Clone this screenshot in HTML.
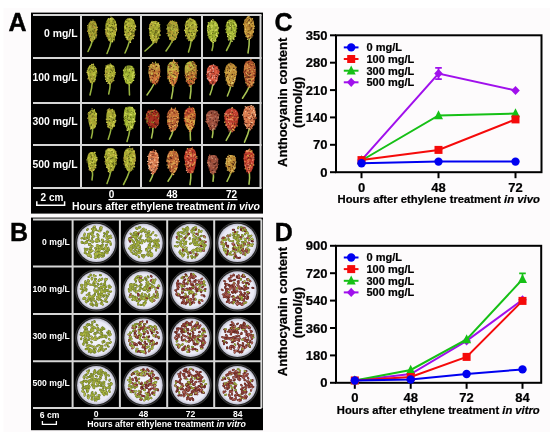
<!DOCTYPE html><html><head><meta charset="utf-8"><style>
html,body{margin:0;padding:0;background:#fff;}
svg{display:block;}
text{font-family:"Liberation Sans",Arial,sans-serif;font-weight:bold;stroke:#000;stroke-width:0.22px;}
.pl{font-size:25px;fill:#000;stroke:#000;stroke-width:0.4px;}
.tk{font-size:13px;fill:#000;}
.lg{font-size:11px;fill:#000;}
.ax{font-size:10px;fill:#000;}
.wt{fill:#fff;stroke:none;}
</style></head><body>
<svg width="550" height="437" viewBox="0 0 550 437">
<defs>
<filter id="bl" x="-20%" y="-20%" width="140%" height="140%"><feGaussianBlur stdDeviation="0.35"/></filter>
<filter id="bl2" x="-5%" y="-5%" width="110%" height="110%"><feGaussianBlur stdDeviation="0.22"/></filter>
<radialGradient id="rim"><stop offset="0.86" stop-color="#707070"/><stop offset="0.93" stop-color="#3a3a3a"/><stop offset="1" stop-color="#1a1a1a"/></radialGradient>
<radialGradient id="plate"><stop offset="0" stop-color="#f6f6fc"/><stop offset="0.85" stop-color="#eaeaf6"/><stop offset="1" stop-color="#c0c0d0"/></radialGradient>
</defs>
<rect width="550" height="437" fill="#fff"/>
<rect x="3.5" y="8" width="546.5" height="424" fill="#fdfbfc"/>

<text x="8.6" y="30.8" class="pl">A</text>
<text x="10" y="240.8" class="pl">B</text>
<text x="274.5" y="30.8" class="pl">C</text>
<text x="274.8" y="240.5" class="pl">D</text>
<rect x="31" y="12.6" width="232" height="201" fill="#000"/>
<g filter="url(#bl)"><path d="M92.8 39.5Q91.2 45.5 88.0 51.5" stroke="#98b440" stroke-width="1.55" fill="none" stroke-linecap="round"/><path d="M97.0 31.0 96.7 33.2 96.4 34.9 96.0 36.5 95.5 37.8 95.0 38.9 94.5 39.8 93.9 40.5 93.3 40.9 92.5 41.0 91.7 40.9 91.1 40.5 90.5 39.8 90.0 38.9 89.5 37.8 89.0 36.5 88.6 34.9 88.3 33.2 88.0 31.0 87.8 28.8 87.9 27.1 88.1 25.5 88.4 24.2 88.9 23.1 89.6 22.2 90.4 21.5 91.3 21.1 92.5 21.0 93.7 21.1 94.6 21.5 95.4 22.2 96.1 23.1 96.6 24.2 96.9 25.5 97.1 27.1 97.2 28.8Z" fill="#a4a234"/><path d="M90.7 40.5h0M96.3 36.9h0M97.2 27.6h0M87.7 25.8h0M95.7 36.9h0M94.7 38.8h0M96.3 35.2h0M91.6 41.4h0M94.4 37.4h0M89.9 27.0h0M90.4 37.2h0M92.1 32.3h0M89.5 34.1h0M88.9 32.9h0M94.1 37.0h0M88.5 28.6h0" stroke="#c8c048" stroke-width="1.4" stroke-linecap="round"/><path d="M93.4 41.0h0M95.7 38.3h0M88.2 28.2h0M88.3 25.9h0M95.9 34.1h0M94.2 30.0h0M90.4 36.3h0M93.5 32.0h0M92.6 31.0h0M90.1 31.7h0M91.6 35.0h0M93.3 24.5h0M95.1 29.4h0M92.5 24.3h0M92.2 27.1h0M95.3 36.1h0M89.0 34.7h0" stroke="#606018" stroke-width="1.4" stroke-linecap="round"/><path d="M97.1 29.7h0M93.0 20.1h0M89.2 31.7h0M90.2 36.4h0M94.4 34.4h0M95.1 24.9h0M88.3 29.9h0M94.0 23.3h0M94.8 35.0h0M96.1 30.0h0M92.7 38.4h0" stroke="#b8c040" stroke-width="1.4" stroke-linecap="round"/><path d="M87.6 31.2h0M90.3 39.7h0M96.7 34.9h0M97.2 27.2h0M92.3 24.9h0M92.2 34.5h0M94.1 27.1h0M96.1 30.3h0M90.2 24.1h0M93.4 25.2h0M90.3 35.2h0M95.3 23.1h0M93.2 26.9h0M90.8 22.1h0M94.0 21.9h0M95.7 32.3h0M94.8 27.9h0" stroke="#c89838" stroke-width="1.4" stroke-linecap="round"/><path d="M94.8 21.5h0M88.0 27.4h0M90.8 21.1h0M87.9 31.3h0M94.9 34.2h0M92.2 34.6h0M91.2 24.5h0M91.2 32.2h0M88.2 28.8h0M96.4 32.4h0M89.0 32.1h0M96.6 32.4h0M93.0 24.0h0M93.4 38.4h0M93.1 27.5h0M94.5 31.8h0M90.2 23.5h0" stroke="#8c8424" stroke-width="1.4" stroke-linecap="round"/><path d="M95.8 25.9h0M92.6 25.7h0M94.0 22.8h0M94.3 25.3h0M90.7 37.5h0M94.4 35.1h0M96.7 31.9h0" stroke="#54541a" stroke-width="1.1" stroke-linecap="round"/></g>
<g filter="url(#bl)"><path d="M111.3 40.5Q110.0 47.0 107.0 53.5" stroke="#98b440" stroke-width="1.55" fill="none" stroke-linecap="round"/><path d="M116.4 30.0 116.1 32.6 115.7 34.7 115.2 36.6 114.6 38.2 114.0 39.5 113.4 40.6 112.7 41.4 111.9 41.8 111.0 42.0 110.1 41.8 109.3 41.4 108.6 40.6 108.0 39.5 107.4 38.2 106.8 36.6 106.3 34.7 105.9 32.6 105.6 30.0 105.4 27.4 105.4 25.3 105.7 23.4 106.1 21.8 106.7 20.5 107.5 19.4 108.4 18.6 109.6 18.2 111.0 18.0 112.4 18.2 113.6 18.6 114.5 19.4 115.3 20.5 115.9 21.8 116.3 23.4 116.6 25.3 116.6 27.4Z" fill="#a4a830"/><path d="M108.4 18.7h0M115.3 22.1h0M111.9 17.6h0M114.2 39.3h0M116.4 27.9h0M110.5 26.7h0M111.7 25.3h0M110.9 31.5h0M115.1 32.6h0M113.0 19.0h0M115.8 28.8h0M109.5 25.2h0M110.2 31.4h0M109.9 38.8h0M111.1 21.2h0M115.8 25.5h0M109.8 38.3h0M111.0 19.3h0M113.2 28.1h0M112.8 25.1h0M106.6 27.0h0" stroke="#c8cc44" stroke-width="1.4" stroke-linecap="round"/><path d="M114.0 40.8h0M106.5 22.6h0M114.3 40.5h0M110.9 16.8h0M106.9 21.9h0M112.9 27.2h0M112.2 24.6h0M111.5 26.8h0M113.5 27.3h0M113.7 28.9h0M114.8 28.9h0M113.9 28.8h0M110.1 37.6h0M114.7 35.7h0M107.5 25.7h0M109.0 21.2h0M111.4 40.1h0M110.1 27.5h0M107.5 37.3h0M105.8 28.3h0M114.6 23.6h0M112.5 24.6h0M109.4 32.9h0" stroke="#606418" stroke-width="1.4" stroke-linecap="round"/><path d="M105.6 32.1h0M105.4 29.4h0M108.1 19.6h0M112.3 18.6h0M116.5 29.5h0M111.8 36.2h0M108.8 30.0h0M110.7 25.7h0M114.9 34.3h0M111.0 30.7h0M110.6 31.9h0M111.4 34.9h0M108.4 28.9h0M106.5 31.7h0M114.5 28.4h0M107.5 24.4h0M112.8 35.3h0M113.1 34.6h0M113.4 26.4h0M115.2 35.2h0M111.1 20.7h0M113.3 35.7h0" stroke="#b4b83a" stroke-width="1.4" stroke-linecap="round"/><path d="M112.5 41.8h0M116.0 24.5h0M116.3 29.3h0M107.3 28.1h0M115.2 34.4h0M116.2 30.8h0M108.6 29.0h0M107.8 33.4h0M108.8 34.3h0M110.0 32.9h0M110.6 18.5h0M112.9 33.2h0M110.1 38.1h0M112.4 40.9h0M106.1 30.1h0M111.3 30.1h0M109.4 39.4h0" stroke="#d8d458" stroke-width="1.4" stroke-linecap="round"/><path d="M106.5 35.9h0M106.0 34.3h0M109.1 40.4h0M105.9 33.1h0M115.4 31.0h0M116.2 27.3h0M108.5 35.4h0M108.3 21.8h0M109.8 22.1h0M106.6 32.2h0M114.5 30.9h0M113.9 32.9h0M111.0 36.0h0M107.4 36.4h0M114.2 27.0h0M106.1 31.0h0" stroke="#b09838" stroke-width="1.4" stroke-linecap="round"/><path d="M113.3 20.3h0M112.6 28.5h0M114.1 29.2h0M109.9 31.2h0M114.0 20.9h0M115.1 28.4h0M113.4 38.0h0M113.6 38.3h0M114.5 24.2h0M113.0 22.1h0M111.9 31.2h0M107.0 26.7h0M115.7 30.2h0M110.3 27.5h0M111.8 27.3h0M110.7 32.4h0M109.1 38.2h0M107.4 30.9h0M112.4 31.6h0M109.5 23.3h0M114.8 23.0h0M110.5 35.8h0M113.7 29.1h0M111.2 38.1h0" stroke="#54541a" stroke-width="1.1" stroke-linecap="round"/></g>
<g filter="url(#bl)"><path d="M129.9 39.6Q128.2 46.3 125.0 53.0" stroke="#98b440" stroke-width="1.55" fill="none" stroke-linecap="round"/><path d="M135.0 29.6 134.7 32.1 134.3 34.1 133.8 35.9 133.2 37.4 132.6 38.7 132.0 39.7 131.3 40.5 130.5 40.9 129.6 41.1 128.7 40.9 127.9 40.5 127.2 39.7 126.6 38.7 126.0 37.4 125.4 35.9 124.9 34.1 124.5 32.1 124.2 29.6 124.0 27.1 124.0 25.1 124.3 23.3 124.7 21.8 125.3 20.5 126.1 19.5 127.0 18.7 128.2 18.3 129.6 18.1 131.0 18.3 132.2 18.7 133.1 19.5 133.9 20.5 134.5 21.8 134.9 23.3 135.2 25.1 135.2 27.1Z" fill="#a4a830"/><path d="M124.6 34.8h0M133.3 20.6h0M130.4 42.3h0M125.7 28.2h0M128.0 30.9h0M129.1 36.1h0M129.7 27.4h0M125.2 31.8h0M128.6 35.0h0M129.6 32.4h0M134.6 28.3h0M129.5 32.8h0M125.0 27.2h0M133.6 28.2h0M128.8 23.2h0M128.2 25.5h0M126.1 21.4h0M130.7 33.5h0M128.3 39.3h0M133.3 28.4h0" stroke="#c8cc44" stroke-width="1.4" stroke-linecap="round"/><path d="M125.1 34.6h0M133.2 38.2h0M133.7 35.2h0M128.7 27.1h0M126.8 20.3h0M126.0 34.0h0M132.8 32.8h0M128.0 39.0h0M131.4 35.2h0M129.0 18.5h0M133.1 34.5h0M126.4 37.3h0M130.9 28.7h0M133.9 24.4h0M128.3 38.4h0M131.6 32.0h0M125.8 30.5h0M129.4 37.0h0M133.3 29.2h0M128.3 32.7h0M130.7 35.3h0M129.7 30.4h0M126.7 26.4h0M130.4 31.4h0M132.3 34.5h0" stroke="#606418" stroke-width="1.4" stroke-linecap="round"/><path d="M127.0 39.1h0M126.0 37.2h0M127.1 39.4h0M130.1 41.7h0M135.6 29.7h0M134.0 27.3h0M127.0 30.8h0M125.6 32.5h0M128.8 19.5h0M132.8 27.6h0M127.1 25.6h0M130.2 23.7h0M130.1 32.2h0M130.5 28.5h0M131.1 23.1h0M128.0 39.8h0M125.7 34.8h0M127.6 29.5h0" stroke="#b4b83a" stroke-width="1.4" stroke-linecap="round"/><path d="M130.5 42.2h0M131.7 19.4h0M133.8 36.0h0M133.2 38.5h0M135.2 25.2h0M135.3 26.8h0M135.6 26.4h0M130.5 34.5h0M133.5 30.9h0M130.8 30.5h0M125.2 26.0h0M127.0 37.5h0M127.8 38.2h0M132.8 35.5h0M125.3 34.9h0M130.4 33.2h0M128.6 26.7h0M131.3 29.4h0M131.6 26.0h0M126.5 37.1h0M133.1 31.1h0M131.1 31.0h0M129.4 19.1h0M127.4 24.1h0M125.6 34.3h0" stroke="#d8d458" stroke-width="1.4" stroke-linecap="round"/><path d="M134.4 35.3h0M134.8 27.4h0M127.7 19.1h0M134.9 25.6h0M132.4 29.9h0M132.6 35.2h0M130.7 28.2h0M128.6 33.8h0M129.4 39.2h0M128.2 34.5h0M125.2 32.0h0M129.7 34.0h0M129.7 32.1h0M131.2 28.4h0M128.5 25.8h0" stroke="#b09838" stroke-width="1.4" stroke-linecap="round"/><path d="M131.7 31.3h0M125.3 30.0h0M129.6 27.6h0M132.8 31.0h0M133.8 32.2h0M128.8 21.1h0M131.7 27.5h0M126.2 23.3h0M126.6 26.8h0M125.6 23.7h0M130.6 29.6h0M131.3 32.0h0M129.0 40.6h0M124.8 24.9h0" stroke="#54541a" stroke-width="1.1" stroke-linecap="round"/></g>
<g filter="url(#bl)"><path d="M154.9 41.5Q150.8 46.2 145.0 51.0" stroke="#98b440" stroke-width="1.55" fill="none" stroke-linecap="round"/><path d="M160.0 32.0 159.7 34.4 159.3 36.3 158.8 38.0 158.2 39.5 157.6 40.7 157.0 41.7 156.3 42.4 155.5 42.9 154.6 43.0 153.7 42.9 152.9 42.4 152.2 41.7 151.6 40.7 151.0 39.5 150.4 38.0 149.9 36.3 149.5 34.4 149.2 32.0 149.0 29.6 149.0 27.7 149.3 26.0 149.7 24.5 150.3 23.3 151.1 22.3 152.0 21.6 153.2 21.1 154.6 21.0 156.0 21.1 157.2 21.6 158.1 22.3 158.9 23.3 159.5 24.5 159.9 26.0 160.2 27.7 160.2 29.6Z" fill="#a4a830"/><path d="M160.0 35.0h0M158.9 38.2h0M159.7 24.7h0M158.7 22.8h0M150.7 29.2h0M156.4 40.2h0M150.5 32.6h0M153.6 25.1h0M152.5 35.2h0M154.7 32.2h0M157.0 40.6h0M155.6 23.2h0M156.3 29.8h0M153.5 35.3h0M154.2 35.3h0M153.3 38.3h0M151.9 40.3h0M157.3 25.3h0M153.7 41.0h0" stroke="#c8cc44" stroke-width="1.4" stroke-linecap="round"/><path d="M152.1 21.2h0M157.2 40.9h0M156.3 42.7h0M153.9 34.7h0M155.6 32.0h0M149.6 31.2h0M154.9 33.1h0M158.9 28.5h0M151.3 30.7h0M158.4 32.6h0M158.1 36.2h0M154.8 35.4h0M157.4 31.0h0M157.6 35.9h0M155.0 42.0h0M157.5 37.4h0M156.2 30.8h0M154.7 32.3h0M156.9 22.5h0" stroke="#606418" stroke-width="1.4" stroke-linecap="round"/><path d="M152.9 42.4h0M150.6 38.5h0M160.1 35.1h0M152.2 22.0h0M154.3 39.6h0M153.2 37.8h0M158.6 31.5h0M153.6 39.3h0M154.9 32.1h0M151.1 24.4h0M158.9 35.3h0M155.5 27.9h0M159.4 27.3h0M155.2 36.1h0M159.1 34.9h0M155.8 23.7h0M153.9 25.7h0M155.7 29.6h0M154.3 42.3h0M153.0 30.7h0" stroke="#b4b83a" stroke-width="1.4" stroke-linecap="round"/><path d="M150.4 24.5h0M151.5 22.3h0M149.2 28.6h0M155.7 21.4h0M153.1 35.4h0M158.2 23.8h0M154.6 39.8h0M154.3 25.5h0M153.7 40.2h0M156.6 36.8h0M151.7 25.3h0M152.3 37.0h0M155.1 23.8h0M158.3 32.2h0M152.8 22.9h0" stroke="#d8d458" stroke-width="1.4" stroke-linecap="round"/><path d="M150.2 25.4h0M156.5 42.2h0M150.0 35.4h0M160.2 31.0h0M155.6 21.6h0M150.0 24.9h0M153.9 42.6h0M158.2 30.4h0M150.9 23.9h0M153.5 39.3h0M155.2 40.0h0M151.1 27.5h0M156.0 35.7h0M153.9 26.7h0M152.5 24.0h0M155.7 38.2h0M159.5 27.0h0M151.7 37.1h0M156.0 41.9h0M154.8 30.2h0M150.0 26.3h0" stroke="#b09838" stroke-width="1.4" stroke-linecap="round"/><path d="M157.0 40.8h0M157.3 37.1h0M159.3 27.6h0M158.2 35.3h0M153.4 29.1h0M154.4 37.2h0M154.9 42.1h0M150.0 33.9h0M155.5 32.1h0M156.5 32.8h0M151.4 25.4h0M155.7 30.3h0M154.9 33.9h0M158.2 36.8h0M155.1 25.8h0M158.2 34.4h0M152.9 32.0h0M155.0 24.6h0" stroke="#54541a" stroke-width="1.1" stroke-linecap="round"/></g>
<g filter="url(#bl)"><path d="M173.0 39.5Q170.3 45.2 166.0 51.0" stroke="#98b440" stroke-width="1.55" fill="none" stroke-linecap="round"/><path d="M178.1 31.0 177.8 33.2 177.4 34.9 176.9 36.5 176.3 37.8 175.7 38.9 175.1 39.8 174.4 40.5 173.6 40.9 172.7 41.0 171.8 40.9 171.0 40.5 170.3 39.8 169.7 38.9 169.1 37.8 168.5 36.5 168.0 34.9 167.6 33.2 167.3 31.0 167.1 28.8 167.1 27.1 167.4 25.5 167.8 24.2 168.4 23.1 169.2 22.2 170.1 21.5 171.3 21.1 172.7 21.0 174.1 21.1 175.3 21.5 176.2 22.2 177.0 23.1 177.6 24.2 178.0 25.5 178.3 27.1 178.3 28.8Z" fill="#a4a234"/><path d="M169.7 39.0h0M166.8 28.9h0M178.3 32.5h0M175.0 25.5h0M175.8 30.4h0M172.7 37.0h0M173.1 34.4h0M172.3 30.1h0M171.8 28.1h0M168.5 35.6h0M172.2 21.3h0M177.0 29.8h0M175.9 37.9h0M175.4 32.6h0" stroke="#c8c048" stroke-width="1.4" stroke-linecap="round"/><path d="M178.8 29.8h0M167.7 33.3h0M168.1 25.0h0M172.4 42.2h0M178.2 28.6h0M174.5 21.2h0M170.6 30.0h0M168.9 36.5h0M169.6 24.6h0M172.7 34.1h0M172.5 35.7h0M169.0 30.5h0M168.9 26.4h0" stroke="#606018" stroke-width="1.4" stroke-linecap="round"/><path d="M168.2 35.8h0M170.4 21.8h0M175.4 39.2h0M171.6 23.5h0M174.2 29.3h0M168.5 30.4h0M170.1 38.1h0M171.6 29.0h0M177.0 34.1h0M173.1 27.4h0M173.0 33.5h0M173.0 30.4h0M167.8 27.9h0M175.3 32.7h0M177.6 30.1h0M171.4 35.8h0" stroke="#b8c040" stroke-width="1.4" stroke-linecap="round"/><path d="M172.3 41.3h0M170.0 39.0h0M169.6 22.7h0M176.5 37.3h0M167.1 33.5h0M170.4 21.1h0M176.6 22.5h0M175.3 34.6h0M172.4 31.9h0M170.5 32.2h0M169.3 30.2h0M173.6 38.8h0M176.1 31.5h0M177.9 30.7h0M174.4 23.8h0M170.4 37.2h0M169.7 24.1h0M171.3 23.3h0M171.7 37.4h0M174.2 35.4h0M174.1 27.7h0M171.6 34.1h0M173.0 33.6h0M168.9 32.2h0M170.8 31.8h0M171.8 37.3h0M177.1 33.5h0" stroke="#c89838" stroke-width="1.4" stroke-linecap="round"/><path d="M172.2 41.8h0M172.3 20.8h0M167.2 25.3h0M171.0 30.6h0M169.5 25.2h0M170.0 32.0h0M172.7 34.9h0M170.5 36.0h0M169.7 33.5h0M174.4 25.6h0M169.5 28.9h0M169.2 26.0h0M176.4 26.9h0" stroke="#8c8424" stroke-width="1.4" stroke-linecap="round"/><path d="M170.3 33.0h0M170.1 26.7h0M169.8 23.3h0M167.6 30.2h0M172.5 35.6h0M171.0 24.9h0M173.7 25.5h0M173.3 27.2h0M168.8 25.6h0M176.1 26.8h0M174.0 27.3h0M168.9 32.5h0M173.9 36.3h0M176.6 32.4h0M176.9 32.7h0M173.8 33.1h0M172.9 29.1h0M175.0 37.4h0M176.6 32.9h0" stroke="#54541a" stroke-width="1.1" stroke-linecap="round"/></g>
<g filter="url(#bl)"><path d="M191.3 39.5Q190.7 45.8 188.5 52.0" stroke="#98b440" stroke-width="1.55" fill="none" stroke-linecap="round"/><path d="M196.8 30.0 196.5 32.4 196.1 34.3 195.5 36.0 194.9 37.5 194.3 38.7 193.6 39.7 192.8 40.4 192.0 40.9 191.0 41.0 190.0 40.9 189.2 40.4 188.4 39.7 187.7 38.7 187.1 37.5 186.5 36.0 185.9 34.3 185.5 32.4 185.2 30.0 185.0 27.6 185.0 25.7 185.2 24.0 185.7 22.5 186.3 21.3 187.2 20.3 188.2 19.6 189.4 19.1 191.0 19.0 192.6 19.1 193.8 19.6 194.8 20.3 195.7 21.3 196.3 22.5 196.8 24.0 197.0 25.7 197.0 27.6Z" fill="#a4a830"/><path d="M191.5 19.2h0M185.7 35.8h0M189.4 19.5h0M188.8 40.6h0M185.3 24.9h0M192.1 40.2h0M197.5 30.7h0M185.6 32.7h0M189.0 37.2h0M190.8 34.2h0M191.7 35.2h0M192.1 23.0h0M187.6 28.6h0M190.3 31.2h0M185.9 30.8h0M194.2 23.5h0M195.6 24.5h0M187.2 21.6h0M193.4 33.6h0M190.5 25.4h0M193.5 38.1h0M193.2 35.5h0M194.3 27.0h0M189.9 34.6h0M194.8 36.9h0M185.9 26.4h0M190.3 36.2h0M185.8 28.8h0M196.4 25.7h0" stroke="#c8cc44" stroke-width="1.4" stroke-linecap="round"/><path d="M187.8 18.9h0M189.6 18.4h0M197.0 24.5h0M196.1 35.7h0M187.4 38.3h0M194.2 38.8h0M185.8 24.7h0M188.4 29.8h0M187.9 34.4h0M189.6 28.0h0M193.0 24.8h0M188.6 29.8h0M192.3 34.5h0M189.5 27.1h0M188.9 28.7h0M190.7 36.8h0M187.3 23.1h0M188.4 32.3h0M191.7 21.1h0M190.3 20.8h0M193.8 36.5h0" stroke="#606418" stroke-width="1.4" stroke-linecap="round"/><path d="M192.0 41.1h0M197.2 27.0h0M193.4 22.8h0M191.0 30.4h0M188.6 20.6h0M191.4 38.1h0M190.0 37.9h0M189.4 30.7h0M188.7 27.4h0M193.6 20.5h0M190.5 26.9h0M191.2 32.1h0M195.5 26.7h0M193.4 33.7h0M188.2 24.8h0M195.2 31.3h0M190.9 34.8h0M192.6 28.5h0M196.0 31.0h0M189.2 26.6h0M187.6 29.3h0M192.8 39.0h0M194.2 36.2h0" stroke="#b4b83a" stroke-width="1.4" stroke-linecap="round"/><path d="M184.6 30.2h0M185.5 31.6h0M190.1 18.5h0M186.5 21.9h0M191.4 24.9h0M186.8 28.3h0M194.3 24.9h0M191.1 40.2h0M196.3 29.4h0M185.8 26.5h0M188.5 34.2h0M195.9 24.8h0M190.8 25.5h0M189.9 33.8h0M193.8 34.6h0M194.2 21.7h0M193.9 33.7h0" stroke="#d8d458" stroke-width="1.4" stroke-linecap="round"/><path d="M187.2 38.7h0M189.7 19.7h0M195.9 26.8h0M189.6 34.9h0M195.8 28.5h0M187.9 36.2h0M190.5 33.9h0M194.0 38.4h0M193.6 27.9h0M188.1 26.4h0M186.4 34.7h0M192.3 29.1h0M187.2 29.5h0M193.3 27.4h0M192.9 38.9h0M186.5 24.3h0M195.5 32.0h0M190.7 29.6h0M192.1 20.2h0" stroke="#b09838" stroke-width="1.4" stroke-linecap="round"/><path d="M191.8 25.4h0M194.2 32.4h0M191.8 34.2h0M189.7 32.5h0M186.6 26.6h0M189.2 33.8h0M190.8 37.6h0M187.6 26.2h0M196.1 26.0h0M189.1 32.2h0M193.2 29.5h0M192.1 38.0h0M191.4 32.6h0" stroke="#54541a" stroke-width="1.1" stroke-linecap="round"/></g>
<g filter="url(#bl)"><path d="M213.1 40.7Q213.4 45.6 212.0 50.5" stroke="#98b440" stroke-width="1.55" fill="none" stroke-linecap="round"/><path d="M218.2 31.5 217.9 33.8 217.5 35.7 217.0 37.4 216.4 38.8 215.8 40.0 215.2 40.9 214.5 41.6 213.7 42.1 212.8 42.2 211.9 42.1 211.1 41.6 210.4 40.9 209.8 40.0 209.2 38.8 208.6 37.4 208.1 35.7 207.7 33.8 207.4 31.5 207.2 29.2 207.2 27.3 207.5 25.6 207.9 24.2 208.5 23.0 209.3 22.1 210.2 21.4 211.4 20.9 212.8 20.8 214.2 20.9 215.4 21.4 216.3 22.1 217.1 23.0 217.7 24.2 218.1 25.6 218.4 27.3 218.4 29.2Z" fill="#a2b434"/><path d="M215.2 41.2h0M213.1 42.3h0M208.0 26.2h0M208.2 25.6h0M217.5 36.2h0M208.3 22.8h0M212.3 39.1h0M215.3 31.9h0M210.8 30.7h0M208.2 32.8h0M214.4 29.6h0M217.1 25.1h0M211.1 25.3h0M210.9 24.8h0M210.9 37.8h0M214.1 36.6h0M214.7 24.9h0M211.5 33.5h0M209.7 28.5h0M208.9 25.4h0" stroke="#c8d84c" stroke-width="1.4" stroke-linecap="round"/><path d="M207.6 35.3h0M218.0 32.9h0M208.5 37.8h0M215.8 40.7h0M209.7 22.6h0M215.9 32.0h0M210.9 40.0h0M209.0 28.5h0M216.0 27.0h0M214.1 33.5h0M215.2 33.2h0M217.5 34.2h0" stroke="#687818" stroke-width="1.4" stroke-linecap="round"/><path d="M218.5 32.9h0M213.8 21.0h0M211.4 20.6h0M210.1 36.5h0M211.6 36.8h0M211.8 41.6h0M215.3 39.2h0M215.7 24.6h0M211.1 35.0h0M211.7 38.7h0M211.1 26.8h0M212.7 30.9h0M211.1 39.4h0" stroke="#b8c83c" stroke-width="1.4" stroke-linecap="round"/><path d="M212.9 19.7h0M211.6 21.3h0M218.5 27.9h0M215.7 40.1h0M213.5 42.3h0M207.8 30.8h0M215.9 35.5h0M207.7 28.6h0M217.0 35.4h0M210.6 25.3h0M216.5 36.9h0M215.9 25.7h0M212.3 26.0h0M211.0 39.8h0M215.1 30.3h0M216.4 33.8h0M215.1 23.6h0M216.4 29.9h0M215.3 22.2h0M213.9 41.0h0M212.1 29.9h0M211.6 27.5h0M216.4 29.2h0M211.9 33.1h0M208.0 26.5h0M211.1 40.5h0M211.6 39.1h0" stroke="#dce068" stroke-width="1.4" stroke-linecap="round"/><path d="M218.3 32.7h0M215.1 22.1h0M217.9 33.8h0M210.8 27.9h0M213.4 33.7h0M214.1 29.7h0M209.1 33.4h0M212.9 36.4h0M213.5 32.0h0M210.3 38.7h0M210.5 38.3h0M210.6 28.0h0M217.4 31.7h0M215.1 35.9h0M210.8 35.4h0M212.2 35.2h0M207.5 29.0h0M210.5 35.5h0M213.4 21.7h0M210.0 26.0h0M214.3 39.0h0M214.9 37.4h0M210.0 24.5h0M216.5 37.3h0M214.9 33.3h0" stroke="#8ca028" stroke-width="1.4" stroke-linecap="round"/><path d="M212.2 37.1h0M210.3 29.0h0M209.5 26.5h0M213.5 41.5h0M216.0 28.8h0M212.4 39.7h0M208.7 30.2h0M209.8 35.5h0M215.7 36.4h0M213.1 31.5h0M213.3 23.7h0M212.7 33.4h0" stroke="#54541a" stroke-width="1.1" stroke-linecap="round"/></g>
<g filter="url(#bl)"><path d="M231.6 39.0Q229.9 44.8 226.5 50.5" stroke="#98b440" stroke-width="1.55" fill="none" stroke-linecap="round"/><path d="M236.4 30.0 236.1 32.3 235.7 34.1 235.3 35.7 234.8 37.1 234.2 38.3 233.6 39.3 232.9 39.9 232.2 40.4 231.3 40.5 230.4 40.4 229.7 39.9 229.0 39.3 228.4 38.3 227.8 37.1 227.3 35.7 226.9 34.1 226.5 32.3 226.2 30.0 226.0 27.7 226.0 25.9 226.2 24.3 226.6 22.9 227.2 21.7 227.9 20.7 228.9 20.1 229.9 19.6 231.3 19.5 232.7 19.6 233.7 20.1 234.7 20.7 235.4 21.7 236.0 22.9 236.4 24.3 236.6 25.9 236.6 27.7Z" fill="#a2b434"/><path d="M236.1 31.8h0M230.8 21.4h0M231.5 35.2h0M232.6 35.2h0M234.7 30.6h0M233.3 33.6h0M230.0 33.2h0M230.1 35.5h0M234.9 34.2h0M232.7 25.6h0M229.1 25.1h0M232.1 32.1h0" stroke="#c8d84c" stroke-width="1.4" stroke-linecap="round"/><path d="M236.1 31.4h0M233.9 20.7h0M228.4 21.2h0M235.6 36.3h0M225.8 26.1h0M226.0 29.7h0M227.8 36.6h0M236.4 24.2h0M233.8 32.3h0M232.1 20.5h0M229.2 36.5h0M229.9 26.7h0M230.4 28.6h0M228.2 35.5h0M233.2 23.2h0M232.1 35.4h0M233.7 32.0h0M229.8 25.8h0M234.3 21.9h0M231.2 24.2h0M229.4 25.1h0M227.9 25.2h0M233.5 24.3h0M231.7 30.4h0" stroke="#687818" stroke-width="1.4" stroke-linecap="round"/><path d="M228.2 39.1h0M226.3 32.2h0M233.3 28.3h0M229.4 22.5h0M227.3 26.3h0M230.9 28.2h0M233.4 35.9h0M232.2 27.0h0M232.1 20.8h0M234.4 35.2h0M229.0 35.6h0M227.8 34.1h0M228.1 29.4h0M233.0 27.7h0" stroke="#b8c83c" stroke-width="1.4" stroke-linecap="round"/><path d="M232.1 41.4h0M227.6 36.4h0M228.8 40.0h0M233.9 39.5h0M227.4 22.4h0M236.6 26.1h0M235.5 36.1h0M230.4 38.9h0M230.7 36.3h0M230.5 25.2h0M228.3 34.5h0M232.1 35.3h0M231.0 33.0h0M234.1 22.6h0M229.8 23.5h0M230.1 27.5h0M233.7 38.3h0M234.5 32.0h0M229.8 28.7h0M236.0 25.2h0M235.6 24.4h0M230.5 26.2h0M234.3 22.9h0" stroke="#dce068" stroke-width="1.4" stroke-linecap="round"/><path d="M236.8 28.6h0M226.6 24.6h0M225.7 29.3h0M229.4 39.2h0M230.7 35.1h0M235.1 26.2h0M231.1 32.1h0M228.7 32.1h0M230.2 23.7h0M231.5 35.0h0M232.9 35.8h0M234.7 28.1h0M228.4 37.4h0M231.3 29.5h0" stroke="#8ca028" stroke-width="1.4" stroke-linecap="round"/><path d="M231.9 29.0h0M231.0 22.5h0M231.2 30.3h0M232.3 39.4h0M234.2 26.6h0M230.9 20.7h0M228.6 24.8h0M231.4 27.9h0M226.4 27.1h0M230.6 26.5h0M229.8 34.5h0M231.4 25.8h0M234.7 34.3h0M228.7 23.6h0M234.8 32.0h0" stroke="#54541a" stroke-width="1.1" stroke-linecap="round"/></g>
<g filter="url(#bl)"><path d="M249.3 37.2Q249.5 45.1 248.0 53.0" stroke="#a8c452" stroke-width="1.55" fill="none" stroke-linecap="round"/><path d="M253.9 28.0 253.7 30.3 253.3 32.2 252.8 33.9 252.3 35.3 251.8 36.5 251.2 37.4 250.5 38.1 249.8 38.6 249.0 38.7 248.2 38.6 247.5 38.1 246.8 37.4 246.2 36.5 245.7 35.3 245.2 33.9 244.7 32.2 244.3 30.3 244.1 28.0 243.9 25.7 243.9 23.8 244.1 22.1 244.5 20.7 245.0 19.5 245.8 18.6 246.6 17.9 247.7 17.4 249.0 17.3 250.3 17.4 251.4 17.9 252.2 18.6 253.0 19.5 253.5 20.7 253.9 22.1 254.1 23.8 254.1 25.7Z" fill="#c09038"/><path d="M254.3 26.2h0M247.6 39.2h0M252.5 18.6h0M249.0 16.3h0M243.9 24.3h0M243.7 24.4h0M253.4 31.8h0M247.3 17.5h0M248.1 21.5h0M250.5 19.6h0M245.7 28.6h0M251.8 22.2h0M252.1 23.1h0M246.5 25.1h0M250.7 33.1h0M250.8 30.0h0M245.2 32.2h0M248.6 33.2h0M248.6 36.2h0M247.3 36.7h0M245.6 33.9h0" stroke="#e0c058" stroke-width="1.4" stroke-linecap="round"/><path d="M244.6 32.9h0M244.1 23.2h0M250.7 38.6h0M251.6 18.8h0M252.0 33.9h0M251.8 28.5h0M249.3 26.1h0M246.6 32.5h0M247.8 21.5h0M245.6 24.5h0M250.2 26.2h0M252.2 33.4h0M244.4 27.8h0M250.9 27.9h0M252.5 24.6h0M250.5 23.0h0M249.2 19.8h0M251.8 21.7h0M249.1 30.5h0M248.1 31.2h0M245.7 20.3h0M247.8 18.8h0M250.5 30.3h0" stroke="#806018" stroke-width="1.4" stroke-linecap="round"/><path d="M246.1 36.5h0M251.8 33.8h0M250.8 35.8h0M249.8 24.8h0M245.5 27.4h0M247.4 32.9h0M246.9 33.8h0M251.6 25.8h0M253.0 32.5h0M248.0 29.4h0M246.6 31.7h0M245.3 24.3h0M246.6 25.1h0M244.9 31.2h0" stroke="#d0a040" stroke-width="1.4" stroke-linecap="round"/><path d="M250.4 38.1h0M251.7 36.9h0M248.5 16.8h0M245.0 20.1h0M245.2 31.4h0M249.2 22.6h0M245.5 29.6h0M246.6 19.4h0M253.4 28.4h0M248.3 23.3h0M249.7 23.9h0" stroke="#e8d070" stroke-width="1.4" stroke-linecap="round"/><path d="M254.2 28.3h0M248.0 16.8h0M252.7 35.8h0M246.7 18.6h0M244.3 24.0h0M245.4 21.3h0M248.8 25.9h0M245.0 31.1h0M246.6 19.7h0M246.0 22.3h0M249.0 37.7h0M246.5 28.0h0M249.9 27.9h0M247.9 26.3h0M249.4 25.1h0M247.4 34.3h0M250.1 27.8h0" stroke="#a87028" stroke-width="1.4" stroke-linecap="round"/><path d="M249.6 24.7h0M249.1 34.2h0M251.4 36.1h0M251.7 22.6h0M249.9 37.1h0M250.7 29.1h0M249.6 19.8h0M252.6 20.8h0M248.8 20.6h0M249.1 37.7h0M248.2 33.5h0M251.9 27.5h0M247.1 22.7h0M251.6 28.9h0" stroke="#4a1c14" stroke-width="1.1" stroke-linecap="round"/></g>
<g filter="url(#bl)"><path d="M92.3 81.5Q92.0 88.2 90.0 95.0" stroke="#98b440" stroke-width="1.55" fill="none" stroke-linecap="round"/><path d="M96.5 74.0 96.2 76.0 95.9 77.5 95.5 78.9 95.0 80.1 94.5 81.1 94.0 81.9 93.4 82.5 92.8 82.9 92.0 83.0 91.2 82.9 90.6 82.5 90.0 81.9 89.5 81.1 89.0 80.1 88.5 78.9 88.1 77.5 87.8 76.0 87.5 74.0 87.3 72.0 87.4 70.5 87.6 69.1 87.9 67.9 88.4 66.9 89.1 66.1 89.9 65.5 90.8 65.1 92.0 65.0 93.2 65.1 94.1 65.5 94.9 66.1 95.6 66.9 96.1 67.9 96.4 69.1 96.6 70.5 96.7 72.0Z" fill="#a4a830"/><path d="M91.7 64.4h0M94.3 81.4h0M95.9 68.8h0M96.5 71.4h0M94.0 72.9h0M94.0 80.1h0M91.0 66.0h0M95.2 72.8h0M89.7 69.2h0M88.0 72.5h0M94.2 74.4h0M93.8 67.7h0M90.5 81.9h0M93.9 70.2h0M89.6 67.3h0" stroke="#c8cc44" stroke-width="1.4" stroke-linecap="round"/><path d="M94.3 81.7h0M89.4 80.6h0M88.2 79.4h0M96.6 75.8h0M90.6 79.3h0M90.3 66.8h0M93.4 80.5h0M90.9 77.3h0M91.7 69.5h0M92.3 65.8h0M95.0 69.8h0M90.6 67.0h0M89.6 69.3h0M90.8 77.0h0M92.9 70.1h0M93.8 79.8h0" stroke="#606418" stroke-width="1.4" stroke-linecap="round"/><path d="M87.4 72.3h0M87.4 70.6h0M94.8 80.8h0M96.8 72.9h0M92.5 83.6h0M93.5 64.3h0M93.5 81.4h0M92.4 73.9h0M92.5 74.8h0M94.2 72.7h0M88.4 68.7h0M95.3 76.2h0M95.6 70.5h0" stroke="#b4b83a" stroke-width="1.4" stroke-linecap="round"/><path d="M92.9 64.4h0M87.1 72.3h0M95.1 79.4h0M89.7 66.1h0M89.8 79.9h0M92.0 68.1h0M93.3 75.1h0M91.5 78.9h0M88.5 78.2h0M88.6 75.2h0M88.6 73.6h0" stroke="#d8d458" stroke-width="1.4" stroke-linecap="round"/><path d="M88.1 78.4h0M96.3 70.6h0M87.6 73.9h0M90.9 82.5h0M93.7 80.1h0M91.7 72.4h0M92.3 75.8h0M90.5 67.5h0M91.7 79.6h0M89.7 77.9h0M90.2 79.5h0M92.3 77.2h0" stroke="#b09838" stroke-width="1.4" stroke-linecap="round"/><path d="M93.5 71.3h0M94.0 76.7h0M90.3 72.0h0M89.1 70.3h0M96.1 73.1h0M94.4 67.6h0M90.7 68.7h0M92.3 80.9h0M94.7 70.7h0" stroke="#54541a" stroke-width="1.1" stroke-linecap="round"/></g>
<g filter="url(#bl)"><path d="M110.3 82.0Q110.3 88.0 108.7 94.0" stroke="#98b440" stroke-width="1.55" fill="none" stroke-linecap="round"/><path d="M115.0 74.0 114.7 76.1 114.3 77.7 113.8 79.2 113.3 80.5 112.8 81.5 112.2 82.4 111.5 83.0 110.8 83.4 110.0 83.5 109.2 83.4 108.5 83.0 107.8 82.4 107.2 81.5 106.7 80.5 106.2 79.2 105.7 77.7 105.3 76.1 105.1 74.0 104.9 71.9 104.9 70.3 105.1 68.8 105.5 67.5 106.0 66.5 106.8 65.6 107.6 65.0 108.7 64.6 110.0 64.5 111.3 64.6 112.4 65.0 113.2 65.6 114.0 66.5 114.5 67.5 114.9 68.8 115.1 70.3 115.1 71.9Z" fill="#a4a830"/><path d="M106.1 65.9h0M113.2 80.6h0M115.3 72.6h0M106.7 80.8h0M108.6 76.0h0M111.6 76.9h0M109.1 67.8h0M111.8 78.5h0M107.7 67.3h0M106.7 77.0h0" stroke="#c8cc44" stroke-width="1.4" stroke-linecap="round"/><path d="M108.0 64.8h0M107.8 81.6h0M108.9 64.6h0M105.8 78.0h0M106.3 80.9h0M106.0 76.4h0M111.5 82.5h0M111.6 70.3h0M110.4 72.4h0M110.6 78.0h0M109.4 78.1h0M112.5 81.0h0M106.7 73.4h0M113.5 69.7h0M113.4 67.5h0M112.4 71.2h0M112.2 80.7h0M113.8 68.4h0M106.2 70.0h0M111.5 77.7h0M112.8 77.9h0" stroke="#606418" stroke-width="1.4" stroke-linecap="round"/><path d="M107.0 81.4h0M110.3 63.9h0M115.2 74.1h0M113.6 66.5h0M105.4 71.7h0M111.3 71.5h0M112.5 73.7h0M113.2 69.0h0M109.5 70.6h0M114.1 76.2h0M110.3 65.4h0M108.8 66.5h0M111.2 77.2h0M109.3 71.2h0M113.4 71.5h0M105.8 68.7h0M110.6 77.4h0M107.3 74.6h0M111.6 81.4h0" stroke="#b4b83a" stroke-width="1.4" stroke-linecap="round"/><path d="M108.0 83.4h0M105.4 76.8h0M109.6 83.8h0M106.2 67.9h0M106.6 81.2h0M107.3 66.1h0M113.8 80.6h0M105.7 79.3h0M107.8 67.0h0M105.9 71.3h0M109.5 73.5h0M108.7 82.1h0M107.9 78.5h0M105.7 76.5h0M105.8 70.9h0M111.1 65.2h0M109.3 75.1h0M108.6 73.2h0M109.4 74.1h0M112.6 75.6h0M111.7 66.7h0" stroke="#d8d458" stroke-width="1.4" stroke-linecap="round"/><path d="M104.8 74.7h0M113.3 78.2h0M105.9 71.5h0M112.5 68.7h0M111.2 82.4h0M106.9 72.8h0M111.0 82.8h0M112.6 80.6h0M105.6 74.8h0M107.6 71.6h0" stroke="#b09838" stroke-width="1.4" stroke-linecap="round"/><path d="M112.4 77.0h0M111.4 77.1h0M110.8 69.2h0M109.4 74.0h0M110.7 81.7h0M110.6 82.3h0M111.3 78.1h0M113.0 80.1h0" stroke="#54541a" stroke-width="1.1" stroke-linecap="round"/></g>
<g filter="url(#bl)"><path d="M129.3 83.0Q129.1 89.0 129.5 95.0" stroke="#98b440" stroke-width="1.55" fill="none" stroke-linecap="round"/><path d="M134.4 75.0 134.1 77.1 133.7 78.7 133.2 80.2 132.6 81.5 132.0 82.5 131.4 83.4 130.7 84.0 129.9 84.4 129.0 84.5 128.1 84.4 127.3 84.0 126.6 83.4 126.0 82.5 125.4 81.5 124.8 80.2 124.3 78.7 123.9 77.1 123.6 75.0 123.4 72.9 123.4 71.3 123.7 69.8 124.1 68.5 124.7 67.5 125.5 66.6 126.4 66.0 127.6 65.6 129.0 65.5 130.4 65.6 131.6 66.0 132.5 66.6 133.3 67.5 133.9 68.5 134.3 69.8 134.6 71.3 134.6 72.9Z" fill="#a2b434"/><path d="M126.1 82.1h0M123.8 74.9h0M133.6 80.4h0M129.2 84.8h0M131.7 66.4h0M126.8 82.9h0M126.0 74.2h0M132.7 75.2h0M131.2 80.4h0M126.2 68.0h0M126.0 81.9h0M132.8 68.9h0M130.9 80.9h0M130.3 82.9h0M127.6 80.5h0" stroke="#c8d84c" stroke-width="1.4" stroke-linecap="round"/><path d="M123.8 70.5h0M132.4 66.8h0M128.7 84.4h0M125.7 82.2h0M123.4 75.7h0M133.8 68.7h0M126.4 83.2h0M126.3 66.4h0M129.0 67.6h0M126.7 68.0h0M129.0 66.5h0M130.0 80.9h0M128.0 78.1h0M130.1 68.1h0M128.6 75.6h0M123.7 74.5h0M129.9 69.8h0M131.1 81.7h0" stroke="#687818" stroke-width="1.4" stroke-linecap="round"/><path d="M129.1 84.1h0M134.3 77.6h0M129.8 73.5h0M128.8 82.7h0M130.2 66.6h0M130.7 74.0h0M124.7 70.3h0M131.9 76.1h0M130.0 71.5h0M133.1 68.9h0M130.0 70.7h0M131.7 81.0h0M127.8 79.2h0M132.0 81.8h0M128.9 67.6h0M126.2 81.7h0M128.1 80.4h0M131.2 74.1h0M127.6 70.0h0M125.5 81.0h0" stroke="#b8c83c" stroke-width="1.4" stroke-linecap="round"/><path d="M123.5 70.2h0M123.8 75.2h0M134.4 75.7h0M130.0 68.8h0M133.0 73.7h0M129.5 69.7h0M133.9 72.4h0M125.6 78.5h0M130.7 83.0h0M129.8 82.1h0M131.6 70.0h0M132.8 77.7h0M124.2 77.3h0M132.8 76.1h0" stroke="#dce068" stroke-width="1.4" stroke-linecap="round"/><path d="M124.4 69.9h0M134.9 74.2h0M124.7 79.2h0M134.0 76.9h0M126.4 81.7h0M129.7 83.6h0M123.9 75.0h0M131.0 77.8h0M128.3 72.8h0M125.6 72.8h0M131.3 80.6h0M127.1 71.8h0M126.7 67.0h0M132.0 71.0h0" stroke="#8ca028" stroke-width="1.4" stroke-linecap="round"/><path d="M130.3 83.5h0M129.4 72.3h0M133.0 70.5h0M125.9 71.7h0M128.9 67.9h0M132.1 70.1h0M129.9 73.7h0M130.1 67.0h0M127.7 76.5h0M126.6 67.8h0M126.4 66.8h0M126.5 80.7h0M126.8 66.8h0M132.7 70.0h0M125.9 68.3h0M126.5 70.0h0" stroke="#54541a" stroke-width="1.1" stroke-linecap="round"/></g>
<g filter="url(#bl)"><path d="M154.7 82.5Q151.7 88.8 147.0 95.0" stroke="#a8c452" stroke-width="1.55" fill="none" stroke-linecap="round"/><path d="M160.1 73.6 159.7 75.9 159.3 77.7 158.8 79.3 158.2 80.7 157.6 81.8 156.9 82.8 156.2 83.5 155.4 83.9 154.4 84.0 153.4 83.9 152.6 83.5 151.9 82.8 151.2 81.8 150.6 80.7 150.0 79.3 149.5 77.7 149.1 75.9 148.7 73.6 148.5 71.3 148.6 69.5 148.8 67.9 149.2 66.5 149.9 65.4 150.7 64.4 151.7 63.7 152.9 63.3 154.4 63.2 155.9 63.3 157.1 63.7 158.1 64.4 158.9 65.4 159.6 66.5 160.0 67.9 160.2 69.5 160.3 71.3Z" fill="url(#g_mix1)"/><path d="M158.3 65.0h0M148.8 66.6h0M150.3 64.9h0M151.8 64.5h0M155.0 78.2h0M152.0 79.5h0M151.7 80.1h0M150.6 69.4h0M159.1 75.9h0M155.1 82.9h0M158.7 78.0h0M153.5 65.2h0M152.7 74.5h0M153.8 66.3h0M159.4 74.1h0M152.1 64.7h0M154.8 71.7h0M156.3 79.8h0M154.6 73.4h0M159.1 74.0h0M155.3 80.0h0M154.7 83.0h0" stroke="#e09048" stroke-width="1.4" stroke-linecap="round"/><path d="M158.0 63.7h0M150.2 79.8h0M155.6 84.6h0M157.9 80.4h0M158.8 73.8h0M158.4 72.0h0M155.3 82.4h0M153.5 73.2h0M151.4 75.3h0M156.0 76.3h0M154.2 64.7h0M155.6 66.9h0M151.1 65.5h0M154.8 74.5h0M150.1 74.4h0M152.9 67.1h0M156.8 75.5h0M152.7 69.6h0M150.4 79.3h0" stroke="#a04020" stroke-width="1.4" stroke-linecap="round"/><path d="M158.0 64.0h0M151.0 81.8h0M159.9 76.4h0M155.5 62.2h0M151.4 64.8h0M151.5 74.2h0M151.0 80.6h0M156.4 64.3h0M149.9 70.5h0M153.5 65.7h0M150.3 66.2h0M152.8 73.9h0M157.0 67.7h0M151.9 73.4h0M153.0 73.0h0M156.9 73.8h0M150.6 66.2h0M156.7 76.4h0" stroke="#c8c048" stroke-width="1.4" stroke-linecap="round"/><path d="M157.9 65.4h0M159.1 65.9h0M152.7 62.7h0M158.4 64.9h0M157.8 80.6h0M159.3 65.9h0M150.8 75.9h0M158.2 74.9h0M153.7 66.0h0M150.6 79.9h0M152.4 74.1h0M156.6 68.9h0M150.3 76.9h0M156.8 81.7h0M152.4 80.0h0M158.6 66.8h0M150.0 69.9h0M159.1 73.1h0M157.1 78.4h0M157.9 75.4h0M149.0 73.0h0M155.8 80.2h0" stroke="#d8b058" stroke-width="1.4" stroke-linecap="round"/><path d="M158.5 80.7h0M159.8 76.6h0M157.5 82.7h0M149.9 67.1h0M151.1 69.2h0M153.5 83.4h0M159.6 71.8h0M150.2 70.8h0M152.9 64.1h0M153.3 74.1h0M153.1 75.8h0M154.6 71.5h0M156.1 75.8h0M149.5 70.5h0M150.2 70.6h0M155.5 74.7h0M153.1 71.7h0" stroke="#883818" stroke-width="1.4" stroke-linecap="round"/><path d="M152.8 69.4h0M152.2 75.3h0M154.3 63.8h0M152.4 78.8h0M157.8 78.9h0M151.5 81.1h0M150.5 75.7h0M156.3 80.7h0M158.5 73.8h0M156.6 66.4h0M154.5 70.4h0M151.4 69.1h0M155.4 81.8h0M153.4 76.1h0" stroke="#4a1c14" stroke-width="1.1" stroke-linecap="round"/></g>
<g filter="url(#bl)"><path d="M173.3 83.6Q173.2 91.0 171.4 98.5" stroke="#a8c452" stroke-width="1.55" fill="none" stroke-linecap="round"/><path d="M178.6 73.3 178.2 75.9 177.8 77.9 177.3 79.8 176.8 81.3 176.1 82.7 175.5 83.7 174.7 84.5 174.0 84.9 173.0 85.1 172.0 84.9 171.3 84.5 170.5 83.7 169.9 82.7 169.2 81.3 168.7 79.8 168.2 77.9 167.8 75.9 167.4 73.3 167.2 70.7 167.3 68.7 167.5 66.8 167.9 65.3 168.5 63.9 169.4 62.9 170.3 62.1 171.5 61.7 173.0 61.5 174.5 61.7 175.7 62.1 176.6 62.9 177.5 63.9 178.1 65.3 178.5 66.8 178.7 68.7 178.8 70.7Z" fill="url(#g_mix2)"/><path d="M173.7 62.0h0M178.7 66.9h0M172.3 85.2h0M168.5 78.4h0M172.6 76.0h0M171.6 72.6h0M176.3 69.6h0M170.6 82.0h0M169.6 79.9h0M173.8 77.2h0M170.6 79.5h0M172.3 80.2h0M170.5 67.2h0M172.6 69.9h0M173.2 79.9h0M174.7 69.3h0M171.2 67.4h0M175.1 75.9h0M177.7 71.7h0M174.6 77.6h0M175.8 77.5h0M178.2 71.1h0M175.2 64.7h0" stroke="#d0d050" stroke-width="1.4" stroke-linecap="round"/><path d="M167.6 76.7h0M176.1 63.7h0M177.1 62.8h0M168.5 65.3h0M170.7 62.7h0M174.6 72.5h0M171.0 81.1h0M170.4 66.2h0M170.3 80.7h0M176.9 65.5h0M173.4 78.3h0M173.4 62.8h0M167.9 74.3h0M171.8 74.6h0M169.3 67.6h0M172.0 84.3h0M172.1 79.3h0M177.3 72.8h0M176.7 73.3h0M171.8 65.0h0M173.3 83.7h0M172.5 80.6h0M174.0 71.5h0M171.9 84.2h0M177.6 66.6h0M177.8 70.7h0M174.6 72.8h0M169.6 71.4h0" stroke="#a04828" stroke-width="1.4" stroke-linecap="round"/><path d="M173.5 60.9h0M172.9 85.2h0M173.6 60.1h0M170.3 83.3h0M178.5 73.4h0M174.7 62.3h0M174.0 86.0h0M167.8 78.1h0M173.1 67.6h0M170.5 66.7h0M171.3 67.9h0M173.7 71.0h0M175.6 75.7h0M174.2 70.0h0M170.1 80.5h0M177.0 76.2h0M171.8 70.7h0M171.8 65.7h0M169.5 80.3h0M172.7 62.7h0M174.2 80.6h0M175.0 73.3h0M169.7 77.3h0M170.5 66.0h0M169.3 76.7h0" stroke="#e0a048" stroke-width="1.4" stroke-linecap="round"/><path d="M170.4 62.7h0M169.4 81.1h0M174.3 74.6h0M174.1 76.3h0M177.0 65.9h0M173.1 75.3h0M175.9 76.1h0M173.8 82.0h0M169.4 74.4h0M173.5 69.2h0M174.5 79.2h0M170.8 69.7h0M169.1 74.6h0M171.7 74.8h0M172.5 84.3h0M169.7 69.5h0M177.3 70.8h0M170.9 83.0h0M178.1 70.4h0" stroke="#c8b848" stroke-width="1.4" stroke-linecap="round"/><path d="M178.9 70.7h0M173.2 86.4h0M167.8 78.8h0M171.2 73.6h0M176.7 80.4h0M176.5 76.1h0M168.5 75.1h0M173.4 81.2h0M173.7 67.7h0M174.7 64.6h0" stroke="#7c7420" stroke-width="1.4" stroke-linecap="round"/><path d="M170.1 66.3h0M170.2 66.4h0M172.9 80.5h0M171.5 66.2h0M176.3 65.2h0M174.4 74.8h0M175.2 75.6h0M173.2 74.4h0M175.2 63.2h0M169.9 65.2h0M170.3 65.6h0M173.5 82.1h0M176.3 70.6h0M176.1 65.4h0M170.5 77.0h0M170.1 64.3h0M170.9 71.2h0M170.6 79.5h0M170.2 67.8h0M168.7 74.8h0" stroke="#4a1c14" stroke-width="1.1" stroke-linecap="round"/></g>
<g filter="url(#bl)"><path d="M191.0 83.6Q191.3 91.0 190.0 98.5" stroke="#a8c452" stroke-width="1.55" fill="none" stroke-linecap="round"/><path d="M196.5 73.3 196.2 75.9 195.8 77.9 195.2 79.8 194.6 81.3 194.0 82.7 193.3 83.7 192.5 84.5 191.7 84.9 190.7 85.1 189.7 84.9 188.9 84.5 188.1 83.7 187.4 82.7 186.8 81.3 186.2 79.8 185.6 77.9 185.2 75.9 184.8 73.3 184.7 70.7 184.7 68.7 184.9 66.8 185.4 65.3 186.0 63.9 186.9 62.9 187.9 62.1 189.1 61.7 190.7 61.5 192.3 61.7 193.5 62.1 194.5 62.9 195.4 63.9 196.0 65.3 196.5 66.8 196.7 68.7 196.7 70.7Z" fill="url(#g_mix3)"/><path d="M194.2 82.4h0M190.2 86.4h0M195.8 77.2h0M188.1 76.2h0M191.4 68.0h0M187.4 72.4h0M192.4 70.8h0M194.7 76.4h0M188.3 74.5h0M191.0 69.6h0M187.8 68.0h0M191.2 65.8h0M186.7 75.5h0M188.6 64.8h0M188.7 78.9h0M187.4 71.7h0M193.8 67.3h0M190.2 66.5h0M193.2 77.2h0M196.1 73.1h0M192.7 73.9h0M192.0 64.7h0M192.6 70.6h0M194.5 68.8h0M193.2 68.2h0" stroke="#d0c850" stroke-width="1.4" stroke-linecap="round"/><path d="M186.8 81.5h0M187.5 82.8h0M193.4 61.7h0M194.8 63.3h0M190.0 84.4h0M195.2 79.2h0M196.2 75.0h0M196.3 78.4h0M194.1 78.2h0M195.3 75.2h0M188.9 64.9h0M189.9 79.6h0M193.5 82.3h0M190.6 82.7h0M195.0 79.1h0M191.9 75.2h0M189.7 66.6h0M194.1 68.8h0M188.8 76.5h0M185.3 75.5h0M187.9 75.7h0M191.9 62.8h0M191.6 66.7h0" stroke="#983c20" stroke-width="1.4" stroke-linecap="round"/><path d="M196.3 65.8h0M186.3 81.0h0M197.1 70.6h0M193.9 83.2h0M189.3 85.8h0M189.4 62.3h0M187.6 78.3h0M191.9 63.8h0M189.0 66.0h0M185.8 76.9h0M192.0 72.7h0M194.4 79.7h0M195.2 72.0h0M192.7 82.0h0M188.2 81.7h0M186.1 66.6h0M191.1 79.7h0M191.7 77.2h0M188.1 82.0h0M191.5 72.3h0M193.6 65.0h0M193.8 76.7h0" stroke="#e09048" stroke-width="1.4" stroke-linecap="round"/><path d="M187.0 64.2h0M192.5 61.8h0M191.3 83.4h0M191.8 65.9h0M192.6 66.3h0M191.7 83.5h0M190.9 79.1h0M189.3 70.8h0M192.7 65.2h0M191.8 77.5h0M188.2 69.6h0M190.7 62.3h0M190.6 82.6h0M192.3 63.2h0M194.5 70.7h0M186.9 79.2h0M194.9 75.2h0" stroke="#b0b840" stroke-width="1.4" stroke-linecap="round"/><path d="M186.7 64.5h0M185.1 75.6h0M194.3 62.6h0M195.9 66.0h0M193.2 80.2h0M192.2 77.1h0M186.8 78.0h0M196.0 75.9h0M193.2 79.0h0M194.9 68.3h0M191.0 71.5h0M193.3 63.7h0M193.7 71.3h0M187.1 78.2h0M189.2 81.8h0M189.0 71.6h0M191.0 78.5h0M194.0 66.3h0M191.8 78.9h0M194.7 71.9h0M195.9 74.0h0M196.4 70.2h0M190.9 75.0h0" stroke="#806020" stroke-width="1.4" stroke-linecap="round"/><path d="M192.6 64.0h0M188.1 72.9h0M191.5 79.4h0M191.3 83.2h0M185.9 76.6h0M195.1 75.3h0M193.3 80.8h0M190.4 83.1h0M191.3 72.8h0M190.8 67.6h0M192.8 62.6h0M192.3 70.4h0M192.0 74.6h0M195.5 76.7h0M185.5 75.3h0M187.1 74.0h0M187.5 81.8h0M191.6 83.9h0M187.6 76.2h0M189.7 79.5h0M193.8 65.5h0" stroke="#4a1c14" stroke-width="1.1" stroke-linecap="round"/></g>
<g filter="url(#bl)"><path d="M213.1 83.0Q212.4 88.9 210.0 94.8" stroke="#a8c452" stroke-width="1.55" fill="none" stroke-linecap="round"/><path d="M218.6 74.8 218.2 76.9 217.8 78.6 217.3 80.1 216.7 81.4 216.0 82.5 215.3 83.4 214.6 84.0 213.8 84.4 212.8 84.5 211.8 84.4 211.0 84.0 210.3 83.4 209.6 82.5 208.9 81.4 208.3 80.1 207.8 78.6 207.4 76.9 207.0 74.8 206.8 72.7 206.9 71.0 207.1 69.5 207.5 68.2 208.2 67.1 209.0 66.2 210.1 65.6 211.3 65.2 212.8 65.1 214.3 65.2 215.5 65.6 216.6 66.2 217.4 67.1 218.1 68.2 218.5 69.5 218.7 71.0 218.8 72.7Z" fill="#d85840"/><path d="M213.9 84.5h0M213.3 85.0h0M207.4 78.2h0M212.4 78.2h0M209.4 75.0h0M207.5 72.0h0M214.1 75.3h0M207.6 72.2h0M209.6 80.0h0M216.5 76.1h0M216.9 78.9h0" stroke="#f0a090" stroke-width="1.4" stroke-linecap="round"/><path d="M217.3 80.2h0M215.6 66.3h0M209.8 65.8h0M219.0 74.6h0M208.2 68.4h0M207.0 76.6h0M210.0 83.9h0M213.6 83.1h0M209.3 73.0h0M211.7 76.6h0M217.2 77.9h0M214.4 73.1h0M213.1 71.2h0M211.5 72.5h0M210.7 77.8h0M212.1 71.0h0M215.3 82.4h0M212.5 82.1h0M217.4 71.3h0M214.0 74.3h0" stroke="#a03020" stroke-width="1.4" stroke-linecap="round"/><path d="M208.1 79.2h0M219.1 74.6h0M213.6 64.9h0M210.6 80.4h0M210.1 69.8h0M213.5 70.1h0M209.9 73.6h0M212.9 67.5h0M214.7 77.4h0M209.9 66.6h0M216.2 80.8h0M212.4 74.7h0M209.7 80.0h0M208.9 71.7h0M213.1 71.8h0M208.6 77.7h0M215.9 77.9h0M212.4 77.1h0M213.0 68.5h0" stroke="#f8c8b8" stroke-width="1.4" stroke-linecap="round"/><path d="M218.4 73.4h0M211.2 65.4h0M218.9 69.9h0M206.8 74.5h0M207.0 74.8h0M218.7 72.8h0M216.0 71.9h0M214.7 79.3h0M208.7 69.2h0M211.9 78.9h0M208.6 68.6h0M216.7 67.5h0M211.4 76.0h0M216.6 70.8h0M216.2 69.7h0M218.3 71.5h0M208.7 80.1h0M216.0 72.7h0" stroke="#e06848" stroke-width="1.4" stroke-linecap="round"/><path d="M219.2 71.8h0M212.7 65.2h0M217.6 67.0h0M208.0 76.7h0M212.7 82.1h0M212.7 72.5h0M208.0 77.4h0M209.5 69.1h0M217.9 71.8h0M209.1 78.8h0M218.3 72.5h0M214.2 66.5h0M211.5 69.9h0M212.7 74.2h0M212.3 80.4h0M214.0 70.1h0M214.7 71.1h0M215.3 77.3h0" stroke="#c04030" stroke-width="1.4" stroke-linecap="round"/><path d="M217.9 75.1h0M208.9 75.8h0M211.1 72.3h0M210.0 67.9h0M214.0 67.8h0M213.3 72.5h0M212.0 81.2h0M212.4 82.8h0M216.5 76.4h0M211.6 76.7h0M215.8 76.1h0M211.9 75.0h0M217.0 69.6h0M208.8 74.1h0M207.4 74.8h0M212.3 83.7h0M215.8 78.6h0M213.4 67.0h0M216.9 74.3h0M213.6 81.9h0" stroke="#4a1c14" stroke-width="1.1" stroke-linecap="round"/></g>
<g filter="url(#bl)"><path d="M231.1 84.7Q230.1 90.3 227.4 96.0" stroke="#a8c452" stroke-width="1.55" fill="none" stroke-linecap="round"/><path d="M236.4 74.8 236.0 77.3 235.6 79.3 235.1 81.0 234.6 82.6 233.9 83.8 233.3 84.9 232.5 85.6 231.8 86.0 230.8 86.2 229.8 86.0 229.1 85.6 228.3 84.9 227.7 83.8 227.0 82.6 226.5 81.0 226.0 79.3 225.6 77.3 225.2 74.8 225.0 72.3 225.1 70.3 225.3 68.6 225.7 67.0 226.3 65.8 227.2 64.7 228.1 64.0 229.3 63.6 230.8 63.4 232.3 63.6 233.5 64.0 234.4 64.7 235.3 65.8 235.9 67.0 236.3 68.6 236.5 70.3 236.6 72.3Z" fill="#c09038"/><path d="M232.8 86.2h0M225.0 72.4h0M226.3 80.5h0M236.3 72.2h0M228.9 85.1h0M225.1 70.9h0M229.4 82.5h0M226.3 69.4h0M228.2 81.6h0M234.2 81.1h0M230.2 74.4h0M231.0 78.9h0M228.5 79.0h0M231.5 83.7h0M227.2 77.1h0M228.9 71.9h0M230.5 84.5h0M226.3 79.2h0M231.6 69.1h0M236.0 74.2h0M227.3 72.0h0M235.0 77.4h0M233.0 78.9h0M234.4 73.8h0M229.2 70.1h0M232.3 84.7h0" stroke="#e0c058" stroke-width="1.4" stroke-linecap="round"/><path d="M227.0 65.8h0M233.4 84.9h0M225.4 71.1h0M229.8 86.5h0M225.4 76.2h0M227.6 83.6h0M229.1 63.5h0M225.7 69.9h0M232.1 78.2h0M231.0 84.8h0M229.7 67.8h0M230.6 82.2h0M231.1 74.4h0M229.3 68.1h0M231.9 76.1h0M227.0 80.4h0M233.9 68.2h0M226.6 74.2h0M227.3 68.7h0M226.3 75.8h0M230.5 69.8h0" stroke="#806018" stroke-width="1.4" stroke-linecap="round"/><path d="M236.5 71.7h0M230.9 63.8h0M226.7 70.4h0M234.1 77.0h0M234.6 81.2h0M226.5 69.9h0M227.4 73.5h0M230.1 66.7h0M230.0 77.4h0M230.9 79.1h0M234.4 79.6h0M227.8 80.9h0M231.6 85.4h0M228.5 82.3h0M231.2 79.1h0M230.5 70.9h0M229.9 73.5h0M226.8 72.6h0M227.3 80.2h0M229.8 81.0h0M234.7 75.7h0M226.3 73.4h0M231.7 69.8h0M230.5 67.1h0" stroke="#d0a040" stroke-width="1.4" stroke-linecap="round"/><path d="M229.3 85.2h0M228.6 84.5h0M234.0 69.8h0M233.8 79.2h0M234.8 79.2h0M230.8 70.0h0M232.8 82.7h0M229.9 71.8h0M230.3 76.7h0M232.2 83.3h0M235.5 70.8h0M231.8 76.8h0M233.3 80.8h0M232.0 82.3h0M227.8 77.1h0M229.4 64.6h0" stroke="#e8d070" stroke-width="1.4" stroke-linecap="round"/><path d="M230.8 86.1h0M230.6 63.1h0M236.3 67.3h0M227.2 83.9h0M236.3 72.0h0M236.2 74.4h0M233.8 71.5h0M232.7 81.4h0M231.6 64.8h0M233.3 77.9h0M228.9 84.4h0M232.0 64.9h0M230.8 85.4h0M230.2 76.3h0" stroke="#a87028" stroke-width="1.4" stroke-linecap="round"/><path d="M235.9 69.9h0M227.6 74.2h0M229.2 68.7h0M234.8 76.2h0M232.6 74.4h0M227.4 70.7h0M229.5 71.3h0M230.0 77.8h0M229.5 79.7h0M233.7 81.4h0M232.7 84.9h0M233.2 79.3h0M233.8 68.4h0M227.3 74.6h0M230.1 84.4h0M230.1 64.6h0M234.4 74.0h0M228.7 66.9h0M226.4 76.4h0" stroke="#4a1c14" stroke-width="1.1" stroke-linecap="round"/></g>
<g filter="url(#bl)"><path d="M250.0 85.1Q247.1 91.7 242.5 98.3" stroke="#a8c452" stroke-width="1.55" fill="none" stroke-linecap="round"/><path d="M255.5 73.6 255.1 76.4 254.7 78.7 254.2 80.7 253.6 82.5 252.9 83.9 252.2 85.1 251.5 85.9 250.7 86.4 249.7 86.6 248.7 86.4 247.9 85.9 247.2 85.1 246.5 83.9 245.8 82.5 245.2 80.7 244.7 78.7 244.3 76.4 243.9 73.6 243.7 70.8 243.8 68.5 244.0 66.5 244.4 64.7 245.1 63.3 245.9 62.1 247.0 61.3 248.2 60.8 249.7 60.6 251.2 60.8 252.4 61.3 253.5 62.1 254.3 63.3 255.0 64.7 255.4 66.5 255.6 68.5 255.7 70.8Z" fill="#c06838"/><path d="M251.5 85.9h0M249.9 86.8h0M250.9 59.3h0M247.2 75.0h0M252.8 79.0h0M251.9 64.4h0M252.4 82.7h0M251.6 78.8h0M248.8 65.5h0M247.1 66.6h0M251.1 80.2h0M245.0 70.2h0M253.5 77.1h0M245.8 79.3h0M253.7 73.3h0M251.7 79.8h0" stroke="#e09040" stroke-width="1.4" stroke-linecap="round"/><path d="M255.6 72.6h0M247.1 85.5h0M251.1 86.7h0M248.3 87.3h0M247.8 85.8h0M246.1 61.9h0M254.3 78.5h0M244.1 72.3h0M246.5 82.0h0M254.2 72.6h0M247.3 74.6h0M251.8 75.8h0M249.5 83.7h0M251.1 61.7h0M245.6 74.0h0M254.0 75.1h0M247.1 75.4h0M245.4 70.4h0M250.6 65.3h0M249.5 62.1h0M254.6 67.2h0M247.5 72.8h0M245.9 75.2h0M246.9 80.3h0M245.6 70.5h0M250.9 78.0h0M248.1 76.7h0M248.7 62.2h0M255.0 74.9h0M245.8 69.7h0M247.9 63.1h0M251.7 66.0h0M250.0 76.3h0M245.7 75.9h0M247.5 74.0h0M245.8 77.6h0M248.9 64.7h0M248.4 82.4h0" stroke="#803018" stroke-width="1.4" stroke-linecap="round"/><path d="M254.1 63.8h0M252.7 85.1h0M248.7 87.6h0M245.9 82.7h0M250.2 87.1h0M254.8 69.2h0M244.7 76.9h0M250.3 81.3h0M246.1 68.0h0M247.6 83.8h0M250.1 75.2h0M250.9 82.3h0M245.0 76.7h0M248.1 70.5h0M247.2 64.0h0M245.0 69.1h0M251.0 85.0h0M248.0 70.8h0M252.2 71.4h0M250.1 79.4h0M250.4 70.0h0M248.6 77.2h0M247.9 84.0h0M251.3 79.4h0M250.5 79.0h0M247.7 74.5h0M250.7 74.8h0" stroke="#d0a848" stroke-width="1.4" stroke-linecap="round"/><path d="M254.9 76.4h0M254.1 80.5h0M253.5 82.2h0M243.9 72.0h0M250.9 60.2h0M252.7 85.8h0M250.3 70.8h0M254.3 67.0h0M246.9 79.9h0M246.6 75.4h0M251.2 63.4h0M248.0 82.8h0M245.7 75.0h0M249.7 77.3h0M249.7 73.8h0M253.0 80.8h0M250.0 75.9h0M245.5 80.0h0M253.6 70.7h0M252.5 63.0h0M252.5 77.3h0M249.2 72.0h0" stroke="#a04828" stroke-width="1.4" stroke-linecap="round"/><path d="M253.8 82.3h0M253.6 82.9h0M247.4 79.7h0M248.8 75.1h0M246.6 73.2h0M249.0 79.0h0M253.3 78.4h0M251.7 83.9h0M251.1 75.0h0M244.9 66.1h0M248.0 68.4h0M249.6 85.1h0M249.3 67.6h0M250.2 81.6h0M247.6 65.0h0" stroke="#e8b060" stroke-width="1.4" stroke-linecap="round"/><path d="M249.4 77.2h0M248.5 76.7h0M249.8 74.4h0M247.5 77.0h0M250.6 85.7h0M248.1 63.0h0M245.0 71.3h0M255.0 68.6h0M245.2 77.8h0M249.5 70.8h0M249.0 80.0h0M254.5 68.5h0M249.1 80.4h0M254.4 75.4h0M250.5 80.8h0M249.0 68.6h0M253.2 65.1h0M246.3 77.0h0M245.0 77.7h0M253.3 63.5h0M248.3 74.0h0M250.1 79.7h0M250.3 73.4h0M248.7 77.5h0" stroke="#4a1c14" stroke-width="1.1" stroke-linecap="round"/></g>
<g filter="url(#bl)"><path d="M92.7 127.6Q92.8 132.8 91.3 138.0" stroke="#98b440" stroke-width="1.55" fill="none" stroke-linecap="round"/><path d="M96.5 119.5 96.3 121.6 96.0 123.3 95.6 124.8 95.2 126.0 94.7 127.1 94.2 128.0 93.7 128.6 93.1 129.0 92.4 129.1 91.7 129.0 91.1 128.6 90.6 128.0 90.1 127.1 89.6 126.0 89.2 124.8 88.8 123.3 88.5 121.6 88.3 119.5 88.1 117.4 88.1 115.7 88.3 114.2 88.6 113.0 89.1 111.9 89.7 111.0 90.4 110.4 91.3 110.0 92.4 109.9 93.5 110.0 94.4 110.4 95.1 111.0 95.7 111.9 96.2 113.0 96.5 114.2 96.7 115.7 96.7 117.4Z" fill="#a4a830"/><path d="M88.7 112.6h0M96.5 114.0h0M96.3 115.1h0M94.3 109.8h0M96.4 120.4h0M94.4 110.2h0M90.5 119.6h0M90.2 113.3h0M92.9 124.7h0M94.6 118.6h0M92.1 125.3h0M91.8 118.8h0M91.5 122.6h0" stroke="#c8cc44" stroke-width="1.4" stroke-linecap="round"/><path d="M96.4 121.0h0M89.7 125.9h0M96.6 122.3h0M94.8 117.0h0M90.7 119.1h0M88.9 121.3h0M91.5 124.7h0M94.4 113.2h0M92.7 116.7h0M90.1 114.3h0" stroke="#606418" stroke-width="1.4" stroke-linecap="round"/><path d="M95.1 125.6h0M94.6 127.8h0M94.5 127.5h0M95.9 124.5h0M94.8 126.9h0M96.2 123.4h0M91.1 127.3h0M90.5 123.3h0M96.0 116.3h0M94.7 115.5h0M92.9 128.0h0M91.6 128.4h0M93.9 125.1h0M93.7 113.0h0" stroke="#b4b83a" stroke-width="1.4" stroke-linecap="round"/><path d="M95.2 126.2h0M90.7 128.9h0M96.2 113.5h0M92.1 108.9h0M91.2 128.2h0M91.9 113.9h0M96.2 118.5h0M95.8 114.0h0M91.8 126.9h0M94.2 118.1h0M96.1 120.2h0M91.8 117.1h0M90.9 119.8h0" stroke="#d8d458" stroke-width="1.4" stroke-linecap="round"/><path d="M87.8 118.2h0M88.1 114.0h0M91.4 115.0h0M90.5 121.4h0M91.6 117.4h0M95.0 116.1h0M94.4 117.9h0M92.9 116.3h0M90.0 112.8h0M93.3 123.7h0M96.0 117.7h0M91.9 117.2h0M95.4 124.1h0M90.9 119.0h0M90.8 122.1h0M94.9 124.1h0M95.0 121.4h0" stroke="#b09838" stroke-width="1.4" stroke-linecap="round"/><path d="M91.2 125.6h0M94.4 120.0h0M92.1 116.7h0M93.0 115.7h0M90.8 113.5h0M92.7 112.4h0M91.4 111.4h0M91.5 112.7h0" stroke="#54541a" stroke-width="1.1" stroke-linecap="round"/></g>
<g filter="url(#bl)"><path d="M111.3 127.5Q110.5 133.3 108.2 139.2" stroke="#98b440" stroke-width="1.55" fill="none" stroke-linecap="round"/><path d="M115.5 119.0 115.2 121.2 114.9 122.9 114.5 124.5 114.0 125.8 113.5 126.9 113.0 127.8 112.4 128.5 111.8 128.9 111.0 129.0 110.2 128.9 109.6 128.5 109.0 127.8 108.5 126.9 108.0 125.8 107.5 124.5 107.1 122.9 106.8 121.2 106.5 119.0 106.3 116.8 106.4 115.1 106.6 113.5 106.9 112.2 107.4 111.1 108.1 110.2 108.9 109.5 109.8 109.1 111.0 109.0 112.2 109.1 113.1 109.5 113.9 110.2 114.6 111.1 115.1 112.2 115.4 113.5 115.6 115.1 115.7 116.8Z" fill="#a4a830"/><path d="M106.7 122.3h0M115.6 115.8h0M108.9 127.6h0M112.2 109.4h0M108.1 126.2h0M106.3 119.1h0M109.4 124.3h0M114.4 122.2h0M114.8 116.6h0M111.3 116.9h0M109.9 112.0h0M107.1 119.7h0M112.3 116.3h0M110.9 123.9h0M112.5 124.3h0" stroke="#c8cc44" stroke-width="1.4" stroke-linecap="round"/><path d="M109.1 110.0h0M112.0 129.3h0M107.2 110.8h0M110.8 109.4h0M114.1 110.5h0M108.4 110.0h0M113.2 120.7h0M111.2 125.0h0M111.5 111.5h0M113.2 121.2h0M112.9 113.8h0M112.6 118.5h0M115.0 120.2h0M107.2 120.8h0" stroke="#606418" stroke-width="1.4" stroke-linecap="round"/><path d="M114.5 125.4h0M107.8 126.7h0M114.3 126.3h0M115.4 122.0h0M112.5 116.9h0M112.3 125.5h0M111.6 118.5h0M111.8 128.2h0M111.0 119.3h0M108.1 112.4h0M112.2 125.9h0M111.8 110.6h0M113.5 121.6h0M110.9 114.5h0M108.3 119.7h0" stroke="#b4b83a" stroke-width="1.4" stroke-linecap="round"/><path d="M108.1 109.8h0M107.1 122.2h0M115.7 120.8h0M112.2 111.5h0M111.0 126.0h0M112.7 117.9h0M112.8 126.6h0M113.9 123.9h0M113.0 125.3h0M109.8 120.0h0M109.8 121.0h0M108.6 111.2h0M109.9 116.6h0M109.9 123.0h0M108.7 125.8h0M115.0 114.6h0M113.6 121.5h0M110.8 116.2h0" stroke="#d8d458" stroke-width="1.4" stroke-linecap="round"/><path d="M107.9 111.0h0M109.2 108.7h0M107.4 124.6h0M110.0 127.1h0M114.1 115.8h0M107.6 120.1h0M110.9 110.8h0M108.2 125.4h0M110.7 123.8h0M110.0 110.6h0M111.7 113.9h0" stroke="#b09838" stroke-width="1.4" stroke-linecap="round"/><path d="M107.9 120.8h0M109.5 117.2h0M113.2 120.5h0M113.4 119.5h0M113.0 112.1h0M109.8 126.4h0M112.7 115.9h0M109.5 126.5h0M111.3 118.7h0M109.3 120.4h0M111.4 127.1h0M109.9 121.4h0" stroke="#54541a" stroke-width="1.1" stroke-linecap="round"/></g>
<g filter="url(#bl)"><path d="M129.9 128.8Q129.2 135.2 127.0 141.5" stroke="#98b440" stroke-width="1.55" fill="none" stroke-linecap="round"/><path d="M135.3 118.4 134.9 121.0 134.5 123.1 134.0 124.9 133.4 126.5 132.8 127.8 132.1 128.9 131.4 129.7 130.6 130.1 129.6 130.3 128.6 130.1 127.8 129.7 127.1 128.9 126.4 127.8 125.8 126.5 125.2 124.9 124.7 123.1 124.3 121.0 123.9 118.4 123.7 115.8 123.8 113.7 124.0 111.9 124.4 110.3 125.1 109.0 125.9 107.9 126.9 107.1 128.1 106.7 129.6 106.5 131.1 106.7 132.3 107.1 133.3 107.9 134.1 109.0 134.8 110.3 135.2 111.9 135.4 113.7 135.5 115.8Z" fill="#a2b434"/><path d="M125.5 109.0h0M125.5 109.8h0M135.1 121.3h0M132.1 107.4h0M134.4 111.7h0M134.9 112.6h0M132.8 127.9h0M131.5 127.1h0M126.9 124.7h0M131.2 127.4h0M130.7 126.5h0M134.9 114.7h0M124.5 116.5h0M126.3 119.0h0M132.4 110.1h0M129.3 121.7h0" stroke="#c8d84c" stroke-width="1.4" stroke-linecap="round"/><path d="M128.8 130.6h0M124.3 124.3h0M127.6 107.5h0M126.0 107.7h0M131.8 128.6h0M125.1 109.7h0M129.2 126.2h0M133.8 112.5h0M125.4 118.4h0M133.4 117.5h0M129.4 127.8h0M131.8 115.8h0M128.4 121.4h0M128.2 116.1h0M131.8 125.2h0M125.6 110.9h0M130.8 114.0h0M129.5 120.7h0M127.2 119.7h0M127.3 110.8h0M124.1 117.5h0M130.6 121.1h0M128.3 127.7h0M131.5 117.9h0" stroke="#687818" stroke-width="1.4" stroke-linecap="round"/><path d="M126.0 108.0h0M124.2 120.0h0M129.7 115.5h0M128.3 123.2h0M130.7 108.8h0M128.4 127.8h0M125.9 115.4h0M125.7 110.9h0M128.7 121.4h0M129.0 129.2h0M132.7 118.9h0M130.6 108.3h0M129.4 119.7h0M130.4 108.7h0M126.0 122.8h0M126.0 115.4h0M132.0 115.4h0M128.4 126.7h0M124.5 120.5h0M130.2 113.3h0M130.3 128.4h0M131.0 111.0h0M125.8 121.8h0M130.0 113.7h0M127.2 116.6h0" stroke="#b8c83c" stroke-width="1.4" stroke-linecap="round"/><path d="M127.8 129.6h0M127.7 130.4h0M135.4 113.8h0M127.0 130.1h0M134.8 110.1h0M134.6 121.5h0M125.7 113.1h0M133.2 119.0h0M132.1 107.9h0M124.9 115.3h0M134.5 112.1h0M128.2 127.9h0M128.2 119.9h0M131.4 112.5h0M126.9 113.0h0M132.3 121.9h0M133.4 119.4h0M134.5 121.4h0M129.1 117.5h0M128.0 120.8h0M131.6 127.5h0M130.3 114.4h0M128.9 122.1h0M130.3 121.6h0M131.5 114.7h0M132.2 125.9h0" stroke="#dce068" stroke-width="1.4" stroke-linecap="round"/><path d="M127.4 129.0h0M134.1 116.8h0M130.0 128.7h0M133.7 123.7h0M130.3 117.0h0M130.1 108.9h0M126.3 118.5h0M133.9 115.8h0M131.3 117.4h0M131.1 120.2h0M130.8 112.5h0M129.5 120.3h0M125.6 122.2h0M131.4 118.3h0M125.4 120.7h0M133.4 124.5h0M129.5 109.1h0" stroke="#8ca028" stroke-width="1.4" stroke-linecap="round"/><path d="M131.2 111.3h0M127.9 109.8h0M128.7 123.2h0M127.6 127.4h0M127.0 112.6h0M125.3 116.4h0M127.4 126.2h0M130.3 117.3h0M131.6 123.7h0M130.4 117.0h0M127.6 117.8h0M128.7 120.4h0M128.1 111.1h0M129.0 112.0h0M133.8 123.5h0M127.5 115.9h0M129.6 120.3h0M124.5 119.5h0M127.9 119.8h0M127.7 116.3h0" stroke="#54541a" stroke-width="1.1" stroke-linecap="round"/></g>
<g filter="url(#bl)"><path d="M153.0 126.5Q153.1 132.2 151.5 138.0" stroke="#a8c452" stroke-width="1.55" fill="none" stroke-linecap="round"/><path d="M159.3 119.0 158.9 121.0 158.4 122.5 157.8 123.9 157.1 125.1 156.4 126.1 155.6 126.9 154.7 127.5 153.8 127.9 152.7 128.0 151.6 127.9 150.7 127.5 149.8 126.9 149.0 126.1 148.3 125.1 147.6 123.9 147.0 122.5 146.5 121.0 146.1 119.0 145.9 117.0 145.9 115.5 146.2 114.1 146.7 112.9 147.4 111.9 148.4 111.1 149.6 110.5 151.0 110.1 152.7 110.0 154.4 110.1 155.8 110.5 157.0 111.1 158.0 111.9 158.7 112.9 159.2 114.1 159.5 115.5 159.5 117.0Z" fill="#a83020"/><path d="M148.8 125.3h0M146.8 114.1h0M154.8 126.9h0M147.0 115.7h0M152.8 113.9h0M154.9 115.1h0M158.1 121.1h0M148.9 112.5h0M147.8 116.7h0M151.1 125.9h0M148.9 122.5h0M148.2 113.4h0M154.0 118.2h0M154.2 110.8h0" stroke="#d04830" stroke-width="1.4" stroke-linecap="round"/><path d="M150.1 127.3h0M148.9 110.2h0M158.9 114.3h0M154.7 109.6h0M157.6 124.4h0M155.8 123.6h0M156.0 114.2h0M154.0 122.3h0M156.9 113.8h0M156.9 112.1h0M155.3 112.8h0M154.2 127.3h0M153.7 120.2h0M152.1 121.7h0M152.0 125.7h0M147.4 122.3h0M154.2 116.9h0M148.7 122.2h0M147.8 114.4h0M157.2 117.7h0M153.9 113.6h0M149.3 117.7h0M154.1 123.4h0M148.0 116.2h0M154.7 119.3h0M148.9 115.8h0M151.6 127.2h0M151.7 111.5h0M148.8 124.7h0M158.5 119.2h0" stroke="#701810" stroke-width="1.4" stroke-linecap="round"/><path d="M146.8 115.0h0M146.2 117.9h0M146.9 122.0h0M153.5 128.3h0M149.7 127.7h0M156.6 115.3h0M153.2 115.6h0M153.4 122.5h0M158.3 118.3h0M147.8 119.0h0M149.1 113.4h0M150.9 111.5h0M151.8 122.0h0M151.2 114.0h0M147.3 120.9h0M152.5 110.8h0M157.3 113.8h0M146.8 115.0h0" stroke="#88a030" stroke-width="1.4" stroke-linecap="round"/><path d="M148.1 111.4h0M156.3 126.8h0M156.5 111.3h0M157.6 125.6h0M158.6 123.0h0M155.5 127.8h0M157.5 115.2h0M148.6 123.7h0M153.7 110.8h0M158.1 119.1h0M155.0 113.0h0M154.3 121.6h0M148.1 116.9h0M155.4 115.5h0M148.7 112.2h0" stroke="#c86040" stroke-width="1.4" stroke-linecap="round"/><path d="M147.1 123.1h0M145.3 118.8h0M158.2 124.3h0M157.7 112.6h0M151.8 115.2h0M154.8 113.3h0M153.9 126.7h0M154.1 124.7h0M148.5 123.6h0M158.5 116.6h0M154.0 118.8h0M149.2 118.5h0M156.4 120.0h0M149.2 124.7h0M157.9 115.4h0M156.6 113.2h0M153.9 118.6h0M151.0 116.8h0" stroke="#982818" stroke-width="1.4" stroke-linecap="round"/><path d="M157.3 118.1h0M156.5 125.0h0M155.6 112.1h0M154.3 111.5h0M152.5 112.4h0M149.4 123.5h0M148.1 113.2h0M148.1 120.0h0M151.0 126.4h0M150.1 126.4h0M151.5 112.8h0M148.7 113.7h0M154.7 122.2h0M155.8 124.5h0M155.0 124.3h0M151.1 114.6h0M149.2 125.2h0" stroke="#4a1c14" stroke-width="1.1" stroke-linecap="round"/></g>
<g filter="url(#bl)"><path d="M173.3 129.8Q172.2 134.5 169.5 139.2" stroke="#a8c452" stroke-width="1.55" fill="none" stroke-linecap="round"/><path d="M178.6 120.0 178.2 122.5 177.8 124.4 177.3 126.2 176.8 127.7 176.1 129.0 175.5 130.0 174.7 130.7 174.0 131.2 173.0 131.3 172.0 131.2 171.3 130.7 170.5 130.0 169.9 129.0 169.2 127.7 168.7 126.2 168.2 124.4 167.8 122.5 167.4 120.0 167.2 117.5 167.3 115.6 167.5 113.8 167.9 112.3 168.5 111.0 169.4 110.0 170.3 109.3 171.5 108.8 173.0 108.7 174.5 108.8 175.7 109.3 176.6 110.0 177.5 111.0 178.1 112.3 178.5 113.8 178.7 115.6 178.8 117.5Z" fill="#c06838"/><path d="M175.4 108.2h0M169.3 128.6h0M170.8 130.4h0M178.5 117.1h0M167.7 122.0h0M175.7 118.5h0M175.1 116.1h0M171.6 109.4h0M170.2 116.1h0M168.5 118.0h0M168.2 123.1h0M176.4 121.6h0M177.0 123.2h0M168.9 113.7h0M177.7 121.1h0M177.3 114.3h0M168.2 121.3h0M173.5 116.3h0M178.1 115.2h0M171.7 125.7h0M171.8 122.2h0M172.3 123.6h0" stroke="#e09040" stroke-width="1.4" stroke-linecap="round"/><path d="M177.7 125.2h0M167.0 116.8h0M172.0 108.3h0M170.5 130.8h0M168.4 117.5h0M170.6 121.7h0M169.8 124.4h0M168.9 118.1h0M176.6 125.1h0M176.6 112.1h0M175.5 122.1h0M168.1 114.3h0M177.1 116.4h0M171.6 126.9h0M174.1 112.8h0M171.1 128.7h0M169.5 113.1h0M169.8 111.7h0M178.3 118.9h0M174.3 129.9h0M172.5 110.9h0M175.0 113.1h0M174.1 124.7h0M172.9 120.9h0M168.2 123.2h0" stroke="#803018" stroke-width="1.4" stroke-linecap="round"/><path d="M178.4 119.0h0M178.6 113.8h0M174.6 118.6h0M173.7 126.8h0M172.5 121.4h0M172.0 117.2h0M176.9 124.0h0M176.7 116.4h0M168.4 121.6h0M174.6 110.5h0M175.3 122.4h0M167.8 120.3h0M173.6 129.9h0M169.9 114.5h0M175.7 111.9h0M170.2 121.2h0" stroke="#d0a848" stroke-width="1.4" stroke-linecap="round"/><path d="M176.7 110.8h0M178.0 114.5h0M167.6 124.2h0M167.5 114.3h0M179.1 118.1h0M169.0 126.3h0M177.9 111.5h0M176.2 111.7h0M168.5 116.8h0M177.8 119.9h0M174.9 123.2h0M171.4 118.1h0M173.2 112.5h0M171.6 122.8h0M168.6 123.3h0M175.7 122.4h0M174.3 129.7h0" stroke="#a04828" stroke-width="1.4" stroke-linecap="round"/><path d="M171.4 108.3h0M171.4 131.2h0M177.2 126.5h0M177.2 111.6h0M175.1 129.6h0M169.9 117.6h0M172.9 126.6h0M176.6 122.9h0M177.3 125.5h0M174.3 126.5h0M175.3 125.3h0M167.9 116.8h0M174.6 125.6h0M169.2 119.8h0M169.7 121.4h0M177.6 117.4h0M178.1 121.7h0M172.1 112.7h0M172.5 130.5h0M169.4 126.6h0M172.9 120.4h0M169.2 124.9h0M170.7 127.4h0M171.1 123.4h0" stroke="#e8b060" stroke-width="1.4" stroke-linecap="round"/><path d="M176.4 123.6h0M177.0 126.2h0M176.0 117.5h0M172.4 124.6h0M174.0 117.5h0M174.4 126.7h0M171.9 124.5h0M178.2 119.4h0M171.1 117.7h0M167.9 118.5h0M171.1 123.1h0M168.0 114.7h0M176.8 119.9h0M171.3 126.0h0M171.4 129.4h0" stroke="#4a1c14" stroke-width="1.1" stroke-linecap="round"/></g>
<g filter="url(#bl)"><path d="M190.3 128.8Q190.1 134.6 190.5 140.3" stroke="#a8c452" stroke-width="1.55" fill="none" stroke-linecap="round"/><path d="M195.4 119.0 195.1 121.5 194.7 123.4 194.2 125.2 193.6 126.7 193.0 128.0 192.4 129.0 191.7 129.7 190.9 130.2 190.0 130.3 189.1 130.2 188.3 129.7 187.6 129.0 187.0 128.0 186.4 126.7 185.8 125.2 185.3 123.4 184.9 121.5 184.6 119.0 184.4 116.5 184.4 114.6 184.7 112.8 185.1 111.3 185.7 110.0 186.5 109.0 187.4 108.3 188.6 107.8 190.0 107.7 191.4 107.8 192.6 108.3 193.5 109.0 194.3 110.0 194.9 111.3 195.3 112.8 195.6 114.6 195.6 116.5Z" fill="url(#g_ry)"/><path d="M194.2 109.9h0M184.9 113.2h0M189.3 106.9h0M189.7 130.1h0M185.7 124.8h0M184.3 118.6h0M193.6 108.4h0M194.6 111.4h0M191.8 109.0h0M192.7 123.7h0M188.6 121.6h0M186.5 122.1h0M186.0 117.2h0M190.5 115.4h0M191.7 114.2h0M194.0 116.6h0M191.9 117.9h0M188.5 123.8h0M194.9 113.9h0M189.8 128.4h0M192.9 114.3h0M188.7 119.3h0M191.5 120.0h0M187.6 126.3h0M189.3 115.5h0" stroke="#d8a040" stroke-width="1.4" stroke-linecap="round"/><path d="M184.4 116.9h0M185.0 121.3h0M193.9 126.8h0M192.7 107.6h0M186.3 109.6h0M185.3 122.1h0M192.4 107.8h0M186.0 115.0h0M190.7 114.5h0M192.3 117.5h0M194.4 118.9h0M194.6 117.2h0M191.6 124.9h0M190.1 118.2h0M195.0 116.8h0M187.2 112.4h0M189.5 120.8h0M188.2 123.2h0M189.8 110.9h0M190.0 127.7h0M190.3 124.5h0M192.2 125.0h0M185.8 123.9h0M189.9 115.5h0M191.7 122.4h0M190.5 119.1h0" stroke="#902818" stroke-width="1.4" stroke-linecap="round"/><path d="M190.8 121.4h0M190.1 115.4h0M187.8 122.0h0M192.2 127.6h0M192.7 114.1h0M187.3 119.8h0M188.9 116.7h0M189.4 125.4h0M185.6 118.7h0M194.0 123.9h0M190.5 114.4h0M190.9 116.1h0M186.3 110.8h0" stroke="#e0c050" stroke-width="1.4" stroke-linecap="round"/><path d="M189.4 131.3h0M191.3 128.7h0M189.6 123.8h0M189.9 126.0h0M189.0 111.6h0M189.7 127.9h0M189.6 116.9h0M189.5 120.4h0M192.5 115.4h0M190.4 124.6h0M185.3 121.0h0M187.4 126.7h0M189.9 123.2h0M191.9 125.2h0M188.9 124.7h0M193.0 123.8h0M191.3 116.1h0M192.5 117.5h0" stroke="#e08048" stroke-width="1.4" stroke-linecap="round"/><path d="M191.4 130.9h0M195.2 114.4h0M184.5 120.4h0M193.3 109.9h0M192.9 109.5h0M185.3 110.9h0M190.0 114.0h0M192.0 121.7h0M193.1 123.6h0M190.2 127.4h0M187.5 123.3h0M188.7 125.4h0M187.5 123.0h0M188.2 114.4h0M193.0 113.1h0M194.2 114.6h0M187.2 112.2h0M192.5 126.2h0M193.3 117.0h0M190.8 108.3h0M190.8 115.5h0M188.8 123.5h0" stroke="#a84020" stroke-width="1.4" stroke-linecap="round"/><path d="M191.4 115.8h0M187.3 113.0h0M188.9 113.2h0M190.6 118.4h0M193.2 117.5h0M190.5 111.0h0M186.9 122.2h0M195.3 118.3h0M193.0 126.1h0M193.3 119.3h0M191.9 119.1h0" stroke="#4a1c14" stroke-width="1.1" stroke-linecap="round"/></g>
<g filter="url(#bl)"><path d="M212.8 127.9Q213.3 132.7 212.2 137.5" stroke="#a8c452" stroke-width="1.55" fill="none" stroke-linecap="round"/><path d="M218.5 119.8 218.2 121.9 217.7 123.6 217.2 125.1 216.6 126.3 215.9 127.4 215.2 128.3 214.4 128.9 213.5 129.3 212.5 129.4 211.5 129.3 210.6 128.9 209.8 128.3 209.1 127.4 208.4 126.3 207.8 125.1 207.3 123.6 206.8 121.9 206.5 119.8 206.3 117.7 206.3 116.0 206.5 114.5 207.0 113.3 207.7 112.2 208.6 111.3 209.6 110.7 210.9 110.3 212.5 110.2 214.1 110.3 215.4 110.7 216.4 111.3 217.3 112.2 218.0 113.3 218.5 114.5 218.7 116.0 218.7 117.7Z" fill="#985040"/><path d="M212.1 130.3h0M206.1 121.4h0M217.8 114.3h0M215.9 120.4h0M214.5 120.7h0M212.4 119.0h0M212.9 123.2h0M210.1 123.7h0M209.5 124.4h0M208.6 119.4h0M213.0 117.6h0M211.9 126.4h0M210.6 123.5h0M215.3 116.5h0M211.6 117.7h0M210.4 124.3h0" stroke="#c07058" stroke-width="1.4" stroke-linecap="round"/><path d="M213.4 110.6h0M217.9 114.9h0M209.6 128.5h0M210.0 123.1h0M207.1 121.2h0M211.7 119.6h0M211.1 126.2h0M208.1 123.4h0M214.7 114.3h0M209.9 124.6h0M215.5 112.4h0M216.7 122.7h0M206.8 119.7h0M211.6 112.7h0M207.0 121.4h0M207.6 116.8h0M211.8 112.8h0M216.0 121.4h0" stroke="#682818" stroke-width="1.4" stroke-linecap="round"/><path d="M214.9 129.1h0M212.5 129.8h0M219.0 120.6h0M212.8 129.1h0M207.2 115.1h0M207.0 115.0h0M218.3 117.7h0M207.5 121.7h0M210.2 118.0h0M215.6 127.3h0M207.9 121.2h0M210.7 114.7h0M212.4 125.8h0M217.9 116.4h0M213.6 128.8h0M209.0 115.5h0M210.1 117.8h0M215.8 126.1h0M215.2 112.4h0M213.7 113.1h0M213.8 120.6h0" stroke="#d09070" stroke-width="1.4" stroke-linecap="round"/><path d="M215.7 111.5h0M206.6 115.9h0M206.5 122.1h0M214.7 128.6h0M210.3 129.4h0M206.5 119.2h0M208.7 126.2h0M217.0 111.9h0M218.9 114.9h0M207.2 121.8h0M211.4 119.8h0M213.2 126.7h0M209.1 125.4h0M211.9 122.4h0M207.8 118.3h0M211.9 126.5h0M207.2 119.5h0" stroke="#b06048" stroke-width="1.4" stroke-linecap="round"/><path d="M217.1 125.1h0M213.2 120.5h0M211.2 121.8h0M211.3 116.3h0M217.7 116.4h0M207.5 123.1h0M217.0 123.8h0M210.4 127.8h0M212.2 116.3h0M217.0 122.1h0M215.4 114.2h0M212.0 128.3h0M207.5 117.0h0M210.7 113.8h0M209.7 125.8h0M214.9 122.7h0M214.2 127.1h0M213.2 114.9h0M207.2 117.3h0M215.2 119.8h0" stroke="#a04830" stroke-width="1.4" stroke-linecap="round"/><path d="M213.4 120.6h0M210.2 118.7h0M216.0 111.9h0M217.6 115.2h0M216.9 122.0h0M210.5 126.5h0M214.5 125.2h0M215.5 118.9h0M210.0 119.3h0M218.1 119.6h0M211.6 128.0h0M215.3 127.5h0M217.4 123.6h0M213.6 113.0h0M211.5 113.1h0M216.0 122.5h0M215.9 113.7h0" stroke="#4a1c14" stroke-width="1.1" stroke-linecap="round"/></g>
<g filter="url(#bl)"><path d="M231.8 129.0Q229.8 134.7 226.2 140.4" stroke="#a8c452" stroke-width="1.55" fill="none" stroke-linecap="round"/><path d="M238.2 119.5 237.8 121.9 237.3 123.8 236.7 125.5 236.1 127.0 235.3 128.2 234.5 129.2 233.6 129.9 232.7 130.4 231.5 130.5 230.3 130.4 229.4 129.9 228.5 129.2 227.7 128.2 226.9 127.0 226.3 125.5 225.7 123.8 225.2 121.9 224.8 119.5 224.5 117.1 224.6 115.2 224.8 113.5 225.3 112.0 226.1 110.8 227.1 109.8 228.3 109.1 229.7 108.6 231.5 108.5 233.3 108.6 234.7 109.1 235.9 109.8 236.9 110.8 237.7 112.0 238.2 113.5 238.4 115.2 238.5 117.1Z" fill="#c04030"/><path d="M224.5 116.0h0M225.2 121.1h0M229.1 130.9h0M234.2 111.9h0M234.4 127.3h0M232.8 124.9h0M232.0 127.9h0M228.7 113.0h0M226.9 124.6h0M232.7 129.6h0M232.3 126.2h0M227.5 115.7h0M231.8 127.0h0M237.0 115.2h0M227.2 124.2h0M228.0 127.6h0M225.7 116.0h0M236.2 120.5h0M236.1 123.5h0M234.2 127.4h0M233.1 115.8h0M233.1 123.6h0M225.9 115.2h0M231.3 124.5h0M226.6 118.8h0" stroke="#e07048" stroke-width="1.4" stroke-linecap="round"/><path d="M234.1 130.6h0M232.1 131.4h0M237.8 115.9h0M236.9 121.4h0M228.5 113.0h0M227.5 114.7h0M236.4 124.8h0M234.6 123.9h0M233.5 127.9h0M225.6 120.7h0M228.4 123.8h0M230.5 127.2h0M231.9 122.1h0M236.1 123.6h0M234.1 128.0h0M237.5 121.9h0M229.9 112.4h0M236.5 123.8h0" stroke="#902818" stroke-width="1.4" stroke-linecap="round"/><path d="M233.7 130.2h0M233.5 129.9h0M225.8 124.9h0M234.0 130.2h0M224.7 122.2h0M232.3 107.7h0M237.2 125.9h0M233.6 129.8h0M225.7 115.0h0M228.0 116.5h0M237.9 117.5h0M231.9 111.7h0M231.9 114.6h0M230.2 119.3h0M230.4 114.9h0M235.2 123.2h0M233.2 119.9h0M229.4 123.9h0M234.6 127.3h0M232.1 129.5h0M231.5 118.9h0M236.0 117.7h0M232.8 117.6h0M232.8 125.8h0M228.5 119.3h0M228.9 119.6h0" stroke="#e0b048" stroke-width="1.4" stroke-linecap="round"/><path d="M231.8 108.3h0M229.1 129.5h0M226.2 125.3h0M224.9 113.7h0M232.0 131.7h0M228.1 114.7h0M226.6 115.2h0M231.2 123.2h0M231.8 110.9h0M229.3 119.6h0M236.2 119.0h0M229.6 119.9h0M230.7 119.2h0M235.0 111.4h0M234.8 117.1h0M232.2 119.7h0M231.7 126.4h0M234.8 114.6h0M228.4 126.1h0M229.6 129.0h0M226.4 113.9h0M228.6 122.3h0M228.4 115.1h0M230.6 113.5h0M226.6 119.1h0M229.9 128.0h0" stroke="#f09070" stroke-width="1.4" stroke-linecap="round"/><path d="M233.8 109.5h0M237.1 125.2h0M233.0 130.9h0M235.3 123.1h0M225.0 118.8h0M227.4 117.1h0M233.8 114.0h0M236.3 122.4h0M233.7 118.8h0M235.2 121.3h0M234.4 111.2h0M225.2 116.1h0M228.2 125.5h0M225.3 117.1h0M229.7 128.1h0M233.6 128.0h0M231.4 115.4h0M235.5 118.9h0M229.5 120.7h0M235.6 114.6h0M232.0 124.1h0M236.4 116.5h0M234.1 119.4h0M230.0 116.9h0M236.7 117.8h0M229.5 111.1h0M229.6 116.0h0" stroke="#b03020" stroke-width="1.4" stroke-linecap="round"/><path d="M233.0 115.2h0M229.1 129.1h0M227.5 117.4h0M237.1 116.0h0M234.1 120.1h0M230.6 115.3h0M235.0 117.7h0M234.7 123.1h0M232.4 112.5h0M232.7 127.5h0M234.9 116.5h0M234.8 124.5h0M232.6 123.7h0M232.0 111.9h0M237.0 120.1h0M229.2 115.7h0M231.0 128.7h0M231.6 129.1h0M226.2 115.4h0" stroke="#4a1c14" stroke-width="1.1" stroke-linecap="round"/></g>
<g filter="url(#bl)"><path d="M249.8 127.3Q248.0 134.8 244.5 142.2" stroke="#a8c452" stroke-width="1.55" fill="none" stroke-linecap="round"/><path d="M255.5 117.4 255.2 119.9 254.7 121.9 254.2 123.6 253.6 125.2 252.9 126.4 252.2 127.5 251.4 128.2 250.5 128.6 249.5 128.8 248.5 128.6 247.6 128.2 246.8 127.5 246.1 126.4 245.4 125.2 244.8 123.6 244.3 121.9 243.8 119.9 243.5 117.4 243.3 114.9 243.3 112.9 243.5 111.2 244.0 109.6 244.7 108.4 245.6 107.3 246.6 106.6 247.9 106.2 249.5 106.0 251.1 106.2 252.4 106.6 253.4 107.3 254.3 108.4 255.0 109.6 255.5 111.2 255.7 112.9 255.7 114.9Z" fill="#d87c50"/><path d="M253.2 106.8h0M245.3 106.8h0M251.2 105.6h0M246.5 111.3h0M251.5 110.3h0M252.8 112.0h0M251.3 115.0h0M249.5 124.4h0M251.0 122.0h0M253.6 119.4h0M250.6 127.3h0M251.0 115.6h0M246.5 108.4h0M253.4 112.3h0M245.9 125.3h0" stroke="#f0a878" stroke-width="1.4" stroke-linecap="round"/><path d="M256.2 118.0h0M254.3 122.7h0M248.9 123.1h0M244.1 117.4h0M252.1 110.4h0M254.4 120.0h0M246.1 109.2h0M247.0 120.6h0M246.3 117.7h0M254.2 112.6h0M250.5 123.5h0M247.2 111.6h0M248.1 115.7h0M252.7 124.2h0M250.4 126.3h0M250.1 115.8h0M249.5 113.4h0M245.3 113.2h0M248.1 121.6h0M251.6 126.7h0M251.3 118.8h0" stroke="#b85030" stroke-width="1.4" stroke-linecap="round"/><path d="M254.6 108.1h0M242.7 115.0h0M246.8 107.6h0M255.4 114.4h0M251.2 105.6h0M249.0 128.8h0M245.4 124.8h0M255.6 114.7h0M251.4 115.5h0M255.4 115.9h0M248.8 117.4h0M250.6 118.6h0M251.0 108.2h0M249.7 109.3h0M248.6 113.9h0M253.6 110.5h0M249.3 118.3h0M251.9 113.2h0M254.3 112.7h0M251.6 122.7h0M250.3 116.6h0M245.6 111.7h0M252.5 122.7h0" stroke="#f8c8a0" stroke-width="1.4" stroke-linecap="round"/><path d="M246.4 126.6h0M252.9 106.3h0M250.3 129.7h0M243.7 113.0h0M254.0 124.8h0M246.9 128.4h0M247.5 112.5h0M248.1 112.7h0M250.4 127.1h0M245.4 113.2h0M254.6 111.3h0M246.6 120.7h0M249.8 110.3h0M249.7 120.5h0M244.3 116.4h0M252.0 116.3h0M246.7 120.7h0M249.9 120.8h0M250.1 108.9h0M252.7 117.4h0M249.5 117.3h0M252.9 123.2h0M243.8 114.0h0" stroke="#e89060" stroke-width="1.4" stroke-linecap="round"/><path d="M244.4 123.8h0M249.6 106.5h0M251.8 128.5h0M254.8 118.5h0M252.4 124.4h0M254.3 121.3h0M248.3 127.1h0M248.0 110.2h0M254.2 115.5h0M245.8 110.3h0M253.4 123.1h0M247.3 118.7h0M250.7 114.2h0M251.9 123.9h0M254.1 118.1h0M245.8 110.2h0M247.8 107.1h0M251.8 121.4h0M248.3 122.2h0M248.2 115.5h0" stroke="#c86840" stroke-width="1.4" stroke-linecap="round"/><path d="M250.4 127.8h0M251.2 118.4h0M253.1 115.9h0M250.6 125.6h0M253.7 117.6h0M251.8 123.9h0M249.1 110.7h0M246.2 117.4h0M247.2 110.7h0M254.7 118.9h0M249.4 107.4h0M250.3 119.7h0M248.4 127.5h0M251.3 118.3h0M246.3 123.8h0M248.8 113.2h0M250.3 109.0h0M249.3 127.1h0M253.9 119.8h0M247.0 123.5h0M244.8 122.8h0M254.7 119.3h0M244.4 120.5h0M245.3 123.3h0M252.3 115.0h0M252.2 114.0h0M250.9 123.6h0M253.7 119.5h0" stroke="#4a1c14" stroke-width="1.1" stroke-linecap="round"/></g>
<g filter="url(#bl)"><path d="M92.3 169.6Q93.0 174.8 92.0 180.0" stroke="#98b440" stroke-width="1.55" fill="none" stroke-linecap="round"/><path d="M96.5 161.5 96.2 163.6 95.9 165.3 95.5 166.8 95.0 168.0 94.5 169.1 94.0 170.0 93.4 170.6 92.8 171.0 92.0 171.1 91.2 171.0 90.6 170.6 90.0 170.0 89.5 169.1 89.0 168.0 88.5 166.8 88.1 165.3 87.8 163.6 87.5 161.5 87.3 159.4 87.4 157.7 87.6 156.2 87.9 155.0 88.4 153.9 89.1 153.0 89.9 152.4 90.8 152.0 92.0 151.9 93.2 152.0 94.1 152.4 94.9 153.0 95.6 153.9 96.1 155.0 96.4 156.2 96.6 157.7 96.7 159.4Z" fill="#a4a830"/><path d="M90.6 170.2h0M95.7 167.8h0M96.9 157.7h0M88.8 157.5h0M90.2 161.0h0M93.2 158.2h0M90.7 168.5h0M90.6 158.9h0M95.7 165.0h0M91.3 167.7h0M92.4 156.2h0M87.9 158.3h0M89.0 166.7h0" stroke="#c8cc44" stroke-width="1.4" stroke-linecap="round"/><path d="M96.3 165.1h0M94.0 152.5h0M92.2 171.5h0M96.7 158.2h0M87.1 162.0h0M90.8 155.0h0M95.0 164.2h0M91.3 157.8h0M92.5 160.9h0M94.7 166.1h0M90.8 160.1h0M92.6 166.0h0M94.8 163.5h0M94.1 155.0h0M91.9 169.3h0M91.0 169.0h0M92.9 158.6h0M94.4 168.5h0" stroke="#606418" stroke-width="1.4" stroke-linecap="round"/><path d="M96.7 160.7h0M93.5 170.4h0M86.9 159.9h0M94.6 152.5h0M90.0 169.9h0M91.0 153.1h0M90.2 159.1h0M89.5 160.7h0M95.1 164.9h0M90.0 163.4h0M93.6 161.4h0M94.9 165.5h0M88.9 158.1h0M90.8 165.5h0M92.1 163.8h0M89.8 159.8h0M92.5 165.2h0" stroke="#b4b83a" stroke-width="1.4" stroke-linecap="round"/><path d="M96.2 157.8h0M91.8 171.5h0M97.0 159.5h0M95.7 165.7h0M89.3 169.1h0M95.0 152.5h0M93.6 169.9h0M92.5 158.6h0M90.4 168.3h0M92.9 155.2h0M96.2 160.2h0M92.1 162.5h0M94.6 159.0h0M92.3 159.5h0M90.4 163.4h0M95.6 165.1h0M93.7 162.1h0M91.9 153.1h0M89.8 167.9h0M90.0 163.5h0" stroke="#d8d458" stroke-width="1.4" stroke-linecap="round"/><path d="M94.4 169.5h0M91.7 170.8h0M89.3 169.8h0M94.4 166.5h0M92.5 156.4h0M92.1 169.5h0M91.1 167.5h0M89.5 153.8h0M91.0 158.5h0" stroke="#b09838" stroke-width="1.4" stroke-linecap="round"/><path d="M92.5 161.0h0M92.2 164.1h0M90.7 166.2h0M91.5 156.3h0M91.7 163.7h0" stroke="#54541a" stroke-width="1.1" stroke-linecap="round"/></g>
<g filter="url(#bl)"><path d="M111.1 170.1Q109.8 176.8 107.0 183.5" stroke="#98b440" stroke-width="1.55" fill="none" stroke-linecap="round"/><path d="M116.6 159.8 116.2 162.4 115.8 164.4 115.3 166.3 114.7 167.8 114.0 169.2 113.3 170.2 112.6 171.0 111.8 171.4 110.8 171.6 109.8 171.4 109.0 171.0 108.3 170.2 107.6 169.2 106.9 167.8 106.3 166.3 105.8 164.4 105.4 162.4 105.0 159.8 104.8 157.2 104.9 155.2 105.1 153.3 105.5 151.8 106.2 150.4 107.0 149.4 108.1 148.6 109.3 148.2 110.8 148.0 112.3 148.2 113.5 148.6 114.6 149.4 115.4 150.4 116.1 151.8 116.5 153.3 116.7 155.2 116.8 157.2Z" fill="#a4a830"/><path d="M108.2 149.4h0M116.8 155.2h0M104.9 157.0h0M108.1 150.2h0M107.5 158.7h0M108.4 150.4h0M115.5 153.2h0M112.8 157.2h0M106.4 154.7h0M110.7 160.6h0M111.6 157.5h0M112.1 150.1h0M110.2 150.6h0M110.1 161.2h0M114.5 154.4h0" stroke="#c8cc44" stroke-width="1.4" stroke-linecap="round"/><path d="M108.1 170.9h0M116.4 161.9h0M111.4 170.9h0M113.5 164.8h0M112.5 163.7h0M111.0 150.2h0M108.4 168.5h0M114.5 153.0h0M105.9 163.4h0M112.8 157.7h0M105.5 156.0h0M107.7 156.8h0M106.4 155.1h0M113.9 165.4h0M113.5 165.1h0M111.1 168.9h0M108.0 164.6h0" stroke="#606418" stroke-width="1.4" stroke-linecap="round"/><path d="M116.2 164.0h0M104.6 156.7h0M105.3 154.6h0M106.3 150.1h0M106.6 167.3h0M109.4 172.3h0M108.7 170.1h0M105.5 163.9h0M109.9 157.9h0M109.8 168.2h0M106.4 152.9h0M109.3 170.5h0M108.2 155.0h0M107.6 163.1h0M111.1 163.3h0M106.7 164.6h0M113.1 158.6h0M111.4 159.2h0M107.6 154.9h0M108.6 165.4h0M111.0 150.2h0M112.3 167.5h0M109.9 151.1h0M112.7 154.5h0M114.4 166.1h0M112.1 165.2h0M112.7 154.5h0M112.3 161.0h0M106.9 156.6h0M112.1 167.1h0M106.7 160.7h0M115.9 157.0h0" stroke="#b4b83a" stroke-width="1.4" stroke-linecap="round"/><path d="M108.5 171.4h0M117.1 158.1h0M105.9 151.1h0M107.6 165.5h0M108.9 157.4h0M110.5 158.4h0M110.1 163.7h0M116.4 157.5h0M108.9 149.3h0M111.6 169.9h0M111.6 155.6h0M111.4 161.6h0M113.4 151.1h0M110.9 155.2h0M107.0 160.1h0M108.2 150.0h0M108.6 168.5h0M108.5 164.4h0M111.5 166.5h0M109.7 150.1h0M112.1 149.8h0M109.2 153.5h0M107.0 167.3h0M113.4 154.8h0M113.7 152.4h0M111.4 150.5h0M112.2 149.6h0M107.8 158.5h0M108.4 153.1h0M115.5 155.4h0M108.9 166.0h0M110.1 150.8h0" stroke="#d8d458" stroke-width="1.4" stroke-linecap="round"/><path d="M105.2 155.9h0M105.1 161.8h0M115.9 151.6h0M108.0 148.9h0M113.1 170.2h0M105.7 159.6h0M115.9 154.4h0M114.3 154.4h0M110.0 167.9h0M108.9 156.4h0M107.9 165.8h0M108.8 154.5h0M116.2 160.4h0M111.9 155.7h0M107.9 161.7h0" stroke="#b09838" stroke-width="1.4" stroke-linecap="round"/><path d="M111.2 167.5h0M112.2 163.4h0M115.6 162.6h0M110.2 158.6h0M115.6 160.0h0M109.2 163.8h0M110.9 158.8h0M115.3 158.7h0M106.3 158.4h0M112.0 151.5h0M113.1 158.0h0M106.6 157.0h0M110.4 168.1h0M113.5 162.7h0M115.5 164.2h0M113.5 164.0h0M111.6 158.3h0M112.1 157.9h0" stroke="#54541a" stroke-width="1.1" stroke-linecap="round"/></g>
<g filter="url(#bl)"><path d="M129.9 170.1Q127.5 177.3 123.5 184.5" stroke="#98b440" stroke-width="1.55" fill="none" stroke-linecap="round"/><path d="M135.3 159.8 134.9 162.4 134.5 164.4 134.0 166.3 133.4 167.8 132.8 169.2 132.1 170.2 131.4 171.0 130.6 171.4 129.6 171.6 128.6 171.4 127.8 171.0 127.1 170.2 126.4 169.2 125.8 167.8 125.2 166.3 124.7 164.4 124.3 162.4 123.9 159.8 123.7 157.2 123.8 155.2 124.0 153.3 124.4 151.8 125.1 150.4 125.9 149.4 126.9 148.6 128.1 148.2 129.6 148.0 131.1 148.2 132.3 148.6 133.3 149.4 134.1 150.4 134.8 151.8 135.2 153.3 135.4 155.2 135.5 157.2Z" fill="#a4a830"/><path d="M129.7 146.6h0M134.5 166.7h0M135.2 160.7h0M133.9 151.8h0M127.6 160.1h0M128.2 152.8h0M127.8 162.7h0M127.3 163.6h0M134.0 156.7h0M127.8 169.6h0M133.4 151.4h0M131.8 158.9h0M132.9 163.6h0M133.0 154.2h0M128.0 162.0h0M124.3 158.1h0M130.7 158.2h0M125.5 156.8h0M125.0 156.0h0M131.9 159.7h0M125.1 157.1h0M126.4 157.5h0M124.5 160.9h0" stroke="#c8cc44" stroke-width="1.4" stroke-linecap="round"/><path d="M123.5 160.1h0M126.6 149.6h0M130.5 171.1h0M132.7 148.2h0M133.0 169.5h0M129.6 161.8h0M124.2 158.8h0M128.5 166.1h0M129.5 153.7h0M128.4 166.3h0M131.3 166.5h0M125.3 157.1h0M128.5 158.8h0M129.8 153.8h0M128.7 152.6h0M130.9 152.9h0M130.3 167.9h0M124.5 161.6h0M133.7 164.8h0" stroke="#606418" stroke-width="1.4" stroke-linecap="round"/><path d="M133.9 166.1h0M125.3 167.1h0M124.8 153.1h0M125.2 165.2h0M125.8 154.6h0M131.8 164.2h0M128.0 170.2h0M124.5 161.3h0M129.1 150.1h0M126.2 150.3h0M129.1 156.7h0M125.6 157.2h0M129.8 154.7h0M131.3 164.3h0M133.6 165.9h0M133.9 155.1h0M129.7 169.3h0M133.5 153.1h0M129.4 166.4h0M126.6 158.3h0M130.2 160.6h0" stroke="#b4b83a" stroke-width="1.4" stroke-linecap="round"/><path d="M134.4 151.2h0M134.5 163.8h0M132.6 162.1h0M134.8 156.0h0M127.8 158.5h0M134.3 159.5h0M126.3 164.6h0M124.8 161.5h0M127.2 150.5h0M130.5 158.0h0M133.7 156.0h0M128.7 152.7h0M131.1 160.9h0M128.3 152.2h0M131.1 160.1h0M135.0 157.3h0M127.5 166.2h0M126.0 165.2h0M131.1 169.5h0" stroke="#d8d458" stroke-width="1.4" stroke-linecap="round"/><path d="M124.0 158.0h0M124.2 160.3h0M134.2 151.0h0M132.4 148.7h0M124.0 163.9h0M124.7 152.9h0M135.4 158.0h0M135.1 159.7h0M131.9 153.7h0M133.7 164.4h0M134.7 161.2h0M126.5 157.5h0M132.3 157.0h0M133.4 153.2h0M134.9 158.8h0M131.0 169.2h0M126.9 154.9h0M124.8 158.5h0M131.0 165.8h0M128.1 152.6h0M134.7 154.4h0M126.5 163.1h0M133.4 162.3h0M129.1 166.3h0M133.4 153.9h0M134.1 160.4h0M133.4 165.9h0" stroke="#b09838" stroke-width="1.4" stroke-linecap="round"/><path d="M129.1 158.4h0M129.2 161.4h0M129.3 161.9h0M131.4 150.1h0M132.5 157.5h0M128.5 156.6h0M132.1 150.4h0M131.0 169.2h0M131.1 162.6h0M129.2 154.6h0M132.8 165.5h0M130.6 165.9h0M129.2 149.7h0M130.1 148.9h0M129.1 149.8h0M133.8 157.4h0M125.3 160.6h0M126.7 155.8h0" stroke="#54541a" stroke-width="1.1" stroke-linecap="round"/></g>
<g filter="url(#bl)"><path d="M153.6 171.8Q152.6 176.5 150.0 181.2" stroke="#a8c452" stroke-width="1.55" fill="none" stroke-linecap="round"/><path d="M158.4 162.0 158.1 164.5 157.7 166.4 157.3 168.2 156.8 169.7 156.2 171.0 155.6 172.0 154.9 172.7 154.2 173.2 153.3 173.3 152.4 173.2 151.7 172.7 151.0 172.0 150.4 171.0 149.8 169.7 149.3 168.2 148.9 166.4 148.5 164.5 148.2 162.0 148.0 159.5 148.0 157.6 148.2 155.8 148.6 154.3 149.2 153.0 149.9 152.0 150.9 151.3 151.9 150.8 153.3 150.7 154.7 150.8 155.7 151.3 156.7 152.0 157.4 153.0 158.0 154.3 158.4 155.8 158.6 157.6 158.6 159.5Z" fill="#d87c50"/><path d="M149.1 166.7h0M156.5 153.2h0M155.7 150.8h0M150.4 151.8h0M158.6 162.2h0M154.9 154.6h0M149.1 165.5h0M156.2 168.7h0M156.0 157.8h0M150.1 163.4h0M151.7 161.6h0M156.1 165.8h0M153.0 158.4h0M155.6 153.3h0M154.8 159.3h0M151.7 153.0h0M155.1 160.0h0" stroke="#f0a878" stroke-width="1.4" stroke-linecap="round"/><path d="M148.2 164.4h0M152.3 173.4h0M153.7 149.9h0M158.1 166.1h0M155.1 171.9h0M156.0 168.7h0M152.5 168.3h0M153.2 154.8h0M152.7 171.3h0M154.8 155.5h0M157.4 163.0h0M153.2 151.8h0M155.8 155.8h0M149.3 163.9h0M154.0 154.9h0M156.1 158.7h0M149.3 161.1h0M153.3 172.8h0M150.3 161.7h0M154.8 154.6h0" stroke="#b85030" stroke-width="1.4" stroke-linecap="round"/><path d="M147.9 156.4h0M151.4 173.6h0M147.7 161.4h0M148.9 168.3h0M158.4 157.8h0M157.9 164.7h0M149.0 160.9h0M155.1 165.2h0M157.6 162.2h0M152.0 162.4h0M149.6 167.0h0M150.3 159.8h0M151.7 168.5h0M148.9 165.7h0M150.5 155.2h0M154.2 160.5h0M153.5 169.2h0M153.5 163.9h0M154.1 160.5h0M152.0 159.0h0M152.6 158.7h0M150.2 162.4h0M153.7 171.3h0M151.7 170.2h0" stroke="#f8c8a0" stroke-width="1.4" stroke-linecap="round"/><path d="M157.3 168.6h0M153.6 173.5h0M148.2 163.8h0M152.7 174.0h0M153.3 160.8h0M153.8 167.7h0M153.6 170.6h0M151.3 161.8h0M153.7 167.1h0M150.0 169.1h0M155.3 154.6h0M151.7 163.8h0M155.4 167.3h0M157.3 157.9h0M150.4 160.6h0M156.4 162.5h0M151.9 153.3h0M148.5 158.9h0M153.4 170.2h0M157.6 155.4h0" stroke="#e89060" stroke-width="1.4" stroke-linecap="round"/><path d="M149.5 169.7h0M157.6 154.0h0M156.1 166.9h0M152.4 157.8h0M151.6 155.6h0M151.4 165.2h0M152.9 159.4h0M153.5 160.3h0M156.4 164.5h0M154.0 163.8h0M150.5 153.7h0M151.4 155.1h0" stroke="#c86840" stroke-width="1.4" stroke-linecap="round"/><path d="M150.3 164.7h0M153.1 158.5h0M156.1 163.7h0M149.0 160.7h0M151.5 168.8h0M151.9 159.2h0M151.2 164.1h0M151.5 171.9h0M151.2 158.0h0M153.9 170.7h0M153.9 153.6h0M155.5 167.7h0M152.9 155.4h0M151.3 163.8h0M152.0 153.4h0M154.5 151.4h0M154.1 168.9h0" stroke="#4a1c14" stroke-width="1.1" stroke-linecap="round"/></g>
<g filter="url(#bl)"><path d="M173.3 171.8Q171.5 176.5 168.0 181.2" stroke="#a8c452" stroke-width="1.55" fill="none" stroke-linecap="round"/><path d="M178.6 162.0 178.2 164.5 177.8 166.4 177.3 168.2 176.8 169.7 176.1 171.0 175.5 172.0 174.7 172.7 174.0 173.2 173.0 173.3 172.0 173.2 171.3 172.7 170.5 172.0 169.9 171.0 169.2 169.7 168.7 168.2 168.2 166.4 167.8 164.5 167.4 162.0 167.2 159.5 167.3 157.6 167.5 155.8 167.9 154.3 168.5 153.0 169.4 152.0 170.3 151.3 171.5 150.8 173.0 150.7 174.5 150.8 175.7 151.3 176.6 152.0 177.5 153.0 178.1 154.3 178.5 155.8 178.7 157.6 178.8 159.5Z" fill="#c06838"/><path d="M170.3 151.5h0M179.2 161.5h0M167.0 160.1h0M172.1 174.0h0M173.3 171.3h0M170.0 165.4h0M171.5 153.3h0M177.2 164.2h0M171.9 161.4h0M175.2 159.7h0M168.4 165.7h0M168.3 160.3h0M172.9 161.7h0M177.0 167.6h0M173.0 170.4h0" stroke="#e09040" stroke-width="1.4" stroke-linecap="round"/><path d="M178.4 156.9h0M168.4 167.5h0M169.2 151.9h0M174.3 168.6h0M170.4 162.6h0M171.7 166.0h0M170.5 167.9h0M175.5 153.2h0M170.1 157.6h0M171.1 163.8h0M171.1 162.8h0M174.9 169.7h0M172.8 170.7h0M170.3 157.3h0M173.1 155.3h0M172.9 168.0h0M172.4 171.5h0M170.5 158.8h0" stroke="#803018" stroke-width="1.4" stroke-linecap="round"/><path d="M168.1 168.1h0M167.4 159.2h0M167.8 156.8h0M167.2 165.0h0M173.5 150.0h0M176.3 152.5h0M172.1 164.6h0M173.9 172.6h0M174.4 168.6h0M173.2 163.3h0M170.5 155.4h0M175.6 169.0h0M174.1 162.4h0M174.8 170.6h0M176.4 164.6h0M171.9 154.1h0M176.3 157.1h0M170.4 166.2h0M172.0 151.7h0M170.4 171.1h0M170.9 163.4h0M176.3 168.7h0M168.5 160.8h0M175.1 153.8h0" stroke="#d0a848" stroke-width="1.4" stroke-linecap="round"/><path d="M169.9 170.1h0M167.2 158.1h0M166.8 161.4h0M175.9 151.5h0M170.3 165.9h0M171.1 166.4h0M173.8 166.9h0M174.6 152.9h0M171.4 164.0h0M177.3 157.8h0M174.8 160.0h0M172.8 158.5h0M168.9 164.1h0M172.3 168.0h0M168.5 163.1h0M172.5 163.1h0M173.4 156.9h0M170.1 170.1h0M175.1 164.7h0M171.6 162.5h0M177.0 157.2h0M175.8 160.6h0" stroke="#a04828" stroke-width="1.4" stroke-linecap="round"/><path d="M168.3 155.3h0M178.4 159.5h0M168.2 167.6h0M167.2 161.0h0M173.6 174.5h0M172.5 155.4h0M173.0 163.3h0M168.5 166.2h0M173.1 163.8h0M174.2 160.8h0M171.6 166.5h0M173.0 163.6h0M171.3 163.9h0M175.9 158.8h0M169.7 153.1h0M176.4 168.8h0M168.6 156.6h0M171.6 171.1h0M169.4 161.8h0M174.6 171.4h0M171.7 167.5h0M174.9 163.5h0M172.1 170.9h0M171.8 164.8h0M171.6 166.9h0M176.7 161.5h0M177.2 156.0h0M170.3 164.5h0" stroke="#e8b060" stroke-width="1.4" stroke-linecap="round"/><path d="M175.3 164.2h0M171.3 157.7h0M167.8 158.9h0M170.3 157.6h0M176.0 156.1h0M170.8 164.1h0M177.1 166.2h0M171.5 158.6h0M172.0 172.2h0M169.7 168.9h0M168.9 159.6h0M170.6 170.1h0" stroke="#4a1c14" stroke-width="1.1" stroke-linecap="round"/></g>
<g filter="url(#bl)"><path d="M190.8 171.9Q191.2 178.2 190.0 184.6" stroke="#a8c452" stroke-width="1.55" fill="none" stroke-linecap="round"/><path d="M196.2 160.7 195.8 163.5 195.4 165.7 194.9 167.7 194.3 169.3 193.7 170.8 193.0 171.9 192.3 172.7 191.5 173.2 190.5 173.4 189.5 173.2 188.7 172.7 188.0 171.9 187.3 170.8 186.7 169.3 186.1 167.7 185.6 165.7 185.2 163.5 184.8 160.7 184.6 157.9 184.7 155.7 184.9 153.7 185.3 152.1 186.0 150.6 186.8 149.5 187.8 148.7 189.0 148.2 190.5 148.0 192.0 148.2 193.2 148.7 194.2 149.5 195.0 150.6 195.7 152.1 196.1 153.7 196.3 155.7 196.4 157.9Z" fill="#c04030"/><path d="M184.5 157.1h0M187.0 170.3h0M187.1 169.6h0M188.8 164.9h0M192.6 162.5h0M190.8 153.0h0M193.1 156.1h0M193.9 153.5h0M188.4 163.6h0M191.4 171.3h0M191.7 157.5h0M193.7 166.2h0M187.5 164.1h0M185.1 158.5h0M188.1 161.8h0M189.3 154.3h0M187.8 165.0h0" stroke="#e07048" stroke-width="1.4" stroke-linecap="round"/><path d="M188.9 148.8h0M192.4 147.5h0M187.0 150.7h0M191.8 164.6h0M187.2 165.5h0M187.9 168.4h0M187.6 158.4h0M186.9 151.3h0M191.8 150.2h0M195.0 165.9h0M189.9 161.9h0M187.6 166.5h0M189.5 168.8h0M185.2 159.9h0M188.5 160.1h0M194.2 153.0h0M191.1 152.7h0M192.9 151.6h0M190.5 153.6h0M191.7 150.1h0M189.0 164.2h0M187.2 162.7h0M188.6 153.3h0" stroke="#902818" stroke-width="1.4" stroke-linecap="round"/><path d="M196.8 156.7h0M192.5 172.1h0M187.4 148.6h0M192.9 171.8h0M185.2 164.6h0M188.5 153.6h0M191.8 148.8h0M190.5 154.8h0M190.6 160.2h0M194.6 162.2h0M190.8 164.3h0M193.8 164.3h0M191.3 155.0h0M194.1 163.6h0M189.4 152.8h0M191.0 153.0h0M194.2 156.5h0M194.9 154.5h0M187.8 166.6h0M192.5 165.3h0M190.1 165.9h0M192.2 150.1h0M186.6 152.2h0M187.1 156.5h0M186.7 154.4h0M188.4 153.9h0M185.7 164.5h0" stroke="#e0b048" stroke-width="1.4" stroke-linecap="round"/><path d="M186.0 152.2h0M196.9 158.3h0M192.3 172.6h0M186.5 170.5h0M187.7 172.3h0M190.8 156.2h0M188.6 154.1h0M190.0 150.6h0M188.0 163.3h0M189.3 165.8h0M192.9 164.1h0M186.8 168.5h0M186.1 161.4h0M186.9 152.1h0M189.7 165.3h0M191.0 155.3h0M193.8 155.2h0M190.2 150.7h0M190.7 163.1h0M191.6 160.2h0M188.8 152.6h0M195.2 157.0h0M189.0 162.7h0M187.9 161.8h0M187.5 156.3h0M193.9 160.1h0M189.3 157.6h0M191.3 156.4h0" stroke="#f09070" stroke-width="1.4" stroke-linecap="round"/><path d="M193.0 172.1h0M185.5 153.2h0M184.6 158.0h0M184.8 155.6h0M193.8 169.7h0M186.1 166.9h0M189.6 156.8h0M193.3 160.9h0M190.0 172.2h0M192.8 162.7h0M186.0 154.8h0M185.5 163.7h0M188.8 153.7h0M195.0 156.4h0M196.0 158.4h0M194.3 168.0h0M191.0 169.2h0M192.5 150.5h0M186.4 154.1h0M189.8 168.8h0M186.5 162.8h0M188.4 152.3h0M193.4 166.5h0M188.2 169.0h0" stroke="#b03020" stroke-width="1.4" stroke-linecap="round"/><path d="M189.5 167.2h0M186.7 161.7h0M189.0 159.3h0M188.6 168.3h0M191.5 166.0h0M191.6 166.1h0M192.1 166.7h0M192.4 161.0h0M192.3 152.8h0M192.5 159.8h0M194.5 157.0h0M188.6 165.2h0M188.5 155.5h0M191.9 157.2h0M189.8 171.2h0M188.1 155.6h0M187.0 150.6h0" stroke="#4a1c14" stroke-width="1.1" stroke-linecap="round"/></g>
<g filter="url(#bl)"><path d="M213.2 171.5Q213.9 176.4 213.0 181.3" stroke="#a8c452" stroke-width="1.55" fill="none" stroke-linecap="round"/><path d="M218.0 164.0 217.7 166.0 217.3 167.5 216.9 168.9 216.4 170.1 215.8 171.1 215.2 171.9 214.5 172.5 213.8 172.9 212.9 173.0 212.0 172.9 211.3 172.5 210.6 171.9 210.0 171.1 209.4 170.1 208.9 168.9 208.5 167.5 208.1 166.0 207.8 164.0 207.6 162.0 207.6 160.5 207.8 159.1 208.2 157.9 208.8 156.9 209.5 156.1 210.5 155.5 211.5 155.1 212.9 155.0 214.3 155.1 215.3 155.5 216.3 156.1 217.0 156.9 217.6 157.9 218.0 159.1 218.2 160.5 218.2 162.0Z" fill="#985040"/><path d="M208.5 158.1h0M214.8 171.7h0M210.7 172.4h0M217.9 164.4h0M217.3 164.1h0M212.4 158.4h0M214.3 164.9h0M215.7 168.4h0M213.8 156.1h0M213.3 171.7h0M209.5 157.3h0" stroke="#c07058" stroke-width="1.4" stroke-linecap="round"/><path d="M209.7 155.2h0M209.5 170.1h0M209.6 168.1h0M217.7 164.3h0M214.5 164.1h0M210.2 160.4h0M209.5 169.2h0M215.7 158.0h0M215.0 168.6h0M212.3 172.5h0" stroke="#682818" stroke-width="1.4" stroke-linecap="round"/><path d="M212.0 172.9h0M207.6 162.8h0M215.4 162.4h0M208.8 162.4h0M208.8 164.0h0M215.5 159.0h0M209.5 165.8h0M211.4 157.0h0M212.3 158.4h0M212.5 159.9h0M216.9 167.7h0M213.3 167.6h0" stroke="#d09070" stroke-width="1.4" stroke-linecap="round"/><path d="M210.6 172.5h0M209.7 155.2h0M217.1 167.4h0M213.6 173.0h0M212.2 173.8h0M215.6 172.3h0M216.3 167.0h0M211.9 167.6h0M214.6 156.3h0M210.8 162.7h0M208.2 163.4h0M211.6 166.0h0M212.5 171.4h0M214.0 172.2h0M212.1 161.2h0M213.8 162.4h0M216.7 166.4h0M214.1 159.7h0M215.2 162.3h0M210.8 163.6h0M208.0 161.9h0" stroke="#b06048" stroke-width="1.4" stroke-linecap="round"/><path d="M217.9 159.2h0M208.1 165.6h0M213.6 173.9h0M208.1 160.5h0M210.5 171.2h0M216.7 169.1h0M208.6 156.6h0M215.9 156.2h0M213.3 168.3h0M211.3 160.1h0M211.4 170.7h0M213.1 161.2h0M215.3 167.4h0M211.8 161.0h0M211.3 167.2h0M212.6 159.8h0M217.2 166.1h0" stroke="#a04830" stroke-width="1.4" stroke-linecap="round"/><path d="M216.1 170.1h0M212.0 170.5h0M214.1 159.0h0M214.1 163.7h0M215.3 163.4h0M215.5 166.7h0M216.4 166.2h0M215.7 167.3h0M215.2 167.0h0M216.8 162.0h0M214.8 164.5h0M210.7 161.9h0M212.9 170.1h0M213.4 164.0h0M215.9 162.9h0M217.7 163.0h0" stroke="#4a1c14" stroke-width="1.1" stroke-linecap="round"/></g>
<g filter="url(#bl)"><path d="M231.3 171.1Q230.0 176.2 227.0 181.3" stroke="#a8c452" stroke-width="1.55" fill="none" stroke-linecap="round"/><path d="M235.9 163.8 235.6 165.7 235.2 167.3 234.8 168.6 234.3 169.8 233.7 170.8 233.1 171.6 232.5 172.1 231.8 172.5 231.0 172.6 230.2 172.5 229.5 172.1 228.9 171.6 228.3 170.8 227.7 169.8 227.2 168.6 226.8 167.3 226.4 165.7 226.1 163.8 226.0 161.9 226.0 160.3 226.2 159.0 226.6 157.8 227.1 156.8 227.8 156.0 228.7 155.5 229.7 155.1 231.0 155.0 232.3 155.1 233.3 155.5 234.2 156.0 234.9 156.8 235.4 157.8 235.8 159.0 236.0 160.3 236.0 161.9Z" fill="#c09038"/><path d="M234.2 156.3h0M226.3 158.8h0M227.9 156.5h0M234.2 169.0h0M230.9 159.5h0M230.9 155.9h0M229.2 160.0h0M229.0 163.1h0M231.5 171.1h0M231.5 159.1h0" stroke="#e0c058" stroke-width="1.4" stroke-linecap="round"/><path d="M232.8 171.5h0M228.7 155.1h0M229.6 165.9h0M232.7 163.4h0M235.3 165.9h0M233.5 157.6h0M235.2 164.4h0M226.9 158.8h0M228.4 167.9h0M233.5 165.0h0" stroke="#806018" stroke-width="1.4" stroke-linecap="round"/><path d="M233.0 171.9h0M231.1 172.3h0M229.9 167.6h0M231.2 160.0h0M234.4 166.7h0M227.5 167.8h0M229.2 162.5h0M232.6 168.9h0" stroke="#d0a040" stroke-width="1.4" stroke-linecap="round"/><path d="M226.2 162.0h0M226.7 158.6h0M235.4 167.3h0M227.4 170.1h0M235.8 162.0h0M226.3 165.0h0M225.9 163.5h0M234.9 168.2h0M233.8 171.4h0M230.0 156.1h0M234.1 167.2h0M229.3 165.8h0M234.0 164.6h0M235.4 163.3h0M230.7 160.0h0M232.3 170.8h0M229.8 155.9h0M228.8 161.6h0M229.0 158.6h0" stroke="#e8d070" stroke-width="1.4" stroke-linecap="round"/><path d="M226.1 166.2h0M230.9 173.7h0M233.5 170.9h0M226.4 165.7h0M235.4 157.7h0M235.3 167.0h0M227.5 162.6h0M228.4 166.1h0M226.9 166.3h0M233.8 158.1h0M232.4 168.3h0M233.6 157.5h0M235.4 160.6h0M230.6 162.5h0M233.5 169.8h0M230.0 167.9h0" stroke="#a87028" stroke-width="1.4" stroke-linecap="round"/><path d="M235.0 161.7h0M232.4 167.2h0M234.3 162.2h0M230.1 166.9h0M230.6 169.1h0M234.9 166.8h0M233.6 164.4h0M231.8 163.3h0M233.3 161.5h0M229.4 156.4h0M231.2 158.9h0M227.7 157.7h0M229.5 166.4h0M233.0 163.9h0M232.8 164.9h0M230.3 171.3h0M235.0 163.2h0M228.6 166.6h0" stroke="#4a1c14" stroke-width="1.1" stroke-linecap="round"/></g>
<g filter="url(#bl)"><path d="M249.3 171.0Q250.0 177.6 249.0 184.2" stroke="#a8c452" stroke-width="1.55" fill="none" stroke-linecap="round"/><path d="M254.1 161.5 253.8 163.9 253.4 165.8 253.0 167.5 252.5 169.0 251.9 170.2 251.3 171.2 250.6 171.9 249.9 172.4 249.0 172.5 248.1 172.4 247.4 171.9 246.7 171.2 246.1 170.2 245.5 169.0 245.0 167.5 244.6 165.8 244.2 163.9 243.9 161.5 243.7 159.1 243.7 157.2 243.9 155.5 244.3 154.0 244.9 152.8 245.6 151.8 246.6 151.1 247.6 150.6 249.0 150.5 250.4 150.6 251.4 151.1 252.4 151.8 253.1 152.8 253.7 154.0 254.1 155.5 254.3 157.2 254.3 159.1Z" fill="#c04030"/><path d="M249.6 149.3h0M253.6 154.1h0M250.8 151.4h0M249.4 166.2h0M252.4 154.1h0M249.3 164.6h0M245.7 166.6h0M250.2 156.9h0M253.1 164.8h0M246.5 156.9h0M244.2 158.5h0M247.5 160.2h0M245.6 166.8h0M248.9 160.9h0M249.2 154.8h0M248.3 161.6h0M247.7 151.7h0M247.5 169.3h0" stroke="#e07048" stroke-width="1.4" stroke-linecap="round"/><path d="M247.7 150.4h0M254.2 159.5h0M246.8 171.1h0M244.1 154.1h0M252.2 151.8h0M248.4 173.4h0M249.9 162.3h0M249.1 171.9h0M248.0 164.6h0M245.7 163.7h0M253.2 165.3h0M248.8 157.8h0M248.7 156.2h0M251.4 159.1h0M251.2 158.7h0M253.5 156.9h0M251.5 165.0h0M249.1 170.8h0M245.6 159.7h0" stroke="#902818" stroke-width="1.4" stroke-linecap="round"/><path d="M253.8 165.0h0M248.7 150.0h0M246.3 151.5h0M251.8 150.7h0M245.2 168.7h0M253.6 154.7h0M245.2 161.7h0M249.5 169.1h0M248.9 159.3h0M250.1 151.1h0M250.3 164.9h0M248.4 156.0h0M248.7 151.0h0M251.4 155.9h0M250.5 165.7h0M251.1 151.9h0M247.6 155.6h0M250.4 151.8h0" stroke="#e0b048" stroke-width="1.4" stroke-linecap="round"/><path d="M248.8 172.5h0M247.8 150.8h0M246.5 150.8h0M251.6 163.3h0M248.9 165.1h0M252.7 160.3h0M247.1 163.7h0M247.6 151.3h0M248.8 171.4h0M251.2 167.1h0M252.3 157.5h0M249.3 167.4h0M245.1 165.2h0M251.6 152.8h0M248.0 168.0h0M248.3 164.8h0M253.6 157.3h0M244.7 162.2h0M247.8 162.5h0M251.8 163.6h0M253.1 159.0h0" stroke="#f09070" stroke-width="1.4" stroke-linecap="round"/><path d="M245.4 151.5h0M250.4 149.9h0M253.9 155.3h0M246.9 171.8h0M250.8 171.1h0M244.5 159.2h0M252.1 157.1h0M251.3 154.4h0M250.4 157.4h0M248.1 158.3h0M245.8 162.3h0M249.7 152.7h0M251.4 153.3h0M252.6 167.8h0M246.4 160.3h0M247.2 163.3h0M246.0 154.6h0M250.6 163.6h0M252.3 154.3h0M249.5 158.0h0" stroke="#b03020" stroke-width="1.4" stroke-linecap="round"/><path d="M247.1 165.9h0M250.0 164.4h0M253.1 158.1h0M249.5 155.3h0M248.8 165.8h0M246.0 154.9h0M250.3 158.3h0M248.5 157.7h0M244.4 162.7h0M248.4 168.5h0M247.4 158.8h0" stroke="#4a1c14" stroke-width="1.1" stroke-linecap="round"/></g>
<line x1="33" y1="15" x2="261.5" y2="15" stroke="#d6d6d6" stroke-width="2"/>
<line x1="33" y1="58" x2="261.5" y2="58" stroke="#d6d6d6" stroke-width="2"/>
<line x1="33" y1="103" x2="261.5" y2="103" stroke="#d6d6d6" stroke-width="2"/>
<line x1="33" y1="145" x2="261.5" y2="145" stroke="#d6d6d6" stroke-width="2"/>
<line x1="33" y1="188" x2="261.5" y2="188" stroke="#d6d6d6" stroke-width="2"/>
<line x1="81" y1="15" x2="81" y2="188" stroke="#d6d6d6" stroke-width="2"/>
<line x1="141" y1="15" x2="141" y2="188" stroke="#d6d6d6" stroke-width="2"/>
<line x1="202" y1="15" x2="202" y2="188" stroke="#d6d6d6" stroke-width="2"/>
<line x1="260.5" y1="15" x2="260.5" y2="188" stroke="#d6d6d6" stroke-width="2"/>
<text x="77.5" y="36.5" text-anchor="end" class="wt" style="font-size:10.4px">0 mg/L</text>
<text x="77.5" y="80.8" text-anchor="end" class="wt" style="font-size:10.4px">100 mg/L</text>
<text x="77.5" y="124.7" text-anchor="end" class="wt" style="font-size:10.4px">300 mg/L</text>
<text x="77.5" y="167.5" text-anchor="end" class="wt" style="font-size:10.4px">500 mg/L</text>
<text x="52" y="200.5" text-anchor="middle" class="wt" style="font-size:10px">2 cm</text>
<path d="M36.8 201.2V205.2H64.6V201.2" stroke="#fff" stroke-width="1.5" fill="none"/>
<text x="111.5" y="197.6" text-anchor="middle" class="wt" style="font-size:10px">0</text>
<text x="172" y="197.6" text-anchor="middle" class="wt" style="font-size:10px">48</text>
<text x="231.5" y="197.6" text-anchor="middle" class="wt" style="font-size:10px">72</text>
<line x1="108.5" y1="199.6" x2="237.5" y2="199.6" stroke="#fff" stroke-width="1.3"/>
<text x="72" y="209.8" class="wt" style="font-size:10px" textLength="188" lengthAdjust="spacingAndGlyphs">Hours after ethylene treatment <tspan font-style="italic">in vivo</tspan></text>
<rect x="31" y="217.6" width="232" height="212.6" fill="#000"/>
<circle cx="96.3" cy="242.9" r="20.6" fill="#1e1e1e" stroke="#484848" stroke-width="0.8"/><circle cx="96.3" cy="242.9" r="19.2" fill="url(#plate)"/><g filter="url(#bl2)" stroke-linecap="round"><path d="M91.6 234.5l0.5 1.0M97.3 234.2l0.9 0.7M102.3 254.4l-1.1 0.1M83.7 238.8l1.1 0.1M90.3 244.0l0.3 1.1M97.6 245.1l0.9 0.7M96.3 250.7l-0.8 0.8M99.2 231.1l1.1 0.2M99.4 246.8l0.4 1.0M103.0 241.6l-0.6 0.9M82.4 242.1l0.6 0.9M95.2 248.1l0.7 0.9M101.7 245.3l0.8 0.7M106.9 244.9l-1.0 0.4M97.0 254.1l0.7 0.8M105.3 247.3l-0.7 0.9M96.9 245.2l-0.1 1.1M107.4 231.5l0.7 0.8M100.3 249.5l-0.9 0.6M89.7 244.3l0.5 1.0M97.5 253.0l0.1 1.1M94.9 228.4l-0.2 1.1M100.0 228.1l0.4 1.0M85.6 243.0l-1.0 0.4M106.4 241.3l-1.1 0.3M93.2 232.8l-0.9 0.6M96.5 240.8l-0.9 0.6M95.5 256.8l-0.3 1.1M88.2 235.0l0.6 0.9M94.7 228.8l-0.2 1.1M97.9 250.4l-1.1 0.3M100.3 248.9l1.1 0.1M110.3 237.3l1.0 0.5M92.5 246.2l-0.9 0.7M109.7 241.4l-1.1 0.0M84.7 252.9l1.1 0.1M87.8 229.1l-0.7 0.9M96.3 239.4l-0.5 1.0M92.4 234.2l0.1 1.1M86.3 249.8l-0.8 0.8M102.3 252.9l-0.6 0.9M97.3 247.1l0.7 0.9M90.6 256.0l0.5 1.0M98.5 238.3l-0.8 0.7M88.3 254.8l0.0 1.1M89.4 248.9l1.1 0.1M104.2 233.1l0.9 0.6M102.7 239.7l-0.2 1.1M96.7 253.6l-0.7 0.9M98.5 235.5l-0.9 0.7M102.8 244.7l-0.7 0.9M87.2 240.9l-0.1 1.1M96.8 240.9l0.1 1.1M105.6 251.7l-1.0 0.5M99.5 230.8l-1.1 0.1M108.0 249.9l1.1 0.1M89.1 251.6l-0.0 1.1M99.6 252.6l-0.3 1.1M98.6 250.2l0.5 1.0M100.7 256.0l0.9 0.6M81.7 241.7l-0.0 1.1M107.5 250.2l0.5 1.0M84.8 248.6l1.0 0.5M95.5 256.9l1.1 0.0M95.3 255.6l1.1 0.3M110.5 242.5l-1.1 0.0M87.6 236.5l0.3 1.1M98.7 240.2l0.7 0.9M89.1 243.8l0.0 1.1M85.2 237.5l0.9 0.7M103.1 253.9l1.1 0.2M91.6 250.4l1.0 0.4M98.9 249.5l0.4 1.0M104.3 235.5l-0.5 1.0M99.0 256.1l-0.9 0.6M101.4 228.5l-0.1 1.1M98.4 235.6l-0.4 1.0M105.9 248.7l1.0 0.4M106.5 237.1l0.0 1.1M106.8 251.9l-0.3 1.1M88.9 237.3l-0.4 1.0M98.1 252.4l0.6 0.9M84.3 234.6l-0.4 1.0M106.9 231.6l0.6 0.9M94.3 236.5l-1.1 0.2M100.7 227.1l1.0 0.4M95.8 229.1l0.5 1.0M110.8 243.7l-0.1 1.1M106.5 253.1l1.1 0.0M85.8 241.9l0.9 0.7M85.9 242.4l1.1 0.3M107.0 235.3l0.9 0.7M102.6 248.7l0.8 0.8M89.3 253.4l-0.8 0.8M85.2 250.3l0.1 1.1M100.0 255.4l-0.5 1.0M97.7 249.2l-0.6 0.9M104.0 255.8l-0.8 0.7M91.9 229.0l1.1 0.0M102.0 239.6l0.9 0.7M85.3 238.0l1.0 0.5M108.2 247.7l0.4 1.0M89.1 240.1l0.9 0.6M100.8 252.9l-0.6 0.9M102.2 246.8l-0.2 1.1M84.7 233.6l0.2 1.1M91.7 251.0l-0.7 0.9M87.1 248.7l0.0 1.1M96.3 257.4l-1.1 0.0M108.2 237.4l1.0 0.4M106.0 246.4l-0.4 1.0M92.9 228.3l-0.0 1.1M90.6 255.4l-0.4 1.0M95.4 253.6l0.2 1.1M101.0 247.8l-0.6 0.9M82.5 237.9l-1.0 0.5M94.9 226.6l-1.1 0.1M99.3 256.5l-0.6 0.9M89.9 248.4l1.1 0.2M105.0 248.9l0.6 0.9M91.8 232.6l-0.7 0.8M94.8 257.5l1.1 0.1M106.8 238.7l1.1 0.3M97.9 240.4l0.4 1.0M106.9 232.9l0.1 1.1M87.8 235.9l0.9 0.6M91.4 241.4l1.1 0.1M88.2 233.8l0.9 0.7M110.6 235.7l-1.0 0.5M86.6 254.3l1.1 0.1M100.0 245.9l-0.9 0.7M90.2 254.6l-0.9 0.6M93.2 241.4l-0.5 1.0M92.3 237.9l-0.2 1.1M89.7 233.7l-0.6 0.9M95.5 253.3l-0.8 0.8M109.0 241.7l1.0 0.5M94.0 230.7l-1.1 0.3M108.0 241.4l-0.5 1.0M89.8 250.5l0.3 1.1" stroke="#66702a" stroke-width="2.1"/><path d="M91.6 234.5l0.5 1.0M95.2 248.1l0.7 0.9M105.3 247.3l-0.7 0.9M100.0 228.1l0.4 1.0M85.6 243.0l-1.0 0.4M109.7 241.4l-1.1 0.0M92.4 234.2l0.1 1.1M86.3 249.8l-0.8 0.8M105.6 251.7l-1.0 0.5M95.3 255.6l1.1 0.3M101.4 228.5l-0.1 1.1M100.0 255.4l-0.5 1.0M87.1 248.7l0.0 1.1M96.3 257.4l-1.1 0.0M101.0 247.8l-0.6 0.9M82.5 237.9l-1.0 0.5M91.8 232.6l-0.7 0.8M91.4 241.4l1.1 0.1M93.2 241.4l-0.5 1.0" stroke="#a0aa3c" stroke-width="1.25"/><path d="M97.3 234.2l0.9 0.7M102.3 254.4l-1.1 0.1M106.9 244.9l-1.0 0.4M94.9 228.4l-0.2 1.1M93.2 232.8l-0.9 0.6M96.5 240.8l-0.9 0.6M100.3 248.9l1.1 0.1M102.3 252.9l-0.6 0.9M98.5 235.5l-0.9 0.7M102.8 244.7l-0.7 0.9M108.0 249.9l1.1 0.1M81.7 241.7l-0.0 1.1M107.5 250.2l0.5 1.0M95.5 256.9l1.1 0.0M89.1 243.8l0.0 1.1M104.3 235.5l-0.5 1.0M98.1 252.4l0.6 0.9M110.8 243.7l-0.1 1.1M85.9 242.4l1.1 0.3M102.0 239.6l0.9 0.7M85.3 238.0l1.0 0.5M91.7 251.0l-0.7 0.9M92.9 228.3l-0.0 1.1M99.3 256.5l-0.6 0.9M87.8 235.9l0.9 0.6M92.3 237.9l-0.2 1.1M109.0 241.7l1.0 0.5" stroke="#98a834" stroke-width="1.25"/><path d="M83.7 238.8l1.1 0.1M90.3 244.0l0.3 1.1M103.0 241.6l-0.6 0.9M82.4 242.1l0.6 0.9M101.7 245.3l0.8 0.7M97.0 254.1l0.7 0.8M107.4 231.5l0.7 0.8M95.5 256.8l-0.3 1.1M97.9 250.4l-1.1 0.3M89.4 248.9l1.1 0.1M104.2 233.1l0.9 0.6M87.2 240.9l-0.1 1.1M98.6 250.2l0.5 1.0M84.8 248.6l1.0 0.5M87.6 236.5l0.3 1.1M98.7 240.2l0.7 0.9M98.9 249.5l0.4 1.0M99.0 256.1l-0.9 0.6M106.8 251.9l-0.3 1.1M106.9 231.6l0.6 0.9M95.8 229.1l0.5 1.0M102.6 248.7l0.8 0.8M104.0 255.8l-0.8 0.7M100.0 245.9l-0.9 0.7M108.0 241.4l-0.5 1.0" stroke="#8c9c30" stroke-width="1.25"/><path d="M97.6 245.1l0.9 0.7M87.8 229.1l-0.7 0.9M98.5 238.3l-0.8 0.7M102.7 239.7l-0.2 1.1M96.8 240.9l0.1 1.1M89.1 251.6l-0.0 1.1M99.6 252.6l-0.3 1.1M85.2 237.5l0.9 0.7M103.1 253.9l1.1 0.2M98.4 235.6l-0.4 1.0M88.9 237.3l-0.4 1.0M85.8 241.9l0.9 0.7M89.3 253.4l-0.8 0.8M85.2 250.3l0.1 1.1M91.9 229.0l1.1 0.0M108.2 247.7l0.4 1.0M90.6 255.4l-0.4 1.0M89.9 248.4l1.1 0.2M94.8 257.5l1.1 0.1M88.2 233.8l0.9 0.7M86.6 254.3l1.1 0.1M89.7 233.7l-0.6 0.9M95.5 253.3l-0.8 0.8" stroke="#a4b03c" stroke-width="1.25"/><path d="M96.3 250.7l-0.8 0.8M99.2 231.1l1.1 0.2M96.9 245.2l-0.1 1.1M89.7 244.3l0.5 1.0M97.5 253.0l0.1 1.1M106.4 241.3l-1.1 0.3M94.7 228.8l-0.2 1.1M110.3 237.3l1.0 0.5M92.5 246.2l-0.9 0.7M96.3 239.4l-0.5 1.0M90.6 256.0l0.5 1.0M88.3 254.8l0.0 1.1M110.5 242.5l-1.1 0.0M91.6 250.4l1.0 0.4M105.9 248.7l1.0 0.4M100.7 227.1l1.0 0.4M106.5 253.1l1.1 0.0M97.7 249.2l-0.6 0.9M89.1 240.1l0.9 0.6M100.8 252.9l-0.6 0.9M84.7 233.6l0.2 1.1M106.0 246.4l-0.4 1.0M94.9 226.6l-1.1 0.1M106.8 238.7l1.1 0.3M97.9 240.4l0.4 1.0M90.2 254.6l-0.9 0.6M89.8 250.5l0.3 1.1" stroke="#b8bc50" stroke-width="1.25"/><path d="M99.4 246.8l0.4 1.0M100.3 249.5l-0.9 0.6M88.2 235.0l0.6 0.9M84.7 252.9l1.1 0.1M97.3 247.1l0.7 0.9M96.7 253.6l-0.7 0.9M99.5 230.8l-1.1 0.1M100.7 256.0l0.9 0.6M106.5 237.1l0.0 1.1M84.3 234.6l-0.4 1.0M94.3 236.5l-1.1 0.2M107.0 235.3l0.9 0.7M102.2 246.8l-0.2 1.1M108.2 237.4l1.0 0.4M95.4 253.6l0.2 1.1M105.0 248.9l0.6 0.9M106.9 232.9l0.1 1.1M110.6 235.7l-1.0 0.5M94.0 230.7l-1.1 0.3" stroke="#b0bc48" stroke-width="1.25"/></g>
<circle cx="143.5" cy="242.9" r="20.6" fill="#1e1e1e" stroke="#484848" stroke-width="0.8"/><circle cx="143.5" cy="242.9" r="19.2" fill="url(#plate)"/><g filter="url(#bl2)" stroke-linecap="round"><path d="M146.1 249.1l0.2 1.1M149.1 247.5l1.0 0.4M134.5 236.1l-0.8 0.8M152.0 254.3l0.3 1.1M149.0 232.8l-1.0 0.4M134.5 234.5l1.0 0.4M141.4 235.5l-0.3 1.1M135.1 236.3l1.1 0.2M130.6 233.6l0.9 0.7M147.9 238.2l-0.5 1.0M149.1 246.4l-0.5 1.0M135.2 253.1l0.0 1.1M131.3 245.7l-0.8 0.8M135.7 246.5l-0.1 1.1M141.3 251.1l-0.8 0.8M137.0 244.7l1.0 0.4M158.3 239.5l-0.2 1.1M154.4 241.0l-0.8 0.7M142.6 230.5l-1.0 0.4M136.5 254.0l-0.3 1.1M137.8 248.5l1.1 0.1M157.3 245.8l-0.0 1.1M137.2 241.5l0.1 1.1M156.3 247.1l1.1 0.3M147.8 247.5l-0.2 1.1M156.2 242.1l1.1 0.3M156.1 249.5l-0.0 1.1M151.3 234.3l-0.7 0.9M137.1 243.8l-1.0 0.5M143.0 240.2l-0.7 0.8M159.0 245.0l-0.6 0.9M151.7 240.5l1.1 0.1M146.7 235.4l-0.5 1.0M143.7 255.0l1.0 0.5M148.1 240.3l-0.1 1.1M138.6 256.2l0.5 1.0M129.1 238.4l-0.2 1.1M134.6 246.9l-0.7 0.8M149.4 235.2l-0.8 0.7M139.9 238.5l0.7 0.9M154.3 245.9l-1.1 0.3M129.7 238.5l0.6 0.9M139.7 252.9l-1.1 0.0M151.3 253.1l0.9 0.7M143.7 228.7l-1.0 0.3M149.9 241.7l1.1 0.1M151.8 255.1l0.0 1.1M139.3 241.8l0.5 1.0M142.2 243.1l-1.1 0.1M147.0 254.5l0.8 0.8M154.8 246.3l1.1 0.2M140.0 227.3l-1.1 0.0M149.4 254.8l1.0 0.4M139.2 245.7l0.6 0.9M131.6 249.2l-0.1 1.1M140.3 227.2l-1.0 0.5M158.5 247.3l-1.1 0.2M156.6 243.4l0.1 1.1M143.7 256.3l-0.2 1.1M149.9 250.6l0.3 1.1M142.0 242.2l-0.5 1.0M131.6 239.2l0.0 1.1M147.2 234.8l-1.1 0.0M141.6 231.1l-0.2 1.1M158.8 241.1l-1.0 0.4M148.8 246.5l1.1 0.2M149.8 246.3l-0.6 0.9M132.7 253.3l0.9 0.6M145.9 229.7l-0.8 0.8M138.6 252.8l-0.9 0.6M151.6 255.5l-0.9 0.6M150.8 235.0l-1.1 0.2M136.8 245.1l0.0 1.1M146.9 235.3l-0.3 1.1M154.7 243.3l-0.1 1.1M138.2 243.0l0.3 1.1M147.6 254.9l0.7 0.8M130.7 251.1l0.8 0.8M135.3 232.2l1.0 0.4M140.2 248.4l-1.1 0.0M142.5 229.9l0.6 0.9M134.4 243.6l-0.1 1.1M131.4 248.6l-1.0 0.5M147.3 249.9l-0.9 0.6M139.0 232.5l-1.0 0.4M139.4 242.5l1.1 0.1M132.9 235.8l-0.5 1.0M132.9 240.7l0.6 0.9M148.7 240.1l0.2 1.1M140.0 252.0l-0.3 1.1M137.0 239.9l-0.9 0.6M149.4 231.4l-1.1 0.0M145.1 232.2l1.1 0.1M148.7 246.3l0.5 1.0M131.6 246.2l-0.3 1.1M153.3 232.1l-0.7 0.9M158.7 245.9l-0.8 0.7M140.1 250.1l-1.0 0.5M139.0 241.2l-0.8 0.8M136.7 251.1l0.7 0.9M155.3 239.5l0.9 0.6M149.7 238.0l1.0 0.5M136.2 228.1l1.0 0.4M136.2 232.0l-0.7 0.8M145.5 241.0l-0.9 0.6M157.6 247.1l1.0 0.4M139.9 237.5l-0.8 0.7M141.2 230.5l-0.5 1.0M155.6 241.8l-0.8 0.8M129.0 248.3l0.7 0.9M148.4 234.5l0.8 0.8M134.8 250.0l-0.6 0.9M132.5 245.1l1.1 0.1M148.9 238.8l-0.8 0.7M136.4 237.2l-0.0 1.1M148.0 252.1l-0.3 1.1M141.9 255.1l0.3 1.1M152.0 248.3l-1.1 0.2M145.6 240.2l-0.3 1.1M133.9 241.5l0.0 1.1M150.0 244.1l0.2 1.1M150.1 239.2l-1.1 0.1M137.9 235.1l-0.4 1.0M137.4 233.7l-0.5 1.0M134.2 236.8l0.9 0.6M134.9 232.8l-1.1 0.3M149.9 244.7l-1.1 0.1M135.2 237.6l0.1 1.1M131.6 249.2l-0.9 0.6M150.3 253.4l-0.1 1.1M135.7 247.4l0.3 1.1M157.4 245.0l0.8 0.8M136.3 228.5l1.0 0.5M155.3 235.3l1.1 0.2M157.8 243.7l0.1 1.1M132.7 247.9l-1.1 0.1M133.2 240.8l-0.0 1.1" stroke="#66702a" stroke-width="2.1"/><path d="M130.7 237.7l-0.9 0.7M138.5 233.2l-0.4 1.0M129.6 240.7l0.6 0.9" stroke="#58241e" stroke-width="2.1"/><path d="M130.7 237.7l-0.9 0.7" stroke="#a85a50" stroke-width="1.25"/><path d="M146.1 249.1l0.2 1.1M141.4 235.5l-0.3 1.1M135.1 236.3l1.1 0.2M130.6 233.6l0.9 0.7M158.3 239.5l-0.2 1.1M136.5 254.0l-0.3 1.1M156.3 247.1l1.1 0.3M159.0 245.0l-0.6 0.9M143.7 255.0l1.0 0.5M138.6 256.2l0.5 1.0M134.6 246.9l-0.7 0.8M142.2 243.1l-1.1 0.1M149.4 254.8l1.0 0.4M131.6 249.2l-0.1 1.1M143.7 256.3l-0.2 1.1M158.8 241.1l-1.0 0.4M154.7 243.3l-0.1 1.1M147.6 254.9l0.7 0.8M135.3 232.2l1.0 0.4M140.2 248.4l-1.1 0.0M148.7 240.1l0.2 1.1M137.0 239.9l-0.9 0.6M131.6 246.2l-0.3 1.1M136.7 251.1l0.7 0.9M136.2 228.1l1.0 0.4M155.6 241.8l-0.8 0.8M148.4 234.5l0.8 0.8M132.5 245.1l1.1 0.1M134.9 232.8l-1.1 0.3M155.3 235.3l1.1 0.2" stroke="#a0aa3c" stroke-width="1.25"/><path d="M149.1 247.5l1.0 0.4M152.0 254.3l0.3 1.1M146.7 235.4l-0.5 1.0M129.7 238.5l0.6 0.9M139.3 241.8l0.5 1.0M158.5 247.3l-1.1 0.2M148.8 246.5l1.1 0.2M145.9 229.7l-0.8 0.8M138.6 252.8l-0.9 0.6M150.8 235.0l-1.1 0.2M138.2 243.0l0.3 1.1M130.7 251.1l0.8 0.8M142.5 229.9l0.6 0.9M131.4 248.6l-1.0 0.5M139.0 232.5l-1.0 0.4M132.9 240.7l0.6 0.9M153.3 232.1l-0.7 0.9M155.3 239.5l0.9 0.6M136.2 232.0l-0.7 0.8M157.6 247.1l1.0 0.4M148.0 252.1l-0.3 1.1M152.0 248.3l-1.1 0.2" stroke="#b8bc50" stroke-width="1.25"/><path d="M134.5 236.1l-0.8 0.8M147.9 238.2l-0.5 1.0M135.2 253.1l0.0 1.1M141.3 251.1l-0.8 0.8M147.8 247.5l-0.2 1.1M137.1 243.8l-1.0 0.5M143.0 240.2l-0.7 0.8M151.3 253.1l0.9 0.7M151.8 255.1l0.0 1.1M154.8 246.3l1.1 0.2M142.0 242.2l-0.5 1.0M149.8 246.3l-0.6 0.9M136.8 245.1l0.0 1.1M146.9 235.3l-0.3 1.1M147.3 249.9l-0.9 0.6M140.0 252.0l-0.3 1.1M149.4 231.4l-1.1 0.0M148.9 238.8l-0.8 0.7M134.2 236.8l0.9 0.6M149.9 244.7l-1.1 0.1M150.3 253.4l-0.1 1.1" stroke="#b0bc48" stroke-width="1.25"/><path d="M149.0 232.8l-1.0 0.4M134.5 234.5l1.0 0.4M135.7 246.5l-0.1 1.1M151.3 234.3l-0.7 0.9M139.9 238.5l0.7 0.9M154.3 245.9l-1.1 0.3M149.9 241.7l1.1 0.1M140.0 227.3l-1.1 0.0M141.6 231.1l-0.2 1.1M139.4 242.5l1.1 0.1M158.7 245.9l-0.8 0.7M145.6 240.2l-0.3 1.1M150.0 244.1l0.2 1.1M137.9 235.1l-0.4 1.0M137.4 233.7l-0.5 1.0M157.4 245.0l0.8 0.8" stroke="#8c9c30" stroke-width="1.25"/><path d="M138.5 233.2l-0.4 1.0" stroke="#7a3028" stroke-width="1.25"/><path d="M149.1 246.4l-0.5 1.0M137.0 244.7l1.0 0.4M142.6 230.5l-1.0 0.4M157.3 245.8l-0.0 1.1M137.2 241.5l0.1 1.1M156.1 249.5l-0.0 1.1M151.7 240.5l1.1 0.1M148.1 240.3l-0.1 1.1M149.4 235.2l-0.8 0.7M147.0 254.5l0.8 0.8M140.3 227.2l-1.0 0.5M156.6 243.4l0.1 1.1M149.9 250.6l0.3 1.1M131.6 239.2l0.0 1.1M132.7 253.3l0.9 0.6M140.1 250.1l-1.0 0.5M139.0 241.2l-0.8 0.8M139.9 237.5l-0.8 0.7M141.2 230.5l-0.5 1.0M136.4 237.2l-0.0 1.1M133.9 241.5l0.0 1.1M135.2 237.6l0.1 1.1M131.6 249.2l-0.9 0.6M135.7 247.4l0.3 1.1M132.7 247.9l-1.1 0.1M133.2 240.8l-0.0 1.1" stroke="#98a834" stroke-width="1.25"/><path d="M131.3 245.7l-0.8 0.8M154.4 241.0l-0.8 0.7M137.8 248.5l1.1 0.1M156.2 242.1l1.1 0.3M129.1 238.4l-0.2 1.1M139.7 252.9l-1.1 0.0M143.7 228.7l-1.0 0.3M139.2 245.7l0.6 0.9M147.2 234.8l-1.1 0.0M151.6 255.5l-0.9 0.6M134.4 243.6l-0.1 1.1M132.9 235.8l-0.5 1.0M145.1 232.2l1.1 0.1M148.7 246.3l0.5 1.0M149.7 238.0l1.0 0.5M145.5 241.0l-0.9 0.6M129.0 248.3l0.7 0.9M134.8 250.0l-0.6 0.9M141.9 255.1l0.3 1.1M150.1 239.2l-1.1 0.1M136.3 228.5l1.0 0.5M157.8 243.7l0.1 1.1" stroke="#a4b03c" stroke-width="1.25"/><path d="M129.6 240.7l0.6 0.9" stroke="#904038" stroke-width="1.25"/></g>
<circle cx="190.6" cy="242.9" r="20.6" fill="#1e1e1e" stroke="#484848" stroke-width="0.8"/><circle cx="190.6" cy="242.9" r="19.2" fill="url(#plate)"/><g filter="url(#bl2)" stroke-linecap="round"><path d="M196.7 243.2l0.1 1.1M193.1 250.7l-1.1 0.0M194.8 236.3l-1.1 0.2M196.2 249.9l-1.1 0.2M202.1 244.9l0.7 0.8M188.2 228.6l-0.0 1.1M193.4 235.3l0.2 1.1M178.6 238.5l0.5 1.0M195.8 255.3l0.6 0.9M184.4 241.5l0.5 1.0M184.4 244.1l1.1 0.1M196.9 241.8l-0.0 1.1M187.4 235.2l-1.0 0.5M196.4 237.8l-0.6 0.9M186.2 251.4l1.1 0.2M186.4 236.7l-0.9 0.7M193.3 228.1l-0.7 0.8M183.3 239.2l-0.9 0.7M178.3 245.8l-0.8 0.8M195.0 230.1l-1.1 0.3M180.5 232.3l1.1 0.0M197.4 244.3l-0.6 0.9M186.6 249.7l-1.0 0.4M184.2 240.1l-0.7 0.8M181.7 254.3l0.2 1.1M182.6 255.4l0.2 1.1M183.7 230.7l-0.1 1.1M197.8 233.9l0.2 1.1M199.7 248.3l1.1 0.3M192.4 230.6l-1.1 0.0M178.8 232.3l-1.0 0.6M183.7 238.4l-0.0 1.1M191.0 243.4l-1.0 0.4M181.6 243.6l-1.1 0.3M198.9 230.0l0.3 1.0M193.7 240.6l0.6 0.9M199.0 244.5l-0.4 1.0M203.4 243.2l-0.1 1.1M204.8 244.8l0.9 0.6M183.5 233.6l1.1 0.1M186.8 228.9l0.1 1.1M189.8 238.0l-0.2 1.1M199.8 251.1l1.1 0.2M197.2 253.6l0.6 0.9M187.9 252.1l-1.1 0.1M199.9 244.2l1.1 0.1M184.2 254.4l-0.6 0.9M195.1 240.6l0.3 1.1M178.2 237.9l-0.4 1.0M194.8 227.3l0.9 0.6M183.2 246.6l-0.3 1.1M188.1 256.6l-0.3 1.0M184.9 229.9l-0.1 1.1M176.7 242.2l1.1 0.2M198.5 249.5l-0.8 0.8M184.3 251.2l-1.1 0.3M183.8 243.7l0.7 0.9M178.8 237.4l-1.0 0.5M180.3 244.5l0.7 0.9M193.2 252.5l0.6 0.9M174.9 246.0l1.0 0.4M192.9 239.2l0.8 0.7M186.2 228.0l0.8 0.8M179.4 252.1l0.6 0.9M181.9 253.4l-1.0 0.5M182.8 228.8l1.0 0.4M196.6 237.3l-0.1 1.1M178.6 234.2l0.3 1.1M195.6 244.2l1.0 0.5M196.4 241.7l0.9 0.6M180.3 236.5l1.1 0.2M195.8 227.1l0.4 1.0M181.2 232.4l0.7 0.8M191.9 255.6l-0.9 0.7M186.7 232.3l1.0 0.5M195.8 249.2l-0.4 1.0M185.7 247.4l1.1 0.3M199.7 231.4l-1.0 0.5M177.6 233.7l0.5 1.0M195.9 237.6l0.4 1.0M201.6 230.9l-0.4 1.0M192.9 242.4l1.1 0.0M185.8 242.8l0.2 1.1M201.8 235.8l-1.0 0.4M187.7 232.3l-1.1 0.2M199.2 237.4l-0.3 1.0M194.0 257.1l1.0 0.5M194.3 233.0l-0.9 0.6M188.2 228.3l-0.8 0.8M201.3 242.3l-0.8 0.7M197.5 249.9l-0.6 0.9M181.1 246.0l0.8 0.7M179.9 253.4l1.1 0.1M198.3 239.9l1.0 0.5M197.5 250.0l1.0 0.5M180.7 241.4l0.4 1.0M198.9 250.1l-0.7 0.8M196.8 243.6l-0.9 0.7M196.2 228.9l-0.7 0.8M204.2 236.9l0.9 0.6M185.0 250.0l1.1 0.3M201.1 248.9l0.5 1.0M180.9 235.9l0.9 0.6M204.2 241.2l0.4 1.0M193.4 249.8l1.0 0.5M194.3 244.3l0.8 0.8M199.0 239.5l-0.1 1.1M191.9 257.0l0.2 1.1M203.9 247.7l-0.6 0.9M192.0 231.3l-0.5 1.0M197.2 248.1l0.9 0.6M181.1 242.5l-1.1 0.3M200.7 243.7l-0.7 0.8M201.4 240.5l0.8 0.7M204.1 245.8l0.4 1.0M194.0 239.4l-1.1 0.2M184.0 239.5l-1.0 0.4M203.9 248.2l0.2 1.1M180.3 250.6l-0.1 1.1M188.9 253.4l-0.7 0.8M187.5 227.1l0.2 1.1M178.0 238.9l1.1 0.3M193.5 240.7l-0.5 1.0M204.8 244.5l0.9 0.7M183.3 247.0l0.3 1.1M186.3 241.7l-0.8 0.8" stroke="#66702a" stroke-width="2.1"/><path d="M200.6 245.5l1.0 0.6M196.8 254.8l-1.0 0.5M196.1 228.9l-0.5 1.0M185.5 237.4l-0.3 1.0M183.0 249.5l-0.1 1.1M205.8 241.9l-1.0 0.5M189.0 233.8l-0.9 0.6M203.9 236.2l0.9 0.6M196.3 233.9l1.1 0.2M196.2 253.6l0.5 1.0M200.2 239.2l-0.7 0.8M176.7 236.7l0.2 1.1M190.1 252.2l0.7 0.8M203.0 250.7l1.1 0.0" stroke="#58241e" stroke-width="2.1"/><path d="M196.7 243.2l0.1 1.1M196.2 249.9l-1.1 0.2M186.2 251.4l1.1 0.2M186.4 236.7l-0.9 0.7M203.4 243.2l-0.1 1.1M194.8 227.3l0.9 0.6M188.1 256.6l-0.3 1.0M196.4 241.7l0.9 0.6M181.2 232.4l0.7 0.8M179.9 253.4l1.1 0.1M198.3 239.9l1.0 0.5M196.8 243.6l-0.9 0.7M199.0 239.5l-0.1 1.1M203.9 247.7l-0.6 0.9M204.1 245.8l0.4 1.0M203.9 248.2l0.2 1.1M187.5 227.1l0.2 1.1M193.5 240.7l-0.5 1.0" stroke="#a0aa3c" stroke-width="1.25"/><path d="M193.1 250.7l-1.1 0.0M196.4 237.8l-0.6 0.9M181.7 254.3l0.2 1.1M198.9 230.0l0.3 1.0M204.8 244.8l0.9 0.6M186.8 228.9l0.1 1.1M187.9 252.1l-1.1 0.1M199.9 244.2l1.1 0.1M195.1 240.6l0.3 1.1M178.2 237.9l-0.4 1.0M183.2 246.6l-0.3 1.1M184.3 251.2l-1.1 0.3M174.9 246.0l1.0 0.4M195.8 249.2l-0.4 1.0M199.7 231.4l-1.0 0.5M192.9 242.4l1.1 0.0M196.2 228.9l-0.7 0.8M194.3 244.3l0.8 0.8M192.0 231.3l-0.5 1.0M197.2 248.1l0.9 0.6M184.0 239.5l-1.0 0.4M180.3 250.6l-0.1 1.1M188.9 253.4l-0.7 0.8" stroke="#a4b03c" stroke-width="1.25"/><path d="M194.8 236.3l-1.1 0.2M188.2 228.6l-0.0 1.1M184.4 241.5l0.5 1.0M183.3 239.2l-0.9 0.7M178.3 245.8l-0.8 0.8M182.6 255.4l0.2 1.1M199.8 251.1l1.1 0.2M198.5 249.5l-0.8 0.8M183.8 243.7l0.7 0.9M185.7 247.4l1.1 0.3M185.8 242.8l0.2 1.1M187.7 232.3l-1.1 0.2M181.1 246.0l0.8 0.7M204.2 236.9l0.9 0.6M185.0 250.0l1.1 0.3M180.9 235.9l0.9 0.6M181.1 242.5l-1.1 0.3M183.3 247.0l0.3 1.1" stroke="#b8bc50" stroke-width="1.25"/><path d="M202.1 244.9l0.7 0.8M193.4 235.3l0.2 1.1M197.4 244.3l-0.6 0.9M199.7 248.3l1.1 0.3M183.5 233.6l1.1 0.1M197.2 253.6l0.6 0.9M178.8 237.4l-1.0 0.5M180.3 244.5l0.7 0.9M193.2 252.5l0.6 0.9M192.9 239.2l0.8 0.7M182.8 228.8l1.0 0.4M195.8 227.1l0.4 1.0M191.9 255.6l-0.9 0.7M195.9 237.6l0.4 1.0M201.6 230.9l-0.4 1.0M194.3 233.0l-0.9 0.6M201.3 242.3l-0.8 0.7M197.5 250.0l1.0 0.5M198.9 250.1l-0.7 0.8M204.2 241.2l0.4 1.0M193.4 249.8l1.0 0.5M200.7 243.7l-0.7 0.8" stroke="#b0bc48" stroke-width="1.25"/><path d="M178.6 238.5l0.5 1.0M195.8 255.3l0.6 0.9M196.9 241.8l-0.0 1.1M193.3 228.1l-0.7 0.8M195.0 230.1l-1.1 0.3M186.6 249.7l-1.0 0.4M184.2 240.1l-0.7 0.8M181.6 243.6l-1.1 0.3M189.8 238.0l-0.2 1.1M184.2 254.4l-0.6 0.9M184.9 229.9l-0.1 1.1M176.7 242.2l1.1 0.2M179.4 252.1l0.6 0.9M181.9 253.4l-1.0 0.5M196.6 237.3l-0.1 1.1M178.6 234.2l0.3 1.1M180.3 236.5l1.1 0.2M186.7 232.3l1.0 0.5M201.8 235.8l-1.0 0.4M199.2 237.4l-0.3 1.0M191.9 257.0l0.2 1.1M178.0 238.9l1.1 0.3M204.8 244.5l0.9 0.7M186.3 241.7l-0.8 0.8" stroke="#8c9c30" stroke-width="1.25"/><path d="M200.6 245.5l1.0 0.6M196.8 254.8l-1.0 0.5M196.1 228.9l-0.5 1.0" stroke="#7a3028" stroke-width="1.25"/><path d="M184.4 244.1l1.1 0.1M187.4 235.2l-1.0 0.5M180.5 232.3l1.1 0.0M183.7 230.7l-0.1 1.1M197.8 233.9l0.2 1.1M192.4 230.6l-1.1 0.0M178.8 232.3l-1.0 0.6M183.7 238.4l-0.0 1.1M191.0 243.4l-1.0 0.4M193.7 240.6l0.6 0.9M199.0 244.5l-0.4 1.0M186.2 228.0l0.8 0.8M195.6 244.2l1.0 0.5M177.6 233.7l0.5 1.0M194.0 257.1l1.0 0.5M188.2 228.3l-0.8 0.8M197.5 249.9l-0.6 0.9M180.7 241.4l0.4 1.0M201.1 248.9l0.5 1.0M201.4 240.5l0.8 0.7M194.0 239.4l-1.1 0.2" stroke="#98a834" stroke-width="1.25"/><path d="M185.5 237.4l-0.3 1.0M189.0 233.8l-0.9 0.6M196.2 253.6l0.5 1.0M190.1 252.2l0.7 0.8" stroke="#904038" stroke-width="1.25"/><path d="M183.0 249.5l-0.1 1.1M205.8 241.9l-1.0 0.5M196.3 233.9l1.1 0.2M200.2 239.2l-0.7 0.8M176.7 236.7l0.2 1.1" stroke="#9c4a40" stroke-width="1.25"/><path d="M203.9 236.2l0.9 0.6M203.0 250.7l1.1 0.0" stroke="#b86c60" stroke-width="1.25"/></g>
<circle cx="237.4" cy="242.9" r="20.6" fill="#1e1e1e" stroke="#484848" stroke-width="0.8"/><circle cx="237.4" cy="242.9" r="19.2" fill="url(#plate)"/><g filter="url(#bl2)" stroke-linecap="round"><path d="M239.1 245.4l0.3 1.1M248.3 244.0l-0.6 0.9M235.0 247.5l1.1 0.3M245.7 230.4l-1.1 0.1M221.4 244.2l1.1 0.0M243.6 250.5l-1.1 0.1M233.8 250.5l-1.1 0.3M237.0 243.2l1.0 0.4M234.3 257.1l-0.2 1.1M236.3 237.0l-1.1 0.1M236.3 233.3l-0.8 0.7M239.1 241.3l-1.0 0.4M225.6 249.3l1.1 0.2M238.2 236.4l1.1 0.3M245.0 243.8l-0.7 0.9M234.8 237.7l-1.1 0.1M241.4 238.9l-1.0 0.4M242.7 235.3l0.1 1.1M230.4 234.6l-0.2 1.1M237.8 235.1l1.1 0.1M239.3 248.4l0.1 1.1M235.8 233.8l0.9 0.7M251.1 245.6l1.0 0.4M224.0 250.5l1.1 0.1M248.7 252.0l-0.9 0.7M237.2 242.4l-0.4 1.0M222.9 239.4l-0.4 1.0M252.9 244.3l-1.1 0.2M224.4 244.6l-0.8 0.8M242.1 244.3l0.9 0.6M226.5 252.4l-0.6 0.9M245.9 241.5l-0.5 1.0M235.2 238.7l1.1 0.3M235.4 252.6l-0.3 1.1M224.0 246.4l-0.7 0.9M223.5 239.9l-0.9 0.6M235.1 237.4l0.0 1.1M239.2 250.1l0.8 0.8M223.8 249.3l1.0 0.4M240.1 245.6l-1.1 0.2M250.4 244.3l-0.2 1.1M241.3 248.3l0.8 0.7M230.8 252.1l-0.6 0.9M239.6 247.7l0.1 1.1M247.4 232.4l-1.1 0.0M245.5 233.3l-0.5 1.0M222.4 241.5l-0.8 0.7M233.7 233.2l1.0 0.3M241.9 241.8l1.1 0.3M233.5 250.6l0.8 0.8M232.8 248.2l1.1 0.3M247.6 232.7l0.3 1.0M239.1 246.3l1.1 0.3M230.7 254.5l1.1 0.3M245.6 252.3l-0.4 1.0M223.2 243.2l0.7 0.9M239.4 244.4l-1.1 0.1M242.5 245.8l0.8 0.7M224.5 239.6l1.0 0.4M249.4 235.8l-1.1 0.2M242.1 235.0l0.3 1.1M249.9 239.6l-1.0 0.3M234.2 246.0l0.8 0.7M247.5 245.4l1.1 0.3M240.3 252.4l0.8 0.7M244.4 228.3l0.4 1.0M229.2 240.3l0.9 0.7M252.2 238.6l0.5 1.0M246.0 232.4l1.0 0.4M221.9 242.5l-0.1 1.1M233.3 232.8l0.9 0.7M244.7 241.6l1.1 0.2M233.2 240.9l-1.1 0.3M233.1 235.4l1.1 0.2M247.6 248.4l-1.1 0.2M237.7 238.8l0.2 1.1M228.1 235.4l-0.8 0.8M244.6 238.7l0.4 1.0M251.4 235.6l-0.8 0.7M226.5 252.2l-1.0 0.4M250.2 236.7l-0.7 0.8M248.2 249.7l1.1 0.2M234.3 254.5l0.8 0.8M242.7 245.8l-0.9 0.7M242.3 229.3l0.3 1.1M234.0 246.9l0.1 1.1M238.5 227.2l-0.5 1.0M241.0 227.1l1.0 0.4M243.4 230.0l-0.9 0.7M227.3 246.6l0.7 0.8M245.4 254.1l-0.3 1.0M237.6 247.5l-0.9 0.7M236.6 240.1l1.0 0.5M225.7 239.3l0.0 1.1M238.2 237.1l-0.6 0.9M237.9 250.4l-0.2 1.1M224.2 238.0l1.1 0.1M245.9 229.9l0.3 1.1M246.2 239.3l-1.1 0.1M228.5 238.6l-0.0 1.1M228.5 253.8l0.9 0.7M237.5 231.9l-0.7 0.8" stroke="#66702a" stroke-width="2.1"/><path d="M245.8 250.2l1.1 0.3M242.0 250.5l1.1 0.3M248.3 242.5l0.7 0.8M244.3 243.6l0.7 0.8M236.4 257.3l1.0 0.4M233.5 243.4l-1.0 0.4M241.7 245.7l-0.9 0.6M240.9 229.1l0.4 1.0M251.7 241.1l1.1 0.3M233.3 244.8l1.1 0.2M227.4 253.6l-0.5 1.0M240.0 257.6l-1.0 0.4M223.0 237.5l-0.6 0.9M235.1 249.4l1.0 0.4M235.0 253.2l-0.5 1.0M235.7 255.4l-0.7 0.8M244.1 253.6l-0.9 0.6M233.3 243.5l-0.1 1.1M240.2 237.0l1.1 0.2M238.0 245.0l1.1 0.1M227.9 250.7l-0.1 1.1M226.0 243.1l-0.3 1.1M233.7 247.9l-0.3 1.1M235.2 231.9l-0.6 0.9M221.6 242.1l0.3 1.0M227.3 253.1l0.1 1.1M246.2 252.0l1.1 0.2M242.9 248.7l-0.8 0.7M227.7 235.7l0.8 0.7M244.6 230.8l1.0 0.5M228.1 245.9l-0.2 1.1M243.5 227.9l1.1 0.1M228.0 245.7l-1.1 0.2M246.3 249.3l-0.2 1.1M248.5 237.6l-1.1 0.3M224.1 237.5l-0.6 0.9M232.9 229.7l1.1 0.1M243.8 251.0l-0.9 0.7" stroke="#58241e" stroke-width="2.1"/><path d="M239.1 245.4l0.3 1.1M236.3 237.0l-1.1 0.1M242.1 244.3l0.9 0.6M240.1 245.6l-1.1 0.2M233.7 233.2l1.0 0.3M223.2 243.2l0.7 0.9M247.5 245.4l1.1 0.3M229.2 240.3l0.9 0.7M252.2 238.6l0.5 1.0M237.7 238.8l0.2 1.1M251.4 235.6l-0.8 0.7M226.5 252.2l-1.0 0.4M250.2 236.7l-0.7 0.8M237.6 247.5l-0.9 0.7" stroke="#b0bc48" stroke-width="1.25"/><path d="M245.8 250.2l1.1 0.3M223.0 237.5l-0.6 0.9M243.8 251.0l-0.9 0.7" stroke="#9c4a40" stroke-width="1.25"/><path d="M248.3 244.0l-0.6 0.9M234.3 257.1l-0.2 1.1M245.0 243.8l-0.7 0.9M237.8 235.1l1.1 0.1M224.0 250.5l1.1 0.1M245.9 241.5l-0.5 1.0M223.5 239.9l-0.9 0.6M232.8 248.2l1.1 0.3M242.1 235.0l0.3 1.1M233.1 235.4l1.1 0.2M241.0 227.1l1.0 0.4M243.4 230.0l-0.9 0.7M245.9 229.9l0.3 1.1M228.5 238.6l-0.0 1.1" stroke="#8c9c30" stroke-width="1.25"/><path d="M235.0 247.5l1.1 0.3M239.1 241.3l-1.0 0.4M234.8 237.7l-1.1 0.1M241.4 238.9l-1.0 0.4M242.7 235.3l0.1 1.1M235.2 238.7l1.1 0.3M235.4 252.6l-0.3 1.1M235.1 237.4l0.0 1.1M223.8 249.3l1.0 0.4M230.8 252.1l-0.6 0.9M241.9 241.8l1.1 0.3M242.5 245.8l0.8 0.7M224.5 239.6l1.0 0.4M249.4 235.8l-1.1 0.2M234.0 246.9l0.1 1.1M225.7 239.3l0.0 1.1M238.2 237.1l-0.6 0.9" stroke="#98a834" stroke-width="1.25"/><path d="M245.7 230.4l-1.1 0.1M243.6 250.5l-1.1 0.1M236.3 233.3l-0.8 0.7M225.6 249.3l1.1 0.2M239.3 248.4l0.1 1.1M251.1 245.6l1.0 0.4M248.7 252.0l-0.9 0.7M250.4 244.3l-0.2 1.1M222.4 241.5l-0.8 0.7M233.5 250.6l0.8 0.8M247.6 232.7l0.3 1.0M249.9 239.6l-1.0 0.3M234.2 246.0l0.8 0.7M246.0 232.4l1.0 0.4M221.9 242.5l-0.1 1.1M244.7 241.6l1.1 0.2M228.1 235.4l-0.8 0.8M234.3 254.5l0.8 0.8M238.5 227.2l-0.5 1.0M227.3 246.6l0.7 0.8M246.2 239.3l-1.1 0.1" stroke="#b8bc50" stroke-width="1.25"/><path d="M221.4 244.2l1.1 0.0M235.8 233.8l0.9 0.7M222.9 239.4l-0.4 1.0M252.9 244.3l-1.1 0.2M224.4 244.6l-0.8 0.8M247.4 232.4l-1.1 0.0M245.5 233.3l-0.5 1.0M239.1 246.3l1.1 0.3M230.7 254.5l1.1 0.3M240.3 252.4l0.8 0.7M244.4 228.3l0.4 1.0M233.3 232.8l0.9 0.7M233.2 240.9l-1.1 0.3M247.6 248.4l-1.1 0.2M244.6 238.7l0.4 1.0M242.7 245.8l-0.9 0.7M242.3 229.3l0.3 1.1M236.6 240.1l1.0 0.5M237.9 250.4l-0.2 1.1M224.2 238.0l1.1 0.1M228.5 253.8l0.9 0.7M237.5 231.9l-0.7 0.8" stroke="#a4b03c" stroke-width="1.25"/><path d="M242.0 250.5l1.1 0.3M233.3 244.8l1.1 0.2M240.0 257.6l-1.0 0.4M235.7 255.4l-0.7 0.8M238.0 245.0l1.1 0.1M227.9 250.7l-0.1 1.1M235.2 231.9l-0.6 0.9M224.1 237.5l-0.6 0.9" stroke="#8c3830" stroke-width="1.25"/><path d="M233.8 250.5l-1.1 0.3M237.0 243.2l1.0 0.4M238.2 236.4l1.1 0.3M230.4 234.6l-0.2 1.1M237.2 242.4l-0.4 1.0M226.5 252.4l-0.6 0.9M224.0 246.4l-0.7 0.9M239.2 250.1l0.8 0.8M241.3 248.3l0.8 0.7M239.6 247.7l0.1 1.1M245.6 252.3l-0.4 1.0M239.4 244.4l-1.1 0.1M248.2 249.7l1.1 0.2M245.4 254.1l-0.3 1.0" stroke="#a0aa3c" stroke-width="1.25"/><path d="M248.3 242.5l0.7 0.8M233.5 243.4l-1.0 0.4M244.1 253.6l-0.9 0.6M233.3 243.5l-0.1 1.1M243.5 227.9l1.1 0.1M248.5 237.6l-1.1 0.3" stroke="#b86c60" stroke-width="1.25"/><path d="M244.3 243.6l0.7 0.8M241.7 245.7l-0.9 0.6M235.1 249.4l1.0 0.4M235.0 253.2l-0.5 1.0M240.2 237.0l1.1 0.2M226.0 243.1l-0.3 1.1M221.6 242.1l0.3 1.0M246.2 252.0l1.1 0.2M242.9 248.7l-0.8 0.7M227.7 235.7l0.8 0.7M246.3 249.3l-0.2 1.1" stroke="#a85a50" stroke-width="1.25"/><path d="M236.4 257.3l1.0 0.4M232.9 229.7l1.1 0.1" stroke="#904038" stroke-width="1.25"/><path d="M240.9 229.1l0.4 1.0M251.7 241.1l1.1 0.3M227.4 253.6l-0.5 1.0M233.7 247.9l-0.3 1.1M227.3 253.1l0.1 1.1M244.6 230.8l1.0 0.5M228.1 245.9l-0.2 1.1M228.0 245.7l-1.1 0.2" stroke="#7a3028" stroke-width="1.25"/></g>
<circle cx="96.3" cy="290.4" r="20.6" fill="#1e1e1e" stroke="#484848" stroke-width="0.8"/><circle cx="96.3" cy="290.4" r="19.2" fill="url(#plate)"/><g filter="url(#bl2)" stroke-linecap="round"><path d="M84.8 297.9l0.7 0.8M101.3 291.5l0.7 0.8M84.4 297.6l1.0 0.5M94.6 281.2l1.1 0.3M97.8 298.5l-0.9 0.6M100.7 303.3l0.9 0.6M104.8 279.6l0.8 0.8M89.7 298.8l-1.0 0.5M106.7 298.2l-0.6 0.9M104.7 290.0l0.2 1.1M106.1 301.6l1.1 0.2M82.0 286.5l0.4 1.0M105.6 294.5l-0.6 0.9M89.0 283.5l-1.1 0.2M83.6 298.0l-0.3 1.1M100.8 293.7l0.4 1.0M109.1 286.5l-0.3 1.1M95.0 279.0l1.1 0.0M98.6 288.2l0.5 1.0M93.1 297.9l0.8 0.8M104.7 283.8l-0.9 0.6M108.0 290.0l0.5 1.0M102.7 294.4l-0.3 1.0M91.8 284.7l1.1 0.3M105.5 278.9l-0.1 1.1M97.0 290.7l0.8 0.7M97.0 296.8l1.1 0.3M86.8 301.3l-1.1 0.1M93.8 305.0l-0.9 0.6M91.7 302.3l-0.2 1.1M90.5 297.0l0.6 0.9M99.0 299.1l-0.4 1.0M88.4 282.0l-1.0 0.5M96.0 286.1l1.1 0.3M104.2 295.9l-0.8 0.8M106.8 295.9l1.0 0.5M82.8 290.0l1.1 0.3M97.4 303.7l-1.1 0.0M90.4 304.0l0.8 0.8M102.0 304.0l0.9 0.7M91.5 303.6l1.0 0.4M101.5 283.7l-0.7 0.8M93.3 295.4l1.0 0.5M85.9 286.4l-0.9 0.7M89.5 292.9l-0.9 0.6M94.4 289.3l0.0 1.1M99.9 275.1l1.1 0.1M93.7 282.3l-0.3 1.1M94.7 291.3l0.7 0.9M104.0 291.4l0.9 0.7M97.0 303.5l-1.1 0.0M108.4 293.6l0.6 0.9M101.7 287.0l0.8 0.8M85.5 281.1l-0.4 1.0M85.3 283.6l-0.3 1.1M93.2 284.6l0.9 0.7M86.0 301.3l0.4 1.0M99.0 280.0l-0.4 1.0M81.6 284.7l1.1 0.3M89.2 297.2l-0.7 0.8M82.0 292.1l-0.4 1.0M105.1 301.2l1.1 0.3M93.2 299.3l-0.0 1.1M106.1 287.0l-0.9 0.7M94.7 280.6l0.8 0.8M95.8 291.0l-1.1 0.2M97.9 283.7l0.6 0.9M109.3 285.7l0.1 1.1M97.5 292.2l0.7 0.8M99.0 296.1l0.2 1.1M99.4 295.2l-0.1 1.1M94.1 281.8l0.9 0.6M89.4 297.0l-0.7 0.9M99.6 279.4l-0.2 1.1M97.4 290.6l-1.1 0.0M101.3 291.7l-0.4 1.0M103.8 291.5l1.1 0.1M81.1 285.1l0.3 1.0M101.5 294.6l0.8 0.7M84.6 288.7l-0.5 1.0M95.5 282.3l-0.2 1.1M89.0 298.1l0.6 0.9M85.3 290.1l1.0 0.5M100.7 297.0l-0.8 0.8M96.0 305.4l1.1 0.2M87.7 300.0l0.2 1.1M88.1 280.2l0.9 0.6M94.7 285.7l0.3 1.1M103.2 291.4l1.0 0.5M99.0 279.8l-0.5 1.0M95.0 301.3l1.0 0.4M104.9 289.4l0.8 0.7M89.7 295.2l-0.4 1.0M101.0 299.9l0.7 0.8M100.9 293.9l-1.0 0.4M101.5 289.5l1.0 0.5M81.8 288.5l-1.1 0.2M102.0 291.3l0.2 1.1M88.4 299.3l0.3 1.1M86.4 285.8l-1.1 0.1M94.8 293.8l0.0 1.1M91.0 299.7l-0.0 1.1M86.6 289.2l-0.8 0.8M99.1 295.4l0.8 0.8M101.8 279.6l-1.0 0.4M89.5 284.0l0.7 0.8M91.3 296.6l-1.1 0.1M107.0 290.9l1.1 0.3M109.5 285.5l-1.0 0.4M86.3 283.5l0.2 1.1M98.8 289.7l-0.3 1.1M107.0 279.2l-0.9 0.6M111.1 291.5l-1.0 0.4M101.6 289.3l-0.4 1.0M104.4 286.8l-1.1 0.1M98.1 293.4l0.2 1.1M103.9 286.6l0.9 0.7M89.5 276.5l-1.0 0.5M104.4 283.4l-0.7 0.8M102.4 286.4l0.5 1.0M105.8 298.5l-0.6 0.9M102.7 291.2l-1.0 0.5M93.1 296.4l-1.0 0.5M87.5 294.5l-0.9 0.7M92.3 277.8l-0.7 0.8M102.2 278.6l-0.7 0.8M93.9 275.2l0.6 0.9M100.6 287.0l-0.2 1.1M105.0 286.7l0.1 1.1M90.5 274.6l0.8 0.7M93.1 297.4l0.1 1.1M82.7 290.4l0.6 0.9M83.9 298.2l0.7 0.8M106.7 290.0l-1.0 0.5M102.7 301.1l-0.7 0.9M105.0 284.5l0.4 1.0M105.1 282.0l-0.2 1.1M95.7 276.1l-1.1 0.0M92.3 278.5l-0.5 1.0M110.8 286.8l-0.6 0.9" stroke="#66702a" stroke-width="2.1"/><path d="M84.8 297.9l0.7 0.8M100.7 303.3l0.9 0.6M82.0 286.5l0.4 1.0M95.0 279.0l1.1 0.0M102.7 294.4l-0.3 1.0M90.5 297.0l0.6 0.9M90.4 304.0l0.8 0.8M101.7 287.0l0.8 0.8M81.6 284.7l1.1 0.3M93.2 299.3l-0.0 1.1M94.1 281.8l0.9 0.6M97.4 290.6l-1.1 0.0M81.1 285.1l0.3 1.0M101.5 294.6l0.8 0.7M95.0 301.3l1.0 0.4M89.7 295.2l-0.4 1.0M101.5 289.5l1.0 0.5M98.8 289.7l-0.3 1.1M93.1 296.4l-1.0 0.5M102.2 278.6l-0.7 0.8M100.6 287.0l-0.2 1.1M93.1 297.4l0.1 1.1M83.9 298.2l0.7 0.8M106.7 290.0l-1.0 0.5" stroke="#a0aa3c" stroke-width="1.25"/><path d="M101.3 291.5l0.7 0.8M97.8 298.5l-0.9 0.6M97.0 296.8l1.1 0.3M91.7 302.3l-0.2 1.1M99.0 299.1l-0.4 1.0M97.4 303.7l-1.1 0.0M85.9 286.4l-0.9 0.7M94.4 289.3l0.0 1.1M104.0 291.4l0.9 0.7M84.6 288.7l-0.5 1.0M95.5 282.3l-0.2 1.1M99.0 279.8l-0.5 1.0M88.4 299.3l0.3 1.1M89.5 284.0l0.7 0.8M105.8 298.5l-0.6 0.9M102.7 301.1l-0.7 0.9M95.7 276.1l-1.1 0.0M110.8 286.8l-0.6 0.9" stroke="#b8bc50" stroke-width="1.25"/><path d="M84.4 297.6l1.0 0.5M104.7 290.0l0.2 1.1M109.1 286.5l-0.3 1.1M93.8 305.0l-0.9 0.6M101.5 283.7l-0.7 0.8M89.5 292.9l-0.9 0.6M97.0 303.5l-1.1 0.0M108.4 293.6l0.6 0.9M86.0 301.3l0.4 1.0M99.0 280.0l-0.4 1.0M105.1 301.2l1.1 0.3M94.7 280.6l0.8 0.8M85.3 290.1l1.0 0.5M94.7 285.7l0.3 1.1M91.0 299.7l-0.0 1.1M109.5 285.5l-1.0 0.4M89.5 276.5l-1.0 0.5M102.4 286.4l0.5 1.0M102.7 291.2l-1.0 0.5M105.0 286.7l0.1 1.1M82.7 290.4l0.6 0.9M105.0 284.5l0.4 1.0M105.1 282.0l-0.2 1.1" stroke="#98a834" stroke-width="1.25"/><path d="M94.6 281.2l1.1 0.3M105.6 294.5l-0.6 0.9M108.0 290.0l0.5 1.0M91.8 284.7l1.1 0.3M105.5 278.9l-0.1 1.1M88.4 282.0l-1.0 0.5M102.0 304.0l0.9 0.7M94.7 291.3l0.7 0.9M85.5 281.1l-0.4 1.0M85.3 283.6l-0.3 1.1M82.0 292.1l-0.4 1.0M97.5 292.2l0.7 0.8M99.4 295.2l-0.1 1.1M89.4 297.0l-0.7 0.9M99.6 279.4l-0.2 1.1M88.1 280.2l0.9 0.6M103.2 291.4l1.0 0.5M102.0 291.3l0.2 1.1M86.4 285.8l-1.1 0.1M101.8 279.6l-1.0 0.4M91.3 296.6l-1.1 0.1M107.0 279.2l-0.9 0.6M101.6 289.3l-0.4 1.0M104.4 286.8l-1.1 0.1M104.4 283.4l-0.7 0.8M87.5 294.5l-0.9 0.7M93.9 275.2l0.6 0.9M92.3 278.5l-0.5 1.0" stroke="#b0bc48" stroke-width="1.25"/><path d="M104.8 279.6l0.8 0.8M106.7 298.2l-0.6 0.9M89.0 283.5l-1.1 0.2M83.6 298.0l-0.3 1.1M100.8 293.7l0.4 1.0M98.6 288.2l0.5 1.0M86.8 301.3l-1.1 0.1M96.0 286.1l1.1 0.3M93.3 295.4l1.0 0.5M89.2 297.2l-0.7 0.8M95.8 291.0l-1.1 0.2M99.0 296.1l0.2 1.1M101.3 291.7l-0.4 1.0M100.7 297.0l-0.8 0.8M81.8 288.5l-1.1 0.2M99.1 295.4l0.8 0.8M111.1 291.5l-1.0 0.4M103.9 286.6l0.9 0.7M92.3 277.8l-0.7 0.8M90.5 274.6l0.8 0.7" stroke="#a4b03c" stroke-width="1.25"/><path d="M89.7 298.8l-1.0 0.5M106.1 301.6l1.1 0.2M93.1 297.9l0.8 0.8M104.7 283.8l-0.9 0.6M97.0 290.7l0.8 0.7M104.2 295.9l-0.8 0.8M106.8 295.9l1.0 0.5M82.8 290.0l1.1 0.3M91.5 303.6l1.0 0.4M99.9 275.1l1.1 0.1M93.7 282.3l-0.3 1.1M93.2 284.6l0.9 0.7M106.1 287.0l-0.9 0.7M97.9 283.7l0.6 0.9M109.3 285.7l0.1 1.1M103.8 291.5l1.1 0.1M89.0 298.1l0.6 0.9M96.0 305.4l1.1 0.2M87.7 300.0l0.2 1.1M104.9 289.4l0.8 0.7M101.0 299.9l0.7 0.8M100.9 293.9l-1.0 0.4M94.8 293.8l0.0 1.1M86.6 289.2l-0.8 0.8M107.0 290.9l1.1 0.3M86.3 283.5l0.2 1.1M98.1 293.4l0.2 1.1" stroke="#8c9c30" stroke-width="1.25"/></g>
<circle cx="143.5" cy="290.4" r="20.6" fill="#1e1e1e" stroke="#484848" stroke-width="0.8"/><circle cx="143.5" cy="290.4" r="19.2" fill="url(#plate)"/><g filter="url(#bl2)" stroke-linecap="round"><path d="M155.5 288.3l-0.0 1.1M147.7 288.6l-0.2 1.1M128.7 289.1l0.5 1.0M138.1 303.6l-0.1 1.1M137.5 301.1l1.0 0.4M144.8 294.3l1.0 0.5M137.8 300.8l-1.1 0.2M139.8 288.4l1.0 0.5M152.7 281.6l-0.6 0.9M152.8 286.2l-0.5 1.0M140.1 298.3l0.6 0.9M130.7 289.5l0.5 1.0M145.2 299.5l1.1 0.2M146.6 296.3l1.0 0.5M152.7 299.9l0.5 1.0M147.4 282.3l-1.0 0.5M130.9 293.8l0.4 1.0M144.8 297.6l-0.7 0.8M153.2 286.8l1.1 0.0M151.0 287.2l1.0 0.4M137.9 278.4l1.0 0.4M144.5 287.3l-0.0 1.1M154.8 280.7l-1.0 0.4M141.7 298.5l-0.7 0.9M153.1 286.2l-0.9 0.7M144.8 289.1l0.4 1.0M153.8 294.3l-0.1 1.1M132.5 284.5l-0.8 0.8M143.2 304.7l0.8 0.7M142.9 280.0l-1.1 0.3M136.1 280.7l-0.3 1.0M137.1 297.5l-0.4 1.0M156.2 296.8l0.0 1.1M152.7 296.8l-0.9 0.6M156.8 294.0l1.1 0.1M142.3 299.0l1.1 0.1M147.8 276.4l0.7 0.8M144.7 288.5l1.0 0.5M139.0 290.3l0.8 0.8M134.8 279.4l0.8 0.8M150.4 300.4l0.9 0.6M137.6 291.0l-0.9 0.7M150.6 298.1l0.7 0.8M151.7 298.9l0.6 0.9M153.9 297.4l-1.1 0.1M146.4 298.8l-0.0 1.1M151.6 301.0l0.7 0.8M130.5 289.2l0.9 0.6M144.5 303.6l-0.1 1.1M154.0 296.1l0.1 1.1M144.5 302.8l-1.0 0.5M135.2 284.7l1.1 0.2M133.9 290.5l0.9 0.6M148.2 287.9l-0.6 0.9M145.7 302.0l-0.2 1.1M156.8 297.0l1.0 0.5M146.6 279.1l-0.4 1.0M141.1 296.7l-0.5 1.0M140.5 279.5l0.7 0.9M140.8 284.2l0.9 0.7M143.3 296.9l0.4 1.0M130.2 296.1l0.9 0.6M143.0 288.9l0.6 0.9M147.9 281.6l-0.9 0.7M137.9 286.4l-1.1 0.1M139.9 285.5l0.6 0.9M140.3 276.4l1.1 0.2M141.9 294.6l0.6 0.9M151.8 285.1l0.3 1.1M132.5 284.5l0.3 1.1M152.8 279.6l-0.3 1.1M134.2 284.0l-0.3 1.1M141.3 288.3l-1.1 0.3M135.0 298.9l-0.3 1.1M148.2 282.0l0.1 1.1M140.3 304.9l1.1 0.1M132.9 287.1l-1.1 0.3M130.1 287.7l-0.4 1.0M153.9 280.9l0.6 0.9M150.2 290.0l-0.9 0.7M141.0 281.0l-1.1 0.3M146.4 297.4l-0.9 0.6M145.3 295.8l1.1 0.1M157.9 295.6l-1.1 0.1M144.9 287.0l1.1 0.0M131.2 284.1l-1.1 0.3M148.3 285.3l-0.5 1.0M149.9 284.1l-1.1 0.2M147.6 282.9l0.6 0.9M146.2 299.4l-0.5 1.0M135.5 288.1l0.0 1.1M128.9 290.6l0.3 1.1M145.3 301.7l-0.1 1.1M153.3 282.9l1.0 0.4M145.5 277.6l-0.8 0.8M159.3 286.1l-1.1 0.2M148.9 297.3l-0.8 0.7M140.0 295.8l1.1 0.1M139.5 280.1l0.4 1.0M136.5 277.2l-0.7 0.8M143.6 298.1l0.4 1.0M148.4 291.3l-1.0 0.4M148.5 286.7l-0.0 1.1M144.4 287.4l1.0 0.5M138.5 300.4l1.1 0.1M136.3 291.4l-0.3 1.1M133.3 297.8l0.6 0.9M137.5 276.4l1.1 0.0M146.1 295.4l0.5 1.0M158.6 285.2l-0.3 1.1M135.1 296.7l-0.6 0.9M149.7 299.3l1.0 0.4M144.1 288.9l1.1 0.3M157.3 291.9l-1.1 0.0M149.2 294.3l-0.0 1.1M136.3 297.7l0.2 1.1M146.2 285.0l0.2 1.1M129.9 285.2l0.2 1.1M133.1 297.9l0.6 0.9M132.2 288.7l1.1 0.2M132.5 286.8l1.0 0.4M130.6 297.1l-1.1 0.0M142.4 293.3l-0.7 0.9M155.5 279.4l-0.3 1.0M133.2 299.2l-0.9 0.7M133.1 295.8l-0.2 1.1" stroke="#66702a" stroke-width="2.1"/><path d="M156.3 291.4l-0.4 1.0M154.5 300.4l-0.9 0.6M138.5 294.5l-0.3 1.1M150.9 275.9l0.7 0.8M141.2 277.6l-1.1 0.2M150.1 288.1l-1.1 0.2M139.7 280.7l0.2 1.1M139.1 299.0l1.0 0.4M155.9 295.9l0.6 0.9M137.9 293.7l0.8 0.8M157.3 287.6l0.9 0.6M130.6 294.3l-0.4 1.0M151.5 280.0l-0.8 0.7M146.1 297.9l1.0 0.5" stroke="#58241e" stroke-width="2.1"/><path d="M155.5 288.3l-0.0 1.1M137.5 301.1l1.0 0.4M139.8 288.4l1.0 0.5M130.7 289.5l0.5 1.0M144.8 297.6l-0.7 0.8M144.5 287.3l-0.0 1.1M154.8 280.7l-1.0 0.4M142.3 299.0l1.1 0.1M137.6 291.0l-0.9 0.7M153.9 297.4l-1.1 0.1M133.9 290.5l0.9 0.6M147.9 281.6l-0.9 0.7M140.3 276.4l1.1 0.2M132.5 284.5l0.3 1.1M153.9 280.9l0.6 0.9M141.0 281.0l-1.1 0.3M147.6 282.9l0.6 0.9M148.4 291.3l-1.0 0.4M136.3 291.4l-0.3 1.1M158.6 285.2l-0.3 1.1M149.7 299.3l1.0 0.4M144.1 288.9l1.1 0.3" stroke="#b0bc48" stroke-width="1.25"/><path d="M147.7 288.6l-0.2 1.1M147.4 282.3l-1.0 0.5M143.2 304.7l0.8 0.7M142.9 280.0l-1.1 0.3M130.5 289.2l0.9 0.6M135.2 284.7l1.1 0.2M145.7 302.0l-0.2 1.1M151.8 285.1l0.3 1.1M140.3 304.9l1.1 0.1M132.9 287.1l-1.1 0.3M144.9 287.0l1.1 0.0M145.3 301.7l-0.1 1.1M159.3 286.1l-1.1 0.2M144.4 287.4l1.0 0.5M137.5 276.4l1.1 0.0M157.3 291.9l-1.1 0.0M132.5 286.8l1.0 0.4" stroke="#98a834" stroke-width="1.25"/><path d="M128.7 289.1l0.5 1.0M137.8 300.8l-1.1 0.2M152.7 281.6l-0.6 0.9M141.7 298.5l-0.7 0.9M144.8 289.1l0.4 1.0M136.1 280.7l-0.3 1.0M137.1 297.5l-0.4 1.0M147.8 276.4l0.7 0.8M150.4 300.4l0.9 0.6M154.0 296.1l0.1 1.1M144.5 302.8l-1.0 0.5M146.6 279.1l-0.4 1.0M140.8 284.2l0.9 0.7M143.3 296.9l0.4 1.0M139.9 285.5l0.6 0.9M141.3 288.3l-1.1 0.3M157.9 295.6l-1.1 0.1M148.3 285.3l-0.5 1.0M146.2 299.4l-0.5 1.0M135.5 288.1l0.0 1.1M140.0 295.8l1.1 0.1M138.5 300.4l1.1 0.1M133.3 297.8l0.6 0.9M146.1 295.4l0.5 1.0M135.1 296.7l-0.6 0.9M149.2 294.3l-0.0 1.1M133.2 299.2l-0.9 0.7" stroke="#8c9c30" stroke-width="1.25"/><path d="M138.1 303.6l-0.1 1.1M130.9 293.8l0.4 1.0M153.2 286.8l1.1 0.0M137.9 278.4l1.0 0.4M144.7 288.5l1.0 0.5M150.6 298.1l0.7 0.8M146.4 298.8l-0.0 1.1M151.6 301.0l0.7 0.8M144.5 303.6l-0.1 1.1M148.2 287.9l-0.6 0.9M130.2 296.1l0.9 0.6M137.9 286.4l-1.1 0.1M152.8 279.6l-0.3 1.1M135.0 298.9l-0.3 1.1M130.1 287.7l-0.4 1.0M128.9 290.6l0.3 1.1M143.6 298.1l0.4 1.0M129.9 285.2l0.2 1.1M133.1 297.9l0.6 0.9" stroke="#b8bc50" stroke-width="1.25"/><path d="M156.3 291.4l-0.4 1.0M154.5 300.4l-0.9 0.6M155.9 295.9l0.6 0.9" stroke="#b86c60" stroke-width="1.25"/><path d="M144.8 294.3l1.0 0.5M152.8 286.2l-0.5 1.0M140.1 298.3l0.6 0.9M145.2 299.5l1.1 0.2M146.6 296.3l1.0 0.5M152.7 299.9l0.5 1.0M151.0 287.2l1.0 0.4M153.1 286.2l-0.9 0.7M153.8 294.3l-0.1 1.1M132.5 284.5l-0.8 0.8M152.7 296.8l-0.9 0.6M156.8 294.0l1.1 0.1M141.1 296.7l-0.5 1.0M143.0 288.9l0.6 0.9M141.9 294.6l0.6 0.9M134.2 284.0l-0.3 1.1M148.2 282.0l0.1 1.1M146.4 297.4l-0.9 0.6M131.2 284.1l-1.1 0.3M153.3 282.9l1.0 0.4M148.9 297.3l-0.8 0.7M148.5 286.7l-0.0 1.1M130.6 297.1l-1.1 0.0M142.4 293.3l-0.7 0.9M155.5 279.4l-0.3 1.0M133.1 295.8l-0.2 1.1" stroke="#a0aa3c" stroke-width="1.25"/><path d="M138.5 294.5l-0.3 1.1" stroke="#9c4a40" stroke-width="1.25"/><path d="M150.9 275.9l0.7 0.8M139.7 280.7l0.2 1.1" stroke="#904038" stroke-width="1.25"/><path d="M156.2 296.8l0.0 1.1M139.0 290.3l0.8 0.8M134.8 279.4l0.8 0.8M151.7 298.9l0.6 0.9M156.8 297.0l1.0 0.5M140.5 279.5l0.7 0.9M150.2 290.0l-0.9 0.7M145.3 295.8l1.1 0.1M149.9 284.1l-1.1 0.2M145.5 277.6l-0.8 0.8M139.5 280.1l0.4 1.0M136.5 277.2l-0.7 0.8M136.3 297.7l0.2 1.1M146.2 285.0l0.2 1.1M132.2 288.7l1.1 0.2" stroke="#a4b03c" stroke-width="1.25"/><path d="M141.2 277.6l-1.1 0.2M139.1 299.0l1.0 0.4M130.6 294.3l-0.4 1.0M151.5 280.0l-0.8 0.7" stroke="#a85a50" stroke-width="1.25"/><path d="M150.1 288.1l-1.1 0.2M137.9 293.7l0.8 0.8M157.3 287.6l0.9 0.6" stroke="#8c3830" stroke-width="1.25"/><path d="M146.1 297.9l1.0 0.5" stroke="#7a3028" stroke-width="1.25"/></g>
<circle cx="190.6" cy="290.4" r="20.6" fill="#1e1e1e" stroke="#484848" stroke-width="0.8"/><circle cx="190.6" cy="290.4" r="19.2" fill="url(#plate)"/><g filter="url(#bl2)" stroke-linecap="round"><path d="M185.2 293.6l0.7 0.8M187.3 299.8l-0.1 1.1M200.4 289.7l-0.7 0.8M204.2 281.9l-0.8 0.7M187.9 281.8l0.2 1.1M190.4 303.8l-0.4 1.0M185.8 295.6l-1.0 0.5M197.9 284.6l-1.1 0.0M190.5 291.6l0.1 1.1M180.9 284.6l0.8 0.7M187.6 279.1l1.0 0.4M204.4 290.4l0.9 0.6M192.2 292.6l0.1 1.1M191.4 290.9l0.5 1.0M189.0 292.9l0.6 0.9M181.4 278.0l1.1 0.1M193.2 274.0l0.8 0.7M196.3 294.3l-1.1 0.2M203.7 281.2l0.8 0.8M188.3 290.4l1.1 0.2M185.5 289.7l1.0 0.4M192.8 286.7l0.4 1.0M199.7 284.7l1.0 0.5M200.3 300.2l-1.1 0.2M199.6 287.1l-0.8 0.8M201.0 289.7l0.7 0.9M189.5 301.1l0.6 0.9M195.2 298.7l0.6 0.9M182.4 290.8l-0.2 1.1M205.2 285.3l-1.1 0.1M199.8 290.1l-1.0 0.5M182.5 276.8l1.0 0.4M186.6 298.6l0.5 1.0M193.3 274.3l0.9 0.7M190.6 292.0l1.1 0.3M184.0 285.3l-0.8 0.7M185.9 275.9l1.1 0.3M203.0 284.1l1.1 0.1M204.1 281.3l-0.7 0.9M182.7 286.6l-1.1 0.1M178.3 293.9l0.2 1.1M192.3 292.3l1.1 0.3" stroke="#66702a" stroke-width="2.1"/><path d="M177.6 286.8l0.2 1.1M194.6 276.4l1.1 0.1M178.9 287.3l-1.1 0.2M178.5 285.4l-1.1 0.2M182.1 292.1l0.3 1.1M194.3 298.8l-0.4 1.0M192.0 276.5l0.3 1.1M188.9 278.5l1.1 0.3M197.1 289.3l-1.1 0.3M198.8 302.1l0.6 0.9M203.6 282.2l-0.3 1.0M194.4 294.3l-1.1 0.1M192.9 296.1l0.1 1.1M201.7 281.9l-0.3 1.1M190.9 276.0l-0.2 1.1M175.3 290.3l0.8 0.7M185.9 303.0l-0.2 1.1M201.4 291.0l-0.2 1.1M183.2 299.2l0.4 1.0M185.1 279.4l-0.8 0.8M199.3 302.1l0.2 1.1M196.4 288.7l-0.9 0.7M189.4 279.4l-1.0 0.5M188.2 300.8l-1.0 0.3M180.7 296.8l0.4 1.0M190.6 292.7l1.1 0.2M190.9 275.2l0.9 0.6M183.8 282.4l0.7 0.8M183.0 292.3l-1.0 0.5M191.9 277.6l1.0 0.5M183.6 296.9l-1.1 0.1M202.2 278.5l-0.9 0.6M184.2 283.5l1.1 0.3M191.2 300.3l0.3 1.1M192.3 283.5l-1.0 0.4M184.4 302.6l-0.7 0.9M192.2 302.9l-0.8 0.7M183.3 289.0l-1.1 0.1M200.1 282.3l-1.1 0.1M190.1 299.7l-1.1 0.1M189.8 277.2l-0.9 0.7M179.6 294.6l-0.5 1.0M191.5 284.5l0.8 0.7M194.4 281.7l1.1 0.1M194.5 286.5l1.1 0.2M201.9 281.9l-0.3 1.1M186.9 283.3l0.5 1.0M205.6 289.0l-1.0 0.4M182.4 302.2l-0.6 0.9M187.1 288.6l-0.3 1.1M190.6 283.8l0.6 0.9M201.5 295.2l1.1 0.1M190.1 303.9l1.1 0.2M193.2 302.1l1.0 0.5M191.5 275.0l1.1 0.2M190.8 291.8l0.1 1.1M198.4 288.7l-0.9 0.6M177.9 284.3l-0.3 1.1M193.5 294.7l0.2 1.1M198.9 302.3l0.9 0.7M199.4 280.6l-1.1 0.0M177.3 285.3l0.1 1.1M190.6 298.9l1.1 0.3M193.8 277.0l0.1 1.1M178.1 280.6l-0.3 1.1M192.5 283.9l0.7 0.9M191.1 273.9l-0.0 1.1M177.3 282.6l-0.1 1.1M201.8 300.1l0.7 0.9M197.4 290.8l-0.9 0.7M188.2 296.4l0.0 1.1M183.9 285.5l0.7 0.8M201.8 283.4l-1.1 0.1M183.9 283.5l-0.8 0.7M189.2 288.7l-1.1 0.3M189.6 288.1l-0.1 1.1M176.7 295.1l1.1 0.3M191.7 287.9l-0.3 1.1M192.2 287.9l1.1 0.2M187.8 302.5l-1.1 0.1M179.7 283.6l1.1 0.3M178.3 289.0l-1.1 0.3M176.7 293.2l-0.5 1.0M178.0 283.5l-1.1 0.1M185.5 274.4l0.8 0.7M189.8 280.7l0.7 0.9M197.1 284.2l-1.1 0.1M203.0 286.5l-0.8 0.8M194.8 275.8l-0.3 1.1M183.2 301.3l1.1 0.1M203.9 295.4l0.6 0.9M185.3 289.6l-1.1 0.1M185.2 298.0l-1.1 0.2M185.9 296.0l0.5 1.0M195.8 280.2l-0.9 0.7M183.8 281.1l-0.5 1.0M184.2 277.0l-1.0 0.5M193.5 281.5l1.1 0.2" stroke="#58241e" stroke-width="2.1"/><path d="M185.2 293.6l0.7 0.8M203.7 281.2l0.8 0.8M195.2 298.7l0.6 0.9" stroke="#a4b03c" stroke-width="1.25"/><path d="M177.6 286.8l0.2 1.1M194.6 276.4l1.1 0.1M194.3 298.8l-0.4 1.0M203.6 282.2l-0.3 1.0M175.3 290.3l0.8 0.7M185.9 303.0l-0.2 1.1M189.4 279.4l-1.0 0.5M183.3 289.0l-1.1 0.1M179.6 294.6l-0.5 1.0M186.9 283.3l0.5 1.0M205.6 289.0l-1.0 0.4M190.1 303.9l1.1 0.2M178.1 280.6l-0.3 1.1M192.5 283.9l0.7 0.9M183.9 285.5l0.7 0.8M179.7 283.6l1.1 0.3M178.3 289.0l-1.1 0.3M189.8 280.7l0.7 0.9M197.1 284.2l-1.1 0.1M183.2 301.3l1.1 0.1M185.3 289.6l-1.1 0.1M185.2 298.0l-1.1 0.2" stroke="#904038" stroke-width="1.25"/><path d="M187.3 299.8l-0.1 1.1M200.4 289.7l-0.7 0.8M190.4 303.8l-0.4 1.0M185.8 295.6l-1.0 0.5M191.4 290.9l0.5 1.0M189.5 301.1l0.6 0.9M182.4 290.8l-0.2 1.1M199.8 290.1l-1.0 0.5M182.5 276.8l1.0 0.4M193.3 274.3l0.9 0.7M204.1 281.3l-0.7 0.9M178.3 293.9l0.2 1.1" stroke="#a0aa3c" stroke-width="1.25"/><path d="M178.9 287.3l-1.1 0.2M190.9 276.0l-0.2 1.1M199.3 302.1l0.2 1.1M196.4 288.7l-0.9 0.7M190.6 292.7l1.1 0.2M202.2 278.5l-0.9 0.6M192.3 283.5l-1.0 0.4M194.4 281.7l1.1 0.1M201.9 281.9l-0.3 1.1M187.1 288.6l-0.3 1.1M190.8 291.8l0.1 1.1M198.9 302.3l0.9 0.7M177.3 285.3l0.1 1.1M190.6 298.9l1.1 0.3M185.9 296.0l0.5 1.0M183.8 281.1l-0.5 1.0M193.5 281.5l1.1 0.2" stroke="#9c4a40" stroke-width="1.25"/><path d="M178.5 285.4l-1.1 0.2M194.4 294.3l-1.1 0.1M183.2 299.2l0.4 1.0M184.2 283.5l1.1 0.3M184.4 302.6l-0.7 0.9M190.6 283.8l0.6 0.9M193.2 302.1l1.0 0.5M198.4 288.7l-0.9 0.6M177.3 282.6l-0.1 1.1M188.2 296.4l0.0 1.1M189.2 288.7l-1.1 0.3M191.7 287.9l-0.3 1.1" stroke="#a85a50" stroke-width="1.25"/><path d="M182.1 292.1l0.3 1.1M192.0 276.5l0.3 1.1M188.9 278.5l1.1 0.3M192.9 296.1l0.1 1.1M201.7 281.9l-0.3 1.1M188.2 300.8l-1.0 0.3M191.2 300.3l0.3 1.1M200.1 282.3l-1.1 0.1M190.1 299.7l-1.1 0.1M189.8 277.2l-0.9 0.7M194.5 286.5l1.1 0.2M201.5 295.2l1.1 0.1M191.5 275.0l1.1 0.2M199.4 280.6l-1.1 0.0M193.8 277.0l0.1 1.1M201.8 300.1l0.7 0.9M201.8 283.4l-1.1 0.1M183.9 283.5l-0.8 0.7M176.7 293.2l-0.5 1.0M194.8 275.8l-0.3 1.1" stroke="#b86c60" stroke-width="1.25"/><path d="M204.2 281.9l-0.8 0.7M192.2 292.6l0.1 1.1M200.3 300.2l-1.1 0.2M205.2 285.3l-1.1 0.1M186.6 298.6l0.5 1.0M185.9 275.9l1.1 0.3M192.3 292.3l1.1 0.3" stroke="#b0bc48" stroke-width="1.25"/><path d="M187.9 281.8l0.2 1.1M190.5 291.6l0.1 1.1M180.9 284.6l0.8 0.7M187.6 279.1l1.0 0.4M185.5 289.7l1.0 0.4M199.6 287.1l-0.8 0.8" stroke="#b8bc50" stroke-width="1.25"/><path d="M197.1 289.3l-1.1 0.3M185.1 279.4l-0.8 0.8M180.7 296.8l0.4 1.0M183.8 282.4l0.7 0.8M191.9 277.6l1.0 0.5M183.6 296.9l-1.1 0.1M191.5 284.5l0.8 0.7M193.5 294.7l0.2 1.1M197.4 290.8l-0.9 0.7M187.8 302.5l-1.1 0.1M185.5 274.4l0.8 0.7M203.9 295.4l0.6 0.9M195.8 280.2l-0.9 0.7" stroke="#7a3028" stroke-width="1.25"/><path d="M198.8 302.1l0.6 0.9M201.4 291.0l-0.2 1.1M190.9 275.2l0.9 0.6M183.0 292.3l-1.0 0.5M192.2 302.9l-0.8 0.7M182.4 302.2l-0.6 0.9M177.9 284.3l-0.3 1.1M191.1 273.9l-0.0 1.1M189.6 288.1l-0.1 1.1M176.7 295.1l1.1 0.3M192.2 287.9l1.1 0.2M178.0 283.5l-1.1 0.1M203.0 286.5l-0.8 0.8M184.2 277.0l-1.0 0.5" stroke="#8c3830" stroke-width="1.25"/><path d="M197.9 284.6l-1.1 0.0M181.4 278.0l1.1 0.1M193.2 274.0l0.8 0.7M196.3 294.3l-1.1 0.2M199.7 284.7l1.0 0.5M201.0 289.7l0.7 0.9M190.6 292.0l1.1 0.3M203.0 284.1l1.1 0.1" stroke="#98a834" stroke-width="1.25"/><path d="M204.4 290.4l0.9 0.6M189.0 292.9l0.6 0.9M188.3 290.4l1.1 0.2M192.8 286.7l0.4 1.0M184.0 285.3l-0.8 0.7M182.7 286.6l-1.1 0.1" stroke="#8c9c30" stroke-width="1.25"/></g>
<circle cx="237.4" cy="290.4" r="20.6" fill="#1e1e1e" stroke="#484848" stroke-width="0.8"/><circle cx="237.4" cy="290.4" r="19.2" fill="url(#plate)"/><g filter="url(#bl2)" stroke-linecap="round"><path d="M246.3 302.3l-0.9 0.6M233.9 282.5l0.4 1.0M240.9 278.7l0.1 1.1M243.6 274.8l0.4 1.0M241.6 296.3l0.5 1.0M246.2 284.8l-0.4 1.0M248.2 279.0l0.2 1.1M234.2 296.7l-0.5 1.0M247.2 292.1l1.1 0.2M234.4 301.6l-1.0 0.3M239.3 296.5l0.9 0.7M242.1 299.0l-0.4 1.0M233.7 302.4l-0.6 0.9M244.2 302.5l-0.2 1.1M237.4 287.7l-0.5 1.0M244.7 281.2l-0.9 0.6M227.9 292.1l1.1 0.3M241.0 297.9l1.0 0.5" stroke="#66702a" stroke-width="2.1"/><path d="M247.1 279.0l1.0 0.5M242.0 276.1l0.8 0.7M233.6 298.8l-0.6 0.9M225.4 292.7l0.8 0.7M235.1 286.8l-1.1 0.3M229.4 288.6l0.4 1.0M234.8 291.9l0.7 0.8M239.9 298.6l-0.2 1.1M230.7 275.8l0.9 0.7M235.9 298.1l-1.0 0.5M237.3 300.8l0.5 1.0M248.2 279.4l-0.8 0.7M240.0 303.0l0.7 0.8M243.6 282.1l-1.0 0.4M244.1 300.1l-0.3 1.1M244.0 289.1l0.4 1.0M226.2 290.1l0.3 1.0M238.6 277.2l0.6 0.9M252.3 287.8l1.1 0.2M230.7 288.7l-0.7 0.8M243.9 295.0l-0.1 1.1M230.2 285.5l-1.1 0.1M229.4 296.9l-1.0 0.5M227.2 288.7l0.3 1.1M248.3 288.1l-1.0 0.4M231.1 280.8l-1.1 0.3M248.1 296.7l-0.1 1.1M227.5 301.2l-0.7 0.8M236.9 276.3l0.0 1.1M235.1 279.8l-1.1 0.2M244.6 288.3l1.0 0.5M242.0 303.8l-0.5 1.0M241.3 293.5l-0.5 1.0M228.7 301.9l0.7 0.9M238.2 287.2l0.1 1.1M248.1 292.9l1.1 0.1M240.2 296.5l-0.9 0.6M228.6 295.5l0.9 0.6M233.5 274.5l0.6 0.9M244.0 301.9l-0.7 0.8M240.5 291.5l0.1 1.1M243.7 299.3l-0.6 0.9M235.0 300.5l-0.5 1.0M237.2 303.1l-1.1 0.3M248.5 283.3l0.4 1.0M238.7 275.4l-0.1 1.1M239.4 287.2l1.0 0.4M247.6 294.6l-0.7 0.9M242.8 274.9l0.9 0.6M228.8 279.1l0.8 0.7M236.4 291.4l1.1 0.0M244.5 292.8l0.8 0.8M246.1 286.8l0.5 1.0M249.7 280.6l0.8 0.7M241.7 287.9l0.4 1.0M232.6 284.6l-0.6 0.9M231.6 276.7l-0.8 0.8M234.7 289.9l-0.6 0.9M232.2 276.1l-0.9 0.6M237.2 302.9l-0.2 1.1M232.8 287.2l0.6 0.9M230.5 286.9l0.2 1.1M225.1 283.9l1.1 0.1M248.0 298.3l-0.9 0.7M231.0 275.7l0.3 1.1M239.1 277.6l-1.1 0.2M226.4 293.5l0.2 1.1M240.1 294.9l-0.2 1.1M226.6 295.5l1.0 0.4M240.1 291.8l0.9 0.7M239.3 297.0l-0.7 0.8M221.8 289.6l0.9 0.6M238.1 303.1l0.9 0.6M242.6 294.6l-0.0 1.1M228.1 299.3l0.8 0.7M240.0 288.0l-0.0 1.1M239.4 276.3l-0.8 0.8M224.7 296.7l-1.0 0.4M234.0 282.8l0.6 0.9M245.1 296.8l0.4 1.0M233.1 296.2l-1.0 0.4M228.9 284.9l0.8 0.7M244.3 286.1l0.3 1.1M226.6 285.1l-0.7 0.8M247.1 282.9l-1.1 0.1M244.8 302.1l-1.1 0.3M231.4 302.4l1.1 0.2M227.4 284.0l-0.6 0.9M246.4 288.8l-0.8 0.7M238.3 282.0l0.4 1.0M238.8 281.1l-1.0 0.4M229.9 294.6l-0.9 0.6M237.9 284.1l-0.6 0.9M231.9 292.3l1.0 0.5M225.1 287.1l0.3 1.1M229.3 297.4l-1.1 0.1M245.8 297.3l-0.7 0.9M231.4 286.8l-0.7 0.8M223.8 294.2l-1.1 0.3M232.9 285.6l-1.1 0.3M234.0 284.1l-0.1 1.1M234.6 288.7l0.0 1.1M229.3 278.2l-0.7 0.8M237.6 296.5l-0.1 1.1M242.8 282.1l0.6 0.9M232.2 291.8l1.0 0.5M225.6 296.9l0.9 0.6M237.5 287.9l1.0 0.4M241.8 304.1l0.7 0.9M232.9 291.5l-1.0 0.4M228.0 292.7l-1.1 0.1M231.9 280.6l-1.0 0.4M238.4 285.3l0.3 1.1M226.0 290.0l0.3 1.1M233.9 288.2l-0.5 1.0M234.3 286.0l0.4 1.0M233.9 299.8l-0.2 1.1M225.5 295.3l-1.1 0.2M237.9 303.9l-0.6 0.9M243.8 276.5l1.1 0.3M224.2 281.0l1.0 0.5M225.4 294.4l0.8 0.7" stroke="#58241e" stroke-width="2.1"/><path d="M247.1 279.0l1.0 0.5M233.6 298.8l-0.6 0.9M239.9 298.6l-0.2 1.1M240.0 303.0l0.7 0.8M244.0 289.1l0.4 1.0M238.6 277.2l0.6 0.9M231.1 280.8l-1.1 0.3M235.1 279.8l-1.1 0.2M244.6 288.3l1.0 0.5M242.8 274.9l0.9 0.6M246.1 286.8l0.5 1.0M248.0 298.3l-0.9 0.7M226.4 293.5l0.2 1.1M242.6 294.6l-0.0 1.1M228.1 299.3l0.8 0.7M231.4 302.4l1.1 0.2M234.6 288.7l0.0 1.1M237.6 296.5l-0.1 1.1M232.9 291.5l-1.0 0.4M233.9 288.2l-0.5 1.0M233.9 299.8l-0.2 1.1M243.8 276.5l1.1 0.3" stroke="#904038" stroke-width="1.25"/><path d="M242.0 276.1l0.8 0.7M243.9 295.0l-0.1 1.1M229.4 296.9l-1.0 0.5M227.5 301.2l-0.7 0.8M241.3 293.5l-0.5 1.0M243.7 299.3l-0.6 0.9M248.5 283.3l0.4 1.0M244.5 292.8l0.8 0.8M232.6 284.6l-0.6 0.9M231.6 276.7l-0.8 0.8M234.7 289.9l-0.6 0.9M230.5 286.9l0.2 1.1M239.1 277.6l-1.1 0.2M233.1 296.2l-1.0 0.4M226.6 285.1l-0.7 0.8M247.1 282.9l-1.1 0.1M238.3 282.0l0.4 1.0M238.8 281.1l-1.0 0.4M225.1 287.1l0.3 1.1M225.5 295.3l-1.1 0.2" stroke="#8c3830" stroke-width="1.25"/><path d="M225.4 292.7l0.8 0.7M226.2 290.1l0.3 1.0M227.2 288.7l0.3 1.1M248.3 288.1l-1.0 0.4M248.1 292.9l1.1 0.1M233.5 274.5l0.6 0.9M240.5 291.5l0.1 1.1M236.4 291.4l1.1 0.0M237.2 302.9l-0.2 1.1M232.8 287.2l0.6 0.9M240.1 291.8l0.9 0.7M221.8 289.6l0.9 0.6M224.7 296.7l-1.0 0.4M244.3 286.1l0.3 1.1M246.4 288.8l-0.8 0.7M229.9 294.6l-0.9 0.6M229.3 278.2l-0.7 0.8M232.2 291.8l1.0 0.5M225.6 296.9l0.9 0.6M226.0 290.0l0.3 1.1M224.2 281.0l1.0 0.5" stroke="#9c4a40" stroke-width="1.25"/><path d="M235.1 286.8l-1.1 0.3M234.8 291.9l0.7 0.8M230.7 275.8l0.9 0.7M237.3 300.8l0.5 1.0M243.6 282.1l-1.0 0.4M252.3 287.8l1.1 0.2M230.2 285.5l-1.1 0.1M248.1 296.7l-0.1 1.1M236.9 276.3l0.0 1.1M235.0 300.5l-0.5 1.0M241.7 287.9l0.4 1.0M225.1 283.9l1.1 0.1M239.3 297.0l-0.7 0.8M245.1 296.8l0.4 1.0M228.9 284.9l0.8 0.7M231.9 292.3l1.0 0.5M229.3 297.4l-1.1 0.1M232.9 285.6l-1.1 0.3M237.5 287.9l1.0 0.4M231.9 280.6l-1.0 0.4" stroke="#7a3028" stroke-width="1.25"/><path d="M229.4 288.6l0.4 1.0M235.9 298.1l-1.0 0.5M248.2 279.4l-0.8 0.7M230.7 288.7l-0.7 0.8M228.7 301.9l0.7 0.9M244.0 301.9l-0.7 0.8M237.2 303.1l-1.1 0.3M232.2 276.1l-0.9 0.6M240.1 294.9l-0.2 1.1M239.4 276.3l-0.8 0.8M244.8 302.1l-1.1 0.3M227.4 284.0l-0.6 0.9M237.9 284.1l-0.6 0.9M234.0 284.1l-0.1 1.1M241.8 304.1l0.7 0.9M234.3 286.0l0.4 1.0M237.9 303.9l-0.6 0.9" stroke="#b86c60" stroke-width="1.25"/><path d="M246.3 302.3l-0.9 0.6M247.2 292.1l1.1 0.2" stroke="#a0aa3c" stroke-width="1.25"/><path d="M233.9 282.5l0.4 1.0M246.2 284.8l-0.4 1.0M234.4 301.6l-1.0 0.3M244.2 302.5l-0.2 1.1" stroke="#a4b03c" stroke-width="1.25"/><path d="M244.1 300.1l-0.3 1.1M242.0 303.8l-0.5 1.0M238.2 287.2l0.1 1.1M240.2 296.5l-0.9 0.6M228.6 295.5l0.9 0.6M238.7 275.4l-0.1 1.1M239.4 287.2l1.0 0.4M247.6 294.6l-0.7 0.9M228.8 279.1l0.8 0.7M249.7 280.6l0.8 0.7M231.0 275.7l0.3 1.1M226.6 295.5l1.0 0.4M238.1 303.1l0.9 0.6M240.0 288.0l-0.0 1.1M234.0 282.8l0.6 0.9M245.8 297.3l-0.7 0.9M231.4 286.8l-0.7 0.8M223.8 294.2l-1.1 0.3M242.8 282.1l0.6 0.9M228.0 292.7l-1.1 0.1M238.4 285.3l0.3 1.1M225.4 294.4l0.8 0.7" stroke="#a85a50" stroke-width="1.25"/><path d="M240.9 278.7l0.1 1.1" stroke="#98a834" stroke-width="1.25"/><path d="M243.6 274.8l0.4 1.0M248.2 279.0l0.2 1.1M239.3 296.5l0.9 0.7M242.1 299.0l-0.4 1.0M237.4 287.7l-0.5 1.0" stroke="#b0bc48" stroke-width="1.25"/><path d="M241.6 296.3l0.5 1.0M234.2 296.7l-0.5 1.0M244.7 281.2l-0.9 0.6" stroke="#b8bc50" stroke-width="1.25"/><path d="M233.7 302.4l-0.6 0.9M227.9 292.1l1.1 0.3M241.0 297.9l1.0 0.5" stroke="#8c9c30" stroke-width="1.25"/></g>
<circle cx="96.3" cy="337.8" r="20.6" fill="#1e1e1e" stroke="#484848" stroke-width="0.8"/><circle cx="96.3" cy="337.8" r="19.2" fill="url(#plate)"/><g filter="url(#bl2)" stroke-linecap="round"><path d="M83.5 333.2l1.1 0.0M88.2 345.2l1.1 0.1M96.6 328.7l0.6 0.9M85.2 338.1l-1.0 0.5M90.5 351.5l0.4 1.0M93.4 329.7l-0.3 1.1M91.7 345.8l0.7 0.9M93.7 327.5l1.0 0.5M92.3 330.2l1.0 0.4M104.0 340.9l0.5 1.0M88.9 335.8l-1.0 0.4M91.0 336.4l1.0 0.5M93.7 351.3l0.9 0.7M84.1 332.1l1.0 0.5M101.2 348.9l0.8 0.7M93.7 327.2l0.8 0.8M91.4 326.5l1.1 0.3M105.9 335.8l0.6 0.9M91.6 328.8l-0.5 1.0M101.1 330.1l-0.1 1.1M106.0 348.8l-1.0 0.6M101.5 335.3l0.2 1.1M109.8 331.6l0.1 1.1M91.1 350.5l-1.0 0.4M87.8 331.4l0.1 1.1M85.5 327.7l1.0 0.5M95.4 352.3l-1.1 0.3M98.1 328.1l-0.2 1.1M106.5 336.6l-0.3 1.1M86.1 328.5l1.0 0.5M102.1 333.0l0.0 1.1M86.6 346.1l0.9 0.6M96.7 324.8l0.8 0.8M109.0 338.8l0.7 0.9M110.9 342.0l-0.7 0.9M81.9 334.8l0.4 1.0M100.2 347.8l-0.6 0.9M80.9 333.9l0.9 0.6M107.9 343.2l-0.5 1.0M108.6 342.9l-0.9 0.6M86.1 340.2l-0.9 0.6M94.2 346.5l0.5 1.0M104.9 335.5l0.3 1.1M88.9 346.2l-0.8 0.7M84.0 333.5l-0.4 1.0M100.6 347.8l-1.0 0.5M98.8 350.4l-0.4 1.0M100.2 333.4l1.1 0.1M84.9 330.0l-0.1 1.1M102.5 341.5l0.2 1.1M105.8 344.5l-0.6 0.9M99.5 329.5l-0.8 0.8M85.1 326.9l0.7 0.9M107.2 332.4l0.8 0.8M92.6 338.0l-0.9 0.7M102.8 336.7l1.1 0.0M99.3 349.5l0.6 0.9M85.5 334.6l0.1 1.1M102.5 345.9l-1.1 0.2M108.7 330.9l0.7 0.8M96.0 338.4l-0.6 0.9M101.9 327.8l-0.4 1.0M85.2 331.1l1.1 0.2M82.9 334.5l1.0 0.5M103.6 335.7l0.5 1.0M96.7 339.2l-0.9 0.7M87.2 340.5l-1.1 0.3M91.1 350.1l1.0 0.5M102.6 348.4l-0.5 1.0M102.4 327.4l0.8 0.7M89.5 338.9l-0.6 0.9M102.4 329.6l-0.9 0.7M90.5 350.8l0.8 0.7M95.6 337.9l-1.1 0.2M92.2 322.1l0.3 1.1M88.2 346.8l-0.5 1.0M87.3 342.6l-0.7 0.9M88.5 333.8l0.6 0.9M86.6 325.1l0.9 0.6M98.9 337.5l-0.7 0.8M101.5 346.8l-0.8 0.7M99.2 349.7l0.5 1.0M95.0 332.9l-0.7 0.9M99.6 345.3l-1.1 0.1M89.1 348.9l-1.0 0.3M85.7 333.3l0.1 1.1M89.6 350.9l-0.8 0.8M102.6 350.2l0.9 0.6M86.0 335.7l-0.5 1.0M84.1 327.1l0.4 1.0M107.7 346.2l1.0 0.4M84.8 340.1l-0.7 0.8M89.1 324.1l0.6 0.9M97.0 332.0l0.9 0.6M87.4 332.1l-1.1 0.2M91.2 341.6l0.6 0.9M90.1 331.9l1.1 0.0M110.8 334.2l-0.4 1.0M99.8 336.9l-0.5 1.0M87.5 324.2l0.9 0.6M81.6 334.4l-1.1 0.3M86.5 339.0l-0.1 1.1M94.5 348.2l-0.8 0.8M95.8 349.1l-0.5 1.0M81.4 338.2l-0.3 1.1M101.7 337.1l-1.1 0.0M97.5 345.8l-0.8 0.7M108.4 334.9l1.0 0.4M94.1 327.1l1.0 0.5M95.5 336.5l-0.4 1.0M94.4 338.9l-1.0 0.5M95.8 333.8l-1.0 0.5M94.4 321.0l0.4 1.0M95.7 338.8l0.0 1.1M85.0 333.0l0.8 0.8M90.8 330.4l0.9 0.7M101.7 336.1l0.4 1.0M98.3 351.0l1.1 0.0M98.1 330.0l1.0 0.4M81.0 333.1l1.1 0.2M107.3 342.9l1.1 0.3M88.7 336.1l-0.1 1.1M84.4 341.4l0.1 1.1M92.2 351.3l1.0 0.4M94.1 338.9l0.8 0.8M84.7 336.3l0.9 0.7M90.7 345.7l1.0 0.5M82.9 344.0l0.7 0.8M91.7 324.6l0.7 0.8M84.5 341.4l1.0 0.5M88.5 349.0l0.3 1.0M92.1 328.9l1.1 0.1M87.3 334.0l1.1 0.3M85.6 349.1l1.1 0.2M85.8 333.8l-0.6 0.9M84.5 341.1l0.4 1.0M103.6 328.2l0.8 0.8M90.5 349.4l0.6 0.9M87.4 346.4l1.1 0.0M83.6 343.1l-0.2 1.1" stroke="#66702a" stroke-width="2.1"/><path d="M83.5 333.2l1.1 0.0M85.2 338.1l-1.0 0.5M109.8 331.6l0.1 1.1M87.8 331.4l0.1 1.1M109.0 338.8l0.7 0.9M110.9 342.0l-0.7 0.9M100.2 347.8l-0.6 0.9M80.9 333.9l0.9 0.6M107.9 343.2l-0.5 1.0M88.9 346.2l-0.8 0.7M100.6 347.8l-1.0 0.5M99.5 329.5l-0.8 0.8M102.8 336.7l1.1 0.0M85.5 334.6l0.1 1.1M82.9 334.5l1.0 0.5M96.7 339.2l-0.9 0.7M91.1 350.1l1.0 0.5M94.1 327.1l1.0 0.5M84.4 341.4l0.1 1.1M82.9 344.0l0.7 0.8M87.4 346.4l1.1 0.0" stroke="#b0bc48" stroke-width="1.25"/><path d="M88.2 345.2l1.1 0.1M93.4 329.7l-0.3 1.1M91.6 328.8l-0.5 1.0M98.1 328.1l-0.2 1.1M86.1 328.5l1.0 0.5M108.7 330.9l0.7 0.8M101.9 327.8l-0.4 1.0M103.6 335.7l0.5 1.0M92.2 322.1l0.3 1.1M88.2 346.8l-0.5 1.0M86.6 325.1l0.9 0.6M81.6 334.4l-1.1 0.3M86.5 339.0l-0.1 1.1M108.4 334.9l1.0 0.4M107.3 342.9l1.1 0.3M85.8 333.8l-0.6 0.9M84.5 341.1l0.4 1.0M90.5 349.4l0.6 0.9" stroke="#a4b03c" stroke-width="1.25"/><path d="M96.6 328.7l0.6 0.9M91.7 345.8l0.7 0.9M88.9 335.8l-1.0 0.4M91.0 336.4l1.0 0.5M91.4 326.5l1.1 0.3M86.6 346.1l0.9 0.6M94.2 346.5l0.5 1.0M84.0 333.5l-0.4 1.0M105.8 344.5l-0.6 0.9M92.6 338.0l-0.9 0.7M85.2 331.1l1.1 0.2M95.6 337.9l-1.1 0.2M89.1 348.9l-1.0 0.3M85.7 333.3l0.1 1.1M84.1 327.1l0.4 1.0M110.8 334.2l-0.4 1.0M95.8 349.1l-0.5 1.0M94.4 338.9l-1.0 0.5M98.3 351.0l1.1 0.0M94.1 338.9l0.8 0.8M84.7 336.3l0.9 0.7M87.3 334.0l1.1 0.3" stroke="#b8bc50" stroke-width="1.25"/><path d="M90.5 351.5l0.4 1.0M93.7 327.5l1.0 0.5M84.1 332.1l1.0 0.5M105.9 335.8l0.6 0.9M101.5 335.3l0.2 1.1M91.1 350.5l-1.0 0.4M106.5 336.6l-0.3 1.1M102.1 333.0l0.0 1.1M96.7 324.8l0.8 0.8M96.0 338.4l-0.6 0.9M101.5 346.8l-0.8 0.7M99.2 349.7l0.5 1.0M99.6 345.3l-1.1 0.1M91.2 341.6l0.6 0.9M85.0 333.0l0.8 0.8M90.7 345.7l1.0 0.5M91.7 324.6l0.7 0.8M88.5 349.0l0.3 1.0M85.6 349.1l1.1 0.2M103.6 328.2l0.8 0.8" stroke="#98a834" stroke-width="1.25"/><path d="M92.3 330.2l1.0 0.4M101.2 348.9l0.8 0.7M93.7 327.2l0.8 0.8M101.1 330.1l-0.1 1.1M106.0 348.8l-1.0 0.6M81.9 334.8l0.4 1.0M108.6 342.9l-0.9 0.6M98.8 350.4l-0.4 1.0M100.2 333.4l1.1 0.1M84.9 330.0l-0.1 1.1M102.5 341.5l0.2 1.1M85.1 326.9l0.7 0.9M99.3 349.5l0.6 0.9M102.5 345.9l-1.1 0.2M87.2 340.5l-1.1 0.3M89.5 338.9l-0.6 0.9M90.5 350.8l0.8 0.7M98.9 337.5l-0.7 0.8M102.6 350.2l0.9 0.6M86.0 335.7l-0.5 1.0M84.8 340.1l-0.7 0.8M90.1 331.9l1.1 0.0M101.7 337.1l-1.1 0.0M97.5 345.8l-0.8 0.7M95.5 336.5l-0.4 1.0M95.8 333.8l-1.0 0.5M95.7 338.8l0.0 1.1M90.8 330.4l0.9 0.7M81.0 333.1l1.1 0.2M92.1 328.9l1.1 0.1" stroke="#a0aa3c" stroke-width="1.25"/><path d="M104.0 340.9l0.5 1.0M93.7 351.3l0.9 0.7M85.5 327.7l1.0 0.5M95.4 352.3l-1.1 0.3M86.1 340.2l-0.9 0.6M104.9 335.5l0.3 1.1M107.2 332.4l0.8 0.8M102.6 348.4l-0.5 1.0M102.4 327.4l0.8 0.7M102.4 329.6l-0.9 0.7M87.3 342.6l-0.7 0.9M88.5 333.8l0.6 0.9M95.0 332.9l-0.7 0.9M89.6 350.9l-0.8 0.8M107.7 346.2l1.0 0.4M89.1 324.1l0.6 0.9M97.0 332.0l0.9 0.6M87.4 332.1l-1.1 0.2M99.8 336.9l-0.5 1.0M87.5 324.2l0.9 0.6M94.5 348.2l-0.8 0.8M81.4 338.2l-0.3 1.1M94.4 321.0l0.4 1.0M101.7 336.1l0.4 1.0M98.1 330.0l1.0 0.4M88.7 336.1l-0.1 1.1M92.2 351.3l1.0 0.4M84.5 341.4l1.0 0.5M83.6 343.1l-0.2 1.1" stroke="#8c9c30" stroke-width="1.25"/></g>
<circle cx="143.5" cy="337.8" r="20.6" fill="#1e1e1e" stroke="#484848" stroke-width="0.8"/><circle cx="143.5" cy="337.8" r="19.2" fill="url(#plate)"/><g filter="url(#bl2)" stroke-linecap="round"><path d="M134.5 325.3l-0.2 1.1M130.7 344.1l-0.8 0.7M139.7 335.9l0.3 1.1M140.9 325.4l0.0 1.1M152.0 329.4l-0.6 0.9M147.8 346.5l1.1 0.1M149.6 341.3l-1.1 0.1M140.9 351.1l0.7 0.8M129.4 334.2l-1.1 0.3M154.9 326.1l-0.8 0.7M145.4 324.1l-1.1 0.1M155.8 334.7l-0.1 1.1M132.8 346.7l0.9 0.7M141.4 340.1l0.8 0.8M152.3 348.1l-0.6 0.9M142.4 351.4l1.0 0.5M137.1 323.9l-1.1 0.2M130.2 336.4l1.0 0.4M153.3 341.5l0.8 0.8M141.7 322.4l-0.9 0.6M149.4 326.0l1.1 0.1M134.5 329.1l0.5 1.0M138.7 330.3l0.3 1.1M154.1 342.9l-1.1 0.3M155.7 328.8l1.0 0.4M150.7 343.3l-0.7 0.8M155.1 326.3l0.5 1.0M153.4 335.1l0.6 0.9M139.2 336.3l0.5 1.0M146.9 336.6l-0.3 1.1M145.0 331.8l-1.0 0.4M144.6 350.5l-0.0 1.1M158.8 336.9l-1.1 0.1M146.0 347.1l0.9 0.7M140.2 334.8l0.9 0.6M151.0 329.6l0.9 0.6M149.7 349.1l-0.6 0.9M132.7 325.7l0.7 0.9M143.1 344.9l1.0 0.5M131.7 338.8l-0.7 0.9M148.1 339.8l0.9 0.6M132.1 341.8l0.9 0.6M134.7 324.4l0.6 0.9M140.7 351.1l0.8 0.8M152.6 348.1l-1.1 0.1M145.0 327.7l1.1 0.1M140.4 333.9l1.0 0.4M139.5 338.6l0.9 0.7M144.6 352.1l-1.1 0.3M148.3 328.2l1.1 0.3M131.9 345.2l-0.8 0.7M129.7 337.4l0.1 1.1M137.6 348.8l-1.1 0.1M133.7 330.4l-0.7 0.8M153.3 331.5l1.0 0.4M156.0 326.9l-0.8 0.7M144.8 328.6l1.0 0.5M130.1 332.4l1.0 0.4M139.7 326.8l-0.8 0.7M145.2 338.3l-0.7 0.9M133.8 346.2l-1.0 0.4M151.6 326.6l0.9 0.7M132.0 345.3l-0.6 0.9M153.5 335.9l1.1 0.2M138.1 323.9l0.7 0.9M135.5 335.2l-0.9 0.6M139.8 333.2l-1.1 0.1M153.7 344.9l-1.0 0.4M151.7 346.1l1.0 0.5M129.0 340.3l0.4 1.0M136.1 350.5l0.1 1.1M143.7 330.2l-0.7 0.8M146.0 338.0l0.5 1.0M134.9 326.8l-0.8 0.7" stroke="#66702a" stroke-width="2.1"/><path d="M140.9 327.9l-0.3 1.1M133.9 327.4l0.9 0.6M145.1 341.7l-0.6 0.9M137.3 337.1l-1.1 0.3M155.4 327.0l-0.7 0.9M152.5 332.5l-0.6 0.9M152.9 344.6l-0.8 0.8M150.8 340.9l-0.7 0.8M136.3 326.9l-0.9 0.6M134.6 343.8l1.1 0.3M157.0 342.7l-0.3 1.1M133.8 343.0l1.1 0.2M143.5 327.2l-0.3 1.1M140.9 328.0l1.0 0.4M132.7 327.0l-0.3 1.1M144.6 333.7l-0.9 0.6M158.2 337.2l0.6 0.9M144.1 347.6l1.0 0.5M156.8 332.1l0.9 0.7M129.4 339.8l-0.4 1.0M155.1 329.2l-0.7 0.9M155.8 335.6l-0.2 1.1M138.5 350.9l-0.7 0.8M136.6 336.1l0.1 1.1M138.7 329.8l1.0 0.5M135.7 335.3l-0.8 0.8M144.1 326.3l-0.9 0.7M153.9 343.4l1.0 0.5M138.2 337.1l-0.7 0.9M142.5 321.3l-0.7 0.9M141.2 322.0l-1.1 0.2M136.6 344.2l0.5 1.0M147.8 327.5l1.1 0.3M130.3 343.4l0.1 1.1M142.1 328.5l0.8 0.7M147.4 331.1l-1.0 0.4M145.6 352.3l-0.1 1.1M147.8 332.2l0.3 1.1M152.6 340.4l-0.3 1.0M149.7 350.7l-0.9 0.6M143.1 345.5l0.1 1.1M143.6 347.2l-1.1 0.2M144.1 337.3l-1.1 0.0M139.0 324.4l1.0 0.5M132.9 347.6l-0.7 0.8M139.6 342.3l-1.0 0.5M144.3 345.6l1.0 0.4M134.8 332.8l-0.2 1.1M149.1 336.4l-0.6 0.9M140.1 344.2l1.1 0.0M145.8 343.8l1.1 0.3M134.3 344.2l0.8 0.8M143.7 333.4l0.5 1.0M134.9 330.9l1.0 0.4M150.6 330.3l0.5 1.0M138.9 335.6l1.1 0.2M143.6 345.2l0.1 1.1M156.0 335.3l0.5 1.0M135.9 334.5l-1.0 0.5M147.0 321.4l-0.0 1.1M129.7 334.7l0.2 1.1M139.6 351.4l0.9 0.7M145.2 349.4l-0.2 1.1M145.1 324.2l-1.1 0.2M140.8 343.0l-0.1 1.1M144.9 327.4l-1.1 0.3" stroke="#58241e" stroke-width="2.1"/><path d="M140.9 327.9l-0.3 1.1M150.8 340.9l-0.7 0.8M157.0 342.7l-0.3 1.1M140.9 328.0l1.0 0.4M158.2 337.2l0.6 0.9M138.5 350.9l-0.7 0.8M152.6 340.4l-0.3 1.0M145.8 343.8l1.1 0.3M147.0 321.4l-0.0 1.1M139.6 351.4l0.9 0.7M140.8 343.0l-0.1 1.1" stroke="#8c3830" stroke-width="1.25"/><path d="M133.9 327.4l0.9 0.6M136.3 326.9l-0.9 0.6M134.6 343.8l1.1 0.3M143.5 327.2l-0.3 1.1M138.2 337.1l-0.7 0.9M141.2 322.0l-1.1 0.2M143.6 347.2l-1.1 0.2M144.1 337.3l-1.1 0.0M140.1 344.2l1.1 0.0M145.1 324.2l-1.1 0.2M144.9 327.4l-1.1 0.3" stroke="#904038" stroke-width="1.25"/><path d="M134.5 325.3l-0.2 1.1M130.7 344.1l-0.8 0.7M139.7 335.9l0.3 1.1M155.8 334.7l-0.1 1.1M137.1 323.9l-1.1 0.2M153.4 335.1l0.6 0.9M158.8 336.9l-1.1 0.1M132.7 325.7l0.7 0.9M148.1 339.8l0.9 0.6M132.1 341.8l0.9 0.6M134.7 324.4l0.6 0.9M133.7 330.4l-0.7 0.8M144.8 328.6l1.0 0.5M132.0 345.3l-0.6 0.9M138.1 323.9l0.7 0.9" stroke="#8c9c30" stroke-width="1.25"/><path d="M145.1 341.7l-0.6 0.9M156.8 332.1l0.9 0.7M135.7 335.3l-0.8 0.8M144.1 326.3l-0.9 0.7M142.5 321.3l-0.7 0.9M142.1 328.5l0.8 0.7M145.6 352.3l-0.1 1.1M143.1 345.5l0.1 1.1M139.0 324.4l1.0 0.5M144.3 345.6l1.0 0.4" stroke="#9c4a40" stroke-width="1.25"/><path d="M137.3 337.1l-1.1 0.3M152.5 332.5l-0.6 0.9M144.6 333.7l-0.9 0.6M144.1 347.6l1.0 0.5M155.8 335.6l-0.2 1.1M153.9 343.4l1.0 0.5M139.6 342.3l-1.0 0.5M134.8 332.8l-0.2 1.1M149.1 336.4l-0.6 0.9M134.3 344.2l0.8 0.8M143.7 333.4l0.5 1.0M138.9 335.6l1.1 0.2" stroke="#7a3028" stroke-width="1.25"/><path d="M140.9 325.4l0.0 1.1M130.2 336.4l1.0 0.4M141.7 322.4l-0.9 0.6M134.5 329.1l0.5 1.0M155.7 328.8l1.0 0.4M155.1 326.3l0.5 1.0M139.2 336.3l0.5 1.0M144.6 350.5l-0.0 1.1M131.7 338.8l-0.7 0.9M140.4 333.9l1.0 0.4M144.6 352.1l-1.1 0.3M148.3 328.2l1.1 0.3M135.5 335.2l-0.9 0.6M139.8 333.2l-1.1 0.1" stroke="#b0bc48" stroke-width="1.25"/><path d="M155.4 327.0l-0.7 0.9M133.8 343.0l1.1 0.2M130.3 343.4l0.1 1.1M147.4 331.1l-1.0 0.4M149.7 350.7l-0.9 0.6M132.9 347.6l-0.7 0.8M156.0 335.3l0.5 1.0M129.7 334.7l0.2 1.1" stroke="#b86c60" stroke-width="1.25"/><path d="M152.0 329.4l-0.6 0.9M129.4 334.2l-1.1 0.3M132.8 346.7l0.9 0.7M152.3 348.1l-0.6 0.9M153.3 341.5l0.8 0.8M138.7 330.3l0.3 1.1M154.1 342.9l-1.1 0.3M146.0 347.1l0.9 0.7M137.6 348.8l-1.1 0.1M153.3 331.5l1.0 0.4M156.0 326.9l-0.8 0.7M145.2 338.3l-0.7 0.9M133.8 346.2l-1.0 0.4M153.5 335.9l1.1 0.2M129.0 340.3l0.4 1.0M146.0 338.0l0.5 1.0" stroke="#b8bc50" stroke-width="1.25"/><path d="M147.8 346.5l1.1 0.1M145.4 324.1l-1.1 0.1M141.4 340.1l0.8 0.8M150.7 343.3l-0.7 0.8M146.9 336.6l-0.3 1.1M152.6 348.1l-1.1 0.1M131.9 345.2l-0.8 0.7M136.1 350.5l0.1 1.1" stroke="#a0aa3c" stroke-width="1.25"/><path d="M149.6 341.3l-1.1 0.1M140.9 351.1l0.7 0.8M154.9 326.1l-0.8 0.7M142.4 351.4l1.0 0.5M140.2 334.8l0.9 0.6M151.0 329.6l0.9 0.6M140.7 351.1l0.8 0.8M129.7 337.4l0.1 1.1M130.1 332.4l1.0 0.4M139.7 326.8l-0.8 0.7M151.6 326.6l0.9 0.7M153.7 344.9l-1.0 0.4M151.7 346.1l1.0 0.5M143.7 330.2l-0.7 0.8" stroke="#98a834" stroke-width="1.25"/><path d="M152.9 344.6l-0.8 0.8M132.7 327.0l-0.3 1.1M129.4 339.8l-0.4 1.0M155.1 329.2l-0.7 0.9M136.6 336.1l0.1 1.1M138.7 329.8l1.0 0.5M136.6 344.2l0.5 1.0M147.8 327.5l1.1 0.3M147.8 332.2l0.3 1.1M134.9 330.9l1.0 0.4M150.6 330.3l0.5 1.0M143.6 345.2l0.1 1.1M135.9 334.5l-1.0 0.5M145.2 349.4l-0.2 1.1" stroke="#a85a50" stroke-width="1.25"/><path d="M149.4 326.0l1.1 0.1M145.0 331.8l-1.0 0.4M149.7 349.1l-0.6 0.9M143.1 344.9l1.0 0.5M145.0 327.7l1.1 0.1M139.5 338.6l0.9 0.7M134.9 326.8l-0.8 0.7" stroke="#a4b03c" stroke-width="1.25"/></g>
<circle cx="190.6" cy="337.8" r="20.6" fill="#1e1e1e" stroke="#484848" stroke-width="0.8"/><circle cx="190.6" cy="337.8" r="19.2" fill="url(#plate)"/><g filter="url(#bl2)" stroke-linecap="round"><path d="M197.3 337.1l1.1 0.1M186.0 331.4l-1.1 0.3M202.8 333.1l-0.7 0.9M195.4 338.7l-0.5 1.0M200.7 336.1l-0.9 0.6M192.0 346.9l1.1 0.1M193.6 328.2l0.4 1.0M197.3 340.5l-0.5 1.0M187.3 351.9l1.1 0.0M201.3 335.9l0.9 0.7M178.9 345.4l1.0 0.4M184.3 329.4l-0.3 1.1M203.2 328.5l0.9 0.6M204.0 332.2l1.1 0.1M186.7 347.5l-0.6 0.9M192.0 329.7l-0.5 1.0M202.0 348.5l-1.1 0.0M185.7 341.1l1.1 0.3M203.6 342.8l-1.1 0.1M185.7 348.3l-0.1 1.1M179.8 346.5l-0.8 0.7M188.2 346.1l0.9 0.6M189.8 335.9l0.3 1.0M177.4 340.9l-0.8 0.7M187.3 324.7l-0.7 0.9M177.6 344.7l-1.1 0.0M196.3 350.4l1.0 0.4M197.0 322.3l-0.2 1.1M182.8 344.1l-0.9 0.7M197.9 326.9l-0.6 0.9M197.4 342.2l1.0 0.5" stroke="#66702a" stroke-width="2.1"/><path d="M190.5 324.2l0.5 1.0M181.1 328.4l0.1 1.1M188.3 345.7l-0.1 1.1M202.8 341.0l1.0 0.4M202.0 344.1l0.4 1.0M184.4 323.8l-1.1 0.2M200.6 346.2l0.5 1.0M195.4 328.8l-0.4 1.0M195.8 325.3l-0.2 1.1M187.4 330.0l1.0 0.4M177.3 335.1l0.1 1.1M192.9 335.1l0.1 1.1M188.8 350.5l0.5 1.0M203.8 335.2l-0.2 1.1M194.5 336.5l-0.5 1.0M194.5 336.1l-0.6 0.9M197.3 323.1l-0.9 0.7M191.5 337.6l0.9 0.6M204.1 340.4l0.2 1.1M189.8 324.2l-0.8 0.7M184.8 325.0l1.0 0.5M195.8 343.9l-0.7 0.8M181.8 340.1l1.0 0.4M195.3 325.0l1.1 0.2M188.9 323.2l0.7 0.8M190.5 333.7l-0.6 0.9M204.6 331.0l-1.1 0.1M198.1 325.4l-1.0 0.5M192.6 348.1l0.9 0.6M192.6 326.8l-0.5 1.0M197.0 325.8l0.4 1.0M191.5 330.3l1.0 0.5M194.9 348.9l-1.1 0.3M188.2 329.0l-1.1 0.3M194.2 336.7l1.1 0.3M200.0 331.8l-1.0 0.4M177.9 330.3l-0.9 0.7M195.0 337.4l-0.1 1.1M193.9 326.4l-1.0 0.4M181.6 337.0l0.1 1.1M184.7 327.3l1.1 0.3M174.9 337.5l0.6 0.9M182.4 329.0l-1.0 0.5M178.3 334.5l1.1 0.1M187.6 336.6l0.0 1.1M183.1 324.8l1.1 0.3M203.5 338.5l-1.0 0.5M184.1 349.0l-0.3 1.0M199.2 327.4l-0.8 0.8M189.2 341.2l-1.0 0.3M184.3 331.1l-0.4 1.0M192.1 321.7l-0.8 0.8M201.8 341.4l0.3 1.0M188.0 345.9l0.3 1.1M197.7 322.8l0.2 1.1M182.3 349.1l0.1 1.1M178.2 344.6l1.1 0.1M185.9 322.6l-0.3 1.1M206.0 336.1l-1.0 0.4M182.6 332.4l-1.1 0.3M199.4 340.2l1.0 0.5M178.9 336.9l-0.9 0.6M188.9 323.5l1.0 0.5M189.2 340.8l-0.3 1.1M193.5 349.2l-1.1 0.2M177.0 328.4l0.3 1.1M185.1 346.4l-0.9 0.6M193.0 332.4l0.4 1.0M191.9 339.4l0.7 0.8M203.1 344.2l-1.0 0.5M176.6 332.1l-0.2 1.1M184.9 339.5l-1.1 0.2M183.0 326.0l-1.1 0.0M188.8 338.0l1.1 0.1M193.5 341.2l0.1 1.1M184.4 324.9l-0.4 1.0M177.0 338.7l-0.7 0.8M181.8 328.4l0.9 0.7M178.3 328.3l1.1 0.2M179.0 346.5l-1.0 0.5M196.4 344.0l1.1 0.3M195.7 336.2l-1.1 0.2M184.6 335.8l0.9 0.6M198.0 338.4l-0.3 1.1M182.1 331.0l-1.0 0.4M189.3 340.2l1.0 0.4M178.6 346.5l0.1 1.1M182.8 335.2l1.0 0.4M198.8 325.9l-1.1 0.3M189.5 349.3l-1.0 0.4M183.1 331.0l0.9 0.7M187.8 332.7l0.6 0.9M205.3 342.4l-0.5 1.0M186.8 321.9l0.9 0.7M202.0 346.9l0.6 0.9M201.9 329.3l0.7 0.9M184.6 324.0l0.6 1.0M177.4 335.7l-1.1 0.2M176.3 332.0l-1.1 0.1M194.4 343.0l-0.7 0.9M196.1 349.5l1.0 0.4M182.8 348.5l0.5 1.0M202.9 344.2l0.6 0.9M200.5 325.4l-0.6 0.9M183.9 325.6l1.1 0.3M203.9 335.9l-1.0 0.4M183.2 331.2l0.9 0.6M188.7 350.8l0.7 0.9M198.9 335.4l-0.8 0.7" stroke="#58241e" stroke-width="2.1"/><path d="M190.5 324.2l0.5 1.0M202.0 344.1l0.4 1.0M197.3 323.1l-0.9 0.7M195.3 325.0l1.1 0.2M188.2 329.0l-1.1 0.3M195.0 337.4l-0.1 1.1M183.1 324.8l1.1 0.3M199.2 327.4l-0.8 0.8M192.1 321.7l-0.8 0.8M188.9 323.5l1.0 0.5M183.0 326.0l-1.1 0.0M182.8 335.2l1.0 0.4M184.6 324.0l0.6 1.0M177.4 335.7l-1.1 0.2M182.8 348.5l0.5 1.0M183.2 331.2l0.9 0.6" stroke="#9c4a40" stroke-width="1.25"/><path d="M181.1 328.4l0.1 1.1M192.9 335.1l0.1 1.1M189.8 324.2l-0.8 0.7M195.8 343.9l-0.7 0.8M204.6 331.0l-1.1 0.1M191.5 330.3l1.0 0.5M193.9 326.4l-1.0 0.4M184.1 349.0l-0.3 1.0M189.2 341.2l-1.0 0.3M201.8 341.4l0.3 1.0M188.0 345.9l0.3 1.1M193.5 349.2l-1.1 0.2M177.0 328.4l0.3 1.1M193.0 332.4l0.4 1.0M191.9 339.4l0.7 0.8M177.0 338.7l-0.7 0.8M181.8 328.4l0.9 0.7M178.3 328.3l1.1 0.2M183.1 331.0l0.9 0.7M187.8 332.7l0.6 0.9M202.0 346.9l0.6 0.9" stroke="#8c3830" stroke-width="1.25"/><path d="M188.3 345.7l-0.1 1.1M184.4 323.8l-1.1 0.2M195.8 325.3l-0.2 1.1M188.8 350.5l0.5 1.0M194.5 336.5l-0.5 1.0M194.5 336.1l-0.6 0.9M204.1 340.4l0.2 1.1M181.8 340.1l1.0 0.4M192.6 348.1l0.9 0.6M194.9 348.9l-1.1 0.3M200.0 331.8l-1.0 0.4M178.3 334.5l1.1 0.1M182.3 349.1l0.1 1.1M199.4 340.2l1.0 0.5M185.1 346.4l-0.9 0.6M203.1 344.2l-1.0 0.5M188.8 338.0l1.1 0.1M196.4 344.0l1.1 0.3M195.7 336.2l-1.1 0.2M198.0 338.4l-0.3 1.1M178.6 346.5l0.1 1.1M202.9 344.2l0.6 0.9M188.7 350.8l0.7 0.9" stroke="#904038" stroke-width="1.25"/><path d="M197.3 337.1l1.1 0.1M186.0 331.4l-1.1 0.3M195.4 338.7l-0.5 1.0M197.3 340.5l-0.5 1.0M186.7 347.5l-0.6 0.9M177.4 340.9l-0.8 0.7" stroke="#a0aa3c" stroke-width="1.25"/><path d="M202.8 341.0l1.0 0.4M195.4 328.8l-0.4 1.0M203.8 335.2l-0.2 1.1M191.5 337.6l0.9 0.6M184.8 325.0l1.0 0.5M192.6 326.8l-0.5 1.0M177.9 330.3l-0.9 0.7M184.7 327.3l1.1 0.3M174.9 337.5l0.6 0.9M187.6 336.6l0.0 1.1M189.2 340.8l-0.3 1.1M179.0 346.5l-1.0 0.5M198.8 325.9l-1.1 0.3M205.3 342.4l-0.5 1.0M203.9 335.9l-1.0 0.4" stroke="#b86c60" stroke-width="1.25"/><path d="M202.8 333.1l-0.7 0.9M203.2 328.5l0.9 0.6M204.0 332.2l1.1 0.1M179.8 346.5l-0.8 0.7M182.8 344.1l-0.9 0.7" stroke="#a4b03c" stroke-width="1.25"/><path d="M200.6 346.2l0.5 1.0M177.3 335.1l0.1 1.1M198.1 325.4l-1.0 0.5M194.2 336.7l1.1 0.3M203.5 338.5l-1.0 0.5M178.2 344.6l1.1 0.1M178.9 336.9l-0.9 0.6M184.9 339.5l-1.1 0.2M193.5 341.2l0.1 1.1M184.6 335.8l0.9 0.6M189.5 349.3l-1.0 0.4M186.8 321.9l0.9 0.7M201.9 329.3l0.7 0.9M200.5 325.4l-0.6 0.9M198.9 335.4l-0.8 0.7" stroke="#a85a50" stroke-width="1.25"/><path d="M187.4 330.0l1.0 0.4M188.9 323.2l0.7 0.8M190.5 333.7l-0.6 0.9M197.0 325.8l0.4 1.0M181.6 337.0l0.1 1.1M182.4 329.0l-1.0 0.5M184.3 331.1l-0.4 1.0M197.7 322.8l0.2 1.1M185.9 322.6l-0.3 1.1M206.0 336.1l-1.0 0.4M182.6 332.4l-1.1 0.3M176.6 332.1l-0.2 1.1M184.4 324.9l-0.4 1.0M182.1 331.0l-1.0 0.4M189.3 340.2l1.0 0.4M176.3 332.0l-1.1 0.1M194.4 343.0l-0.7 0.9M196.1 349.5l1.0 0.4M183.9 325.6l1.1 0.3" stroke="#7a3028" stroke-width="1.25"/><path d="M200.7 336.1l-0.9 0.6M184.3 329.4l-0.3 1.1M203.6 342.8l-1.1 0.1M185.7 348.3l-0.1 1.1M188.2 346.1l0.9 0.6" stroke="#8c9c30" stroke-width="1.25"/><path d="M192.0 346.9l1.1 0.1M193.6 328.2l0.4 1.0M189.8 335.9l0.3 1.0M187.3 324.7l-0.7 0.9M177.6 344.7l-1.1 0.0M197.9 326.9l-0.6 0.9" stroke="#98a834" stroke-width="1.25"/><path d="M187.3 351.9l1.1 0.0M192.0 329.7l-0.5 1.0M185.7 341.1l1.1 0.3M196.3 350.4l1.0 0.4M197.0 322.3l-0.2 1.1M197.4 342.2l1.0 0.5" stroke="#b8bc50" stroke-width="1.25"/><path d="M201.3 335.9l0.9 0.7M178.9 345.4l1.0 0.4M202.0 348.5l-1.1 0.0" stroke="#b0bc48" stroke-width="1.25"/></g>
<circle cx="237.4" cy="337.8" r="20.6" fill="#1e1e1e" stroke="#484848" stroke-width="0.8"/><circle cx="237.4" cy="337.8" r="19.2" fill="url(#plate)"/><g filter="url(#bl2)" stroke-linecap="round"><path d="M232.1 327.4l-0.2 1.1M243.8 329.6l-1.1 0.1M253.5 337.4l-1.1 0.0M243.2 339.5l-1.1 0.1M232.8 339.3l-0.3 1.1M235.4 328.1l-1.0 0.5M242.1 348.8l0.9 0.6M234.7 344.1l0.7 0.8M249.8 345.7l0.2 1.1M236.8 329.3l-0.3 1.1M224.3 340.7l-0.1 1.1M248.7 343.4l-0.9 0.6M253.3 335.1l-1.1 0.2M247.2 325.6l0.9 0.7M225.0 329.2l1.1 0.0M237.8 328.3l1.0 0.5" stroke="#66702a" stroke-width="2.1"/><path d="M246.5 346.6l-1.1 0.2M231.8 322.1l0.7 0.9M249.2 346.2l0.7 0.8M245.7 345.6l1.1 0.1M230.7 346.1l-0.6 0.9M237.9 343.3l0.4 1.0M225.3 330.9l-0.0 1.1M240.3 351.6l-0.7 0.9M232.8 327.7l1.0 0.4M236.8 338.9l1.0 0.5M238.3 336.1l1.1 0.0M238.6 347.5l0.0 1.1M232.9 342.2l-1.1 0.0M248.6 335.0l-0.2 1.1M234.5 347.1l-0.6 0.9M239.1 327.8l-0.5 1.0M234.8 330.1l-1.1 0.2M243.7 327.1l0.1 1.1M243.9 322.6l0.7 0.9M229.7 330.8l-0.5 1.0M247.9 335.7l0.4 1.0M241.9 327.1l-0.4 1.0M239.2 345.8l0.3 1.1M226.1 342.2l0.8 0.7M248.3 327.8l1.0 0.5M231.1 337.8l-0.9 0.6M224.6 337.5l0.4 1.0M235.4 340.0l-0.6 0.9M231.7 330.6l1.1 0.2M235.6 338.4l-0.5 1.0M249.0 333.7l-0.3 1.1M233.7 326.5l-1.0 0.3M236.5 350.6l-0.9 0.6M233.2 331.9l1.0 0.4M224.2 329.5l1.1 0.2M232.2 332.1l-0.9 0.6M246.5 333.8l-0.0 1.1M242.5 347.3l1.0 0.4M245.1 346.7l0.0 1.1M232.9 345.9l-0.1 1.1M253.0 335.5l-1.1 0.1M227.1 347.2l-0.1 1.1M230.4 348.3l0.8 0.8M231.6 345.8l0.4 1.0M237.7 331.8l0.3 1.1M246.7 345.4l-0.6 0.9M235.3 350.8l1.0 0.4M246.0 346.5l-0.3 1.0M244.3 339.8l0.6 0.9M250.3 340.9l-0.1 1.1M248.6 343.2l0.2 1.1M226.0 334.9l0.7 0.8M242.9 345.9l0.2 1.1M230.7 328.0l1.0 0.5M244.9 323.8l-0.2 1.1M242.4 351.7l-0.9 0.7M243.1 349.8l-1.1 0.2M251.9 331.4l-0.7 0.9M236.4 336.4l1.1 0.1M246.2 326.7l-1.1 0.3M235.8 336.4l-1.1 0.3M232.0 339.1l0.8 0.8M248.4 326.4l0.1 1.1M251.6 338.2l0.3 1.1M244.8 327.4l0.7 0.8M234.1 339.9l-0.2 1.1M252.2 342.4l-0.5 1.0M233.1 340.3l1.1 0.2M230.4 330.6l-1.0 0.4M231.3 338.7l-0.8 0.8M231.1 333.4l-0.5 1.0M246.0 331.0l0.7 0.9M233.1 337.2l0.2 1.1M225.1 338.7l1.1 0.1M222.1 337.0l1.0 0.5M228.3 337.9l1.0 0.5M234.4 332.3l1.1 0.1M247.1 334.0l-0.6 0.9M238.0 323.5l-0.9 0.6M249.7 334.6l1.1 0.2M222.8 341.1l1.0 0.5M236.3 330.5l1.0 0.4M243.5 338.6l1.1 0.3M252.3 337.0l-1.0 0.3M250.5 330.5l0.9 0.6M246.5 340.1l0.8 0.8M226.8 335.6l-0.3 1.1M233.2 337.1l-0.2 1.1M229.7 338.1l0.6 0.9M241.6 333.5l-1.0 0.3M229.3 329.7l-0.2 1.1M240.9 325.0l0.6 0.9M234.3 350.4l0.9 0.7M241.0 345.3l-1.1 0.1M233.1 323.4l0.6 0.9M234.7 351.6l-0.1 1.1M245.2 330.6l0.2 1.1M238.2 340.4l1.0 0.5M238.3 350.3l-0.3 1.1M243.2 348.2l0.2 1.1M241.6 332.8l-0.0 1.1M240.4 325.6l-0.5 1.0M231.8 330.8l-0.5 1.0M230.5 325.0l1.1 0.1M243.7 327.1l-0.9 0.7M245.7 337.6l-0.7 0.8M249.0 327.2l1.0 0.5M231.2 333.4l-0.2 1.1M236.1 339.8l-1.1 0.1M246.3 340.2l-0.9 0.6M233.7 328.4l1.0 0.4M240.0 338.4l-0.9 0.7M252.0 336.0l-0.8 0.7M229.5 348.3l1.1 0.2M228.9 331.2l-1.0 0.4M248.4 339.3l-0.6 0.9M235.2 326.3l-1.0 0.3M228.0 337.7l-0.2 1.1M223.9 343.1l0.1 1.1M246.7 341.1l0.5 1.0M243.4 348.6l-0.0 1.1M243.2 324.2l0.3 1.0M242.8 343.0l0.4 1.0M236.9 332.8l0.8 0.7" stroke="#58241e" stroke-width="2.1"/><path d="M246.5 346.6l-1.1 0.2M226.1 342.2l0.8 0.7M248.3 327.8l1.0 0.5M224.6 337.5l0.4 1.0M231.7 330.6l1.1 0.2M224.2 329.5l1.1 0.2M245.1 346.7l0.0 1.1M231.6 345.8l0.4 1.0M237.7 331.8l0.3 1.1M230.7 328.0l1.0 0.5M242.4 351.7l-0.9 0.7M246.0 331.0l0.7 0.9M223.9 343.1l0.1 1.1" stroke="#8c3830" stroke-width="1.25"/><path d="M232.1 327.4l-0.2 1.1M253.5 337.4l-1.1 0.0M236.8 329.3l-0.3 1.1M247.2 325.6l0.9 0.7" stroke="#98a834" stroke-width="1.25"/><path d="M231.8 322.1l0.7 0.9M245.7 345.6l1.1 0.1M230.7 346.1l-0.6 0.9M238.3 336.1l1.1 0.0M234.5 347.1l-0.6 0.9M243.7 327.1l0.1 1.1M226.0 334.9l0.7 0.8M235.8 336.4l-1.1 0.3M248.4 326.4l0.1 1.1M233.1 340.3l1.1 0.2M230.4 330.6l-1.0 0.4M231.1 333.4l-0.5 1.0M222.1 337.0l1.0 0.5M243.5 338.6l1.1 0.3M229.7 338.1l0.6 0.9M241.6 333.5l-1.0 0.3M233.1 323.4l0.6 0.9M240.4 325.6l-0.5 1.0M231.8 330.8l-0.5 1.0M245.7 337.6l-0.7 0.8M249.0 327.2l1.0 0.5M246.3 340.2l-0.9 0.6M240.0 338.4l-0.9 0.7M252.0 336.0l-0.8 0.7M246.7 341.1l0.5 1.0" stroke="#a85a50" stroke-width="1.25"/><path d="M249.2 346.2l0.7 0.8M240.3 351.6l-0.7 0.9M232.8 327.7l1.0 0.4M232.9 342.2l-1.1 0.0M243.9 322.6l0.7 0.9M241.9 327.1l-0.4 1.0M239.2 345.8l0.3 1.1M231.1 337.8l-0.9 0.6M235.4 340.0l-0.6 0.9M235.6 338.4l-0.5 1.0M233.2 331.9l1.0 0.4M246.7 345.4l-0.6 0.9M242.9 345.9l0.2 1.1M236.4 336.4l1.1 0.1M234.4 332.3l1.1 0.1M222.8 341.1l1.0 0.5M246.5 340.1l0.8 0.8M233.2 337.1l-0.2 1.1M240.9 325.0l0.6 0.9M234.3 350.4l0.9 0.7M230.5 325.0l1.1 0.1M231.2 333.4l-0.2 1.1M228.9 331.2l-1.0 0.4M243.2 324.2l0.3 1.0" stroke="#7a3028" stroke-width="1.25"/><path d="M243.8 329.6l-1.1 0.1M235.4 328.1l-1.0 0.5M253.3 335.1l-1.1 0.2" stroke="#b8bc50" stroke-width="1.25"/><path d="M237.9 343.3l0.4 1.0M248.6 335.0l-0.2 1.1M233.7 326.5l-1.0 0.3M232.2 332.1l-0.9 0.6M232.9 345.9l-0.1 1.1M253.0 335.5l-1.1 0.1M244.3 339.8l0.6 0.9M244.9 323.8l-0.2 1.1M251.9 331.4l-0.7 0.9M246.2 326.7l-1.1 0.3M232.0 339.1l0.8 0.8M251.6 338.2l0.3 1.1M233.1 337.2l0.2 1.1M249.7 334.6l1.1 0.2M236.3 330.5l1.0 0.4M252.3 337.0l-1.0 0.3M226.8 335.6l-0.3 1.1M229.3 329.7l-0.2 1.1M241.0 345.3l-1.1 0.1M245.2 330.6l0.2 1.1M238.2 340.4l1.0 0.5M238.3 350.3l-0.3 1.1M228.0 337.7l-0.2 1.1M242.8 343.0l0.4 1.0M236.9 332.8l0.8 0.7" stroke="#9c4a40" stroke-width="1.25"/><path d="M225.3 330.9l-0.0 1.1M239.1 327.8l-0.5 1.0M234.8 330.1l-1.1 0.2M229.7 330.8l-0.5 1.0M247.9 335.7l0.4 1.0M246.5 333.8l-0.0 1.1M227.1 347.2l-0.1 1.1M250.3 340.9l-0.1 1.1M248.6 343.2l0.2 1.1M234.1 339.9l-0.2 1.1M225.1 338.7l1.1 0.1M228.3 337.9l1.0 0.5M247.1 334.0l-0.6 0.9M238.0 323.5l-0.9 0.6M250.5 330.5l0.9 0.6M243.2 348.2l0.2 1.1M241.6 332.8l-0.0 1.1M243.7 327.1l-0.9 0.7M229.5 348.3l1.1 0.2M248.4 339.3l-0.6 0.9" stroke="#904038" stroke-width="1.25"/><path d="M236.8 338.9l1.0 0.5M238.6 347.5l0.0 1.1M249.0 333.7l-0.3 1.1M236.5 350.6l-0.9 0.6M242.5 347.3l1.0 0.4M230.4 348.3l0.8 0.8M235.3 350.8l1.0 0.4M246.0 346.5l-0.3 1.0M243.1 349.8l-1.1 0.2M244.8 327.4l0.7 0.8M252.2 342.4l-0.5 1.0M231.3 338.7l-0.8 0.8M234.7 351.6l-0.1 1.1M236.1 339.8l-1.1 0.1M233.7 328.4l1.0 0.4M235.2 326.3l-1.0 0.3M243.4 348.6l-0.0 1.1" stroke="#b86c60" stroke-width="1.25"/><path d="M243.2 339.5l-1.1 0.1M232.8 339.3l-0.3 1.1M242.1 348.8l0.9 0.6M225.0 329.2l1.1 0.0" stroke="#a4b03c" stroke-width="1.25"/><path d="M234.7 344.1l0.7 0.8M237.8 328.3l1.0 0.5" stroke="#a0aa3c" stroke-width="1.25"/><path d="M249.8 345.7l0.2 1.1M224.3 340.7l-0.1 1.1" stroke="#8c9c30" stroke-width="1.25"/><path d="M248.7 343.4l-0.9 0.6" stroke="#b0bc48" stroke-width="1.25"/></g>
<circle cx="96.3" cy="385.2" r="20.6" fill="#1e1e1e" stroke="#484848" stroke-width="0.8"/><circle cx="96.3" cy="385.2" r="19.2" fill="url(#plate)"/><g filter="url(#bl2)" stroke-linecap="round"><path d="M106.9 392.4l-1.1 0.2M107.0 393.4l0.1 1.1M99.2 370.6l-0.1 1.1M104.9 394.5l-0.9 0.6M96.0 379.5l-0.0 1.1M87.1 388.6l-0.6 1.0M98.0 385.9l-1.0 0.4M99.5 395.2l-0.7 0.9M100.8 382.2l-0.0 1.1M90.5 379.9l0.8 0.7M99.7 378.4l1.1 0.0M100.7 369.6l1.0 0.5M99.0 372.6l1.1 0.2M96.6 398.0l1.1 0.1M93.9 384.9l-0.8 0.8M89.0 370.3l-0.4 1.0M88.1 390.1l-0.1 1.1M87.8 397.5l0.7 0.9M85.8 386.4l0.1 1.1M82.5 384.0l0.6 0.9M110.4 384.3l1.1 0.2M84.4 386.9l0.6 0.9M104.2 372.8l-1.0 0.3M97.1 383.8l1.1 0.1M86.9 381.2l-0.4 1.0M100.1 385.8l1.1 0.2M91.0 375.5l-1.0 0.5M83.9 376.4l-0.3 1.1M102.7 389.0l-0.0 1.1M91.5 399.4l1.1 0.1M91.1 373.9l0.9 0.6M93.4 374.0l-0.6 0.9M98.2 373.9l1.1 0.2M98.6 398.0l-0.6 0.9M85.1 381.2l0.7 0.8M87.2 371.4l1.0 0.4M91.7 393.2l0.7 0.9M105.7 378.5l0.5 1.0M105.4 372.7l0.9 0.6M103.8 392.3l-0.6 0.9M103.3 372.1l-0.1 1.1M92.4 392.0l-0.1 1.1M109.9 379.7l-0.6 0.9M93.2 394.3l0.8 0.8M96.6 396.7l0.5 1.0M89.3 377.0l-1.1 0.1M89.5 396.6l-1.0 0.5M100.9 370.7l1.0 0.4M91.6 384.5l0.6 0.9M92.9 382.2l1.1 0.1M87.0 386.1l1.1 0.0M92.6 395.0l0.5 1.0M81.8 382.4l-1.1 0.1M100.0 389.6l0.8 0.7M82.7 384.8l0.3 1.1M104.2 383.8l0.1 1.1M101.2 376.4l-1.1 0.1M108.1 375.1l0.9 0.6M84.8 377.0l-0.6 0.9M96.7 381.8l-0.1 1.1M86.8 387.4l1.0 0.5M97.9 371.7l-0.7 0.9M89.2 380.4l-0.4 1.0M105.9 387.7l0.3 1.1M89.6 386.9l-0.6 0.9M110.9 382.9l0.9 0.7M94.3 387.2l-0.2 1.1M100.8 383.7l0.9 0.6M94.7 370.0l0.6 0.9M105.7 390.4l-0.2 1.1M88.5 385.1l0.6 0.9M94.0 372.0l1.1 0.3M91.6 394.5l-0.3 1.1M95.6 397.6l-1.1 0.3M102.6 393.6l1.1 0.0M94.2 386.4l-0.3 1.0M95.6 392.5l0.2 1.1M88.4 395.0l-0.8 0.7M92.7 382.6l1.1 0.3M103.9 383.0l-1.1 0.3M86.6 386.3l-0.0 1.1M104.8 386.8l-0.7 0.9M109.0 388.0l1.1 0.2M94.8 380.8l-0.7 0.8M94.1 395.1l-0.4 1.0M99.0 397.5l0.2 1.1M95.3 398.9l1.0 0.5M109.1 390.4l0.3 1.0M87.4 377.4l-0.5 1.0M99.0 381.9l-0.1 1.1M108.5 383.9l0.8 0.7M108.4 387.6l-1.1 0.1M101.9 375.2l-1.0 0.4M84.0 380.5l1.1 0.3M91.1 377.1l1.1 0.2M93.3 386.9l0.3 1.1M83.0 381.5l-0.2 1.1M109.9 386.3l-1.1 0.2M93.0 377.2l0.4 1.0M89.0 382.2l-0.0 1.1M99.3 380.5l-1.1 0.3M101.1 372.9l-0.1 1.1M104.1 394.1l-0.0 1.1M87.4 389.2l1.0 0.5M98.4 379.4l0.5 1.0M92.3 377.2l-0.8 0.8M101.4 390.9l0.1 1.1M85.4 374.8l1.0 0.4M95.8 376.1l1.1 0.3M93.2 382.0l0.9 0.6M110.8 384.6l-0.6 0.9M84.5 394.5l0.1 1.1M104.1 391.4l1.1 0.0M82.4 388.2l1.0 0.5M82.7 390.5l-0.4 1.0M83.0 391.8l1.1 0.1M101.9 391.4l1.0 0.4M94.0 383.3l-0.5 1.0M88.3 373.2l-1.0 0.4M94.7 385.7l-0.0 1.1M105.0 374.4l1.1 0.3M97.4 382.7l0.3 1.0M99.7 379.1l-0.8 0.7M96.7 379.3l0.7 0.8M103.4 381.7l1.1 0.3M95.6 399.8l-0.8 0.7M98.5 395.0l1.1 0.2M89.8 380.8l0.6 0.9M95.2 372.9l-0.8 0.8M105.6 375.9l0.6 0.9M92.0 397.9l0.2 1.1M109.2 391.0l0.5 1.0M84.5 393.1l0.6 0.9M95.1 379.1l-1.1 0.3M102.5 386.6l1.1 0.3M92.8 379.8l1.0 0.4M105.6 392.5l-0.7 0.9M95.6 399.7l0.8 0.8M87.0 391.2l0.5 1.0M93.8 371.6l1.0 0.4" stroke="#66702a" stroke-width="2.1"/><path d="M106.9 392.4l-1.1 0.2M88.1 390.1l-0.1 1.1M87.2 371.4l1.0 0.4M103.8 392.3l-0.6 0.9M96.6 396.7l0.5 1.0M96.7 381.8l-0.1 1.1M104.8 386.8l-0.7 0.9M87.4 377.4l-0.5 1.0M108.5 383.9l0.8 0.7M93.0 377.2l0.4 1.0M99.3 380.5l-1.1 0.3M98.4 379.4l0.5 1.0M84.5 394.5l0.1 1.1M104.1 391.4l1.1 0.0M83.0 391.8l1.1 0.1M94.0 383.3l-0.5 1.0M97.4 382.7l0.3 1.0M95.2 372.9l-0.8 0.8M93.8 371.6l1.0 0.4" stroke="#b8bc50" stroke-width="1.25"/><path d="M107.0 393.4l0.1 1.1M99.2 370.6l-0.1 1.1M104.9 394.5l-0.9 0.6M87.8 397.5l0.7 0.9M104.2 372.8l-1.0 0.3M97.1 383.8l1.1 0.1M102.7 389.0l-0.0 1.1M89.5 396.6l-1.0 0.5M92.6 395.0l0.5 1.0M104.2 383.8l0.1 1.1M105.7 390.4l-0.2 1.1M94.2 386.4l-0.3 1.0M109.0 388.0l1.1 0.2M94.1 395.1l-0.4 1.0M87.4 389.2l1.0 0.5M82.7 390.5l-0.4 1.0M88.3 373.2l-1.0 0.4M98.5 395.0l1.1 0.2M84.5 393.1l0.6 0.9M95.1 379.1l-1.1 0.3M95.6 399.7l0.8 0.8" stroke="#b0bc48" stroke-width="1.25"/><path d="M96.0 379.5l-0.0 1.1M99.5 395.2l-0.7 0.9M96.6 398.0l1.1 0.1M86.9 381.2l-0.4 1.0M100.1 385.8l1.1 0.2M91.0 375.5l-1.0 0.5M98.6 398.0l-0.6 0.9M105.4 372.7l0.9 0.6M92.4 392.0l-0.1 1.1M93.2 394.3l0.8 0.8M82.7 384.8l0.3 1.1M94.3 387.2l-0.2 1.1M94.7 370.0l0.6 0.9M88.5 385.1l0.6 0.9M103.9 383.0l-1.1 0.3M99.0 381.9l-0.1 1.1M101.9 375.2l-1.0 0.4M83.0 381.5l-0.2 1.1M109.9 386.3l-1.1 0.2M101.4 390.9l0.1 1.1M93.2 382.0l0.9 0.6M82.4 388.2l1.0 0.5M89.8 380.8l0.6 0.9M92.8 379.8l1.0 0.4M87.0 391.2l0.5 1.0" stroke="#98a834" stroke-width="1.25"/><path d="M87.1 388.6l-0.6 1.0M93.9 384.9l-0.8 0.8M89.0 370.3l-0.4 1.0M85.8 386.4l0.1 1.1M91.5 399.4l1.1 0.1M91.1 373.9l0.9 0.6M93.4 374.0l-0.6 0.9M91.7 393.2l0.7 0.9M89.3 377.0l-1.1 0.1M84.8 377.0l-0.6 0.9M86.8 387.4l1.0 0.5M97.9 371.7l-0.7 0.9M100.8 383.7l0.9 0.6M94.0 372.0l1.1 0.3M95.6 392.5l0.2 1.1M86.6 386.3l-0.0 1.1M95.3 398.9l1.0 0.5M84.0 380.5l1.1 0.3M85.4 374.8l1.0 0.4M110.8 384.6l-0.6 0.9M94.7 385.7l-0.0 1.1M99.7 379.1l-0.8 0.7M96.7 379.3l0.7 0.8M95.6 399.8l-0.8 0.7M102.5 386.6l1.1 0.3M105.6 392.5l-0.7 0.9" stroke="#8c9c30" stroke-width="1.25"/><path d="M98.0 385.9l-1.0 0.4M100.8 382.2l-0.0 1.1M90.5 379.9l0.8 0.7M99.7 378.4l1.1 0.0M100.7 369.6l1.0 0.5M82.5 384.0l0.6 0.9M110.4 384.3l1.1 0.2M84.4 386.9l0.6 0.9M98.2 373.9l1.1 0.2M85.1 381.2l0.7 0.8M103.3 372.1l-0.1 1.1M92.9 382.2l1.1 0.1M81.8 382.4l-1.1 0.1M101.2 376.4l-1.1 0.1M105.9 387.7l0.3 1.1M89.6 386.9l-0.6 0.9M91.6 394.5l-0.3 1.1M88.4 395.0l-0.8 0.7M92.7 382.6l1.1 0.3M99.0 397.5l0.2 1.1M109.1 390.4l0.3 1.0M89.0 382.2l-0.0 1.1M101.1 372.9l-0.1 1.1M95.8 376.1l1.1 0.3M105.0 374.4l1.1 0.3M105.6 375.9l0.6 0.9" stroke="#a0aa3c" stroke-width="1.25"/><path d="M99.0 372.6l1.1 0.2M83.9 376.4l-0.3 1.1M105.7 378.5l0.5 1.0M109.9 379.7l-0.6 0.9M100.9 370.7l1.0 0.4M91.6 384.5l0.6 0.9M87.0 386.1l1.1 0.0M100.0 389.6l0.8 0.7M108.1 375.1l0.9 0.6M89.2 380.4l-0.4 1.0M110.9 382.9l0.9 0.7M95.6 397.6l-1.1 0.3M102.6 393.6l1.1 0.0M94.8 380.8l-0.7 0.8M108.4 387.6l-1.1 0.1M91.1 377.1l1.1 0.2M93.3 386.9l0.3 1.1M104.1 394.1l-0.0 1.1M92.3 377.2l-0.8 0.8M101.9 391.4l1.0 0.4M103.4 381.7l1.1 0.3M92.0 397.9l0.2 1.1M109.2 391.0l0.5 1.0" stroke="#a4b03c" stroke-width="1.25"/></g>
<circle cx="143.5" cy="385.2" r="20.6" fill="#1e1e1e" stroke="#484848" stroke-width="0.8"/><circle cx="143.5" cy="385.2" r="19.2" fill="url(#plate)"/><g filter="url(#bl2)" stroke-linecap="round"><path d="M145.6 383.1l1.1 0.0M130.7 388.8l-0.6 0.9M145.2 397.8l1.1 0.2M130.6 385.7l-1.1 0.3M152.2 372.3l-0.9 0.6M140.2 374.2l0.6 0.9M139.0 396.8l1.0 0.4M131.4 388.3l-1.1 0.1M148.4 396.1l-0.7 0.8M135.3 371.6l-1.0 0.5M138.9 390.7l0.1 1.1M135.6 383.4l-1.1 0.2M141.4 373.2l-0.0 1.1M139.1 372.7l-1.1 0.1M129.8 377.6l0.1 1.1M135.1 387.2l-0.3 1.1M136.2 394.9l-0.3 1.1M141.1 391.5l-0.3 1.1M137.3 374.7l1.0 0.5M148.9 398.6l-0.7 0.9M138.9 382.1l0.4 1.0M146.8 395.1l-0.1 1.1M155.3 385.6l-0.9 0.6M130.2 379.9l0.1 1.1M144.2 389.5l0.7 0.8M138.8 395.3l0.2 1.1M149.4 380.1l-0.6 0.9M137.6 396.4l-0.8 0.7M133.4 373.6l-1.1 0.2M144.9 382.6l0.5 1.0M136.5 391.3l-1.0 0.4M137.3 371.1l0.1 1.1M144.7 374.1l0.7 0.8M155.7 382.4l-1.1 0.2M141.3 374.8l0.8 0.8M144.9 389.6l-1.0 0.4M144.6 371.2l-0.8 0.8M153.6 383.1l-0.9 0.6M128.0 380.1l1.0 0.5M154.3 378.1l0.0 1.1M145.6 393.2l1.1 0.3M141.0 370.3l1.1 0.2M129.2 384.8l-0.4 1.0M133.8 385.0l0.8 0.7M132.2 386.3l0.7 0.9M139.2 378.7l-1.0 0.5M147.9 393.8l1.1 0.3M137.2 386.4l-0.9 0.6M146.0 398.0l0.6 0.9M130.5 392.0l1.1 0.1M129.6 382.4l1.0 0.5M136.9 371.4l0.8 0.7M150.7 397.6l0.8 0.7M144.8 399.7l-0.7 0.8M156.9 389.2l-0.9 0.6M135.3 394.0l0.6 0.9M143.3 372.3l-1.0 0.4M141.0 398.2l0.9 0.6M148.4 393.6l-0.8 0.8M146.8 396.6l1.0 0.5M155.2 382.0l1.1 0.0M153.5 394.2l0.9 0.6M149.1 373.5l0.8 0.7M142.9 384.7l-0.2 1.1M139.8 393.4l-0.9 0.6M145.1 371.1l1.0 0.5M134.7 391.3l-1.1 0.2M155.6 382.6l-0.3 1.1M154.5 391.6l-1.1 0.1M130.8 381.2l0.3 1.1M150.1 380.4l-0.3 1.0M136.5 374.2l1.1 0.3" stroke="#66702a" stroke-width="2.1"/><path d="M153.9 385.2l-0.2 1.1M131.6 390.9l1.1 0.3M148.9 389.4l1.0 0.5M136.2 377.5l-1.0 0.3M137.0 380.4l-0.4 1.0M154.1 374.8l-0.7 0.9M132.2 379.2l0.7 0.9M154.4 385.2l1.1 0.2M145.9 387.8l1.1 0.2M132.2 374.0l-0.6 0.9M146.6 381.9l1.1 0.1M141.6 382.6l0.5 1.0M147.6 381.1l-0.4 1.0M148.9 375.6l1.1 0.3M154.3 392.2l0.0 1.1M141.5 383.9l-1.1 0.1M154.4 384.5l0.6 0.9M139.6 374.7l1.1 0.3M137.3 384.7l-1.1 0.1M147.3 369.2l0.1 1.1M150.9 383.6l-0.1 1.1M139.7 393.1l0.4 1.0M152.3 392.5l-0.1 1.1M140.7 391.5l-0.5 1.0M147.4 385.6l1.0 0.3M149.7 394.2l0.1 1.1M140.2 399.5l1.1 0.3M151.6 371.3l1.0 0.3M155.4 388.6l-1.1 0.3M134.7 385.6l1.1 0.1M152.9 374.2l0.6 0.9M147.8 392.6l0.9 0.6M128.6 388.7l1.0 0.5M153.8 388.4l0.7 0.8M146.2 385.8l-0.8 0.7M156.9 377.9l-1.1 0.0M152.5 375.0l0.5 1.0M132.8 391.2l0.4 1.0M157.1 377.6l1.0 0.5M143.1 388.5l-1.1 0.1M142.5 386.5l-1.1 0.2M132.5 378.7l0.1 1.1M151.0 377.5l0.9 0.6M149.0 390.4l0.1 1.1M157.8 389.4l0.3 1.0M147.9 373.8l-1.1 0.0M152.0 388.4l-1.1 0.3M145.0 375.0l-1.0 0.5M148.2 370.1l0.6 0.9M143.7 369.3l-1.0 0.3M144.0 371.1l-0.2 1.1M138.2 394.1l-0.9 0.6M146.3 384.1l-1.0 0.4M150.8 378.5l-0.1 1.1M151.3 380.5l-0.3 1.1M141.6 395.4l0.9 0.7M140.7 373.6l0.1 1.1M133.0 373.1l1.0 0.6M138.6 373.2l-0.9 0.6M136.2 379.1l-0.1 1.1M134.9 384.5l1.1 0.1M149.3 383.9l-0.4 1.0M143.7 369.4l0.8 0.8M151.2 384.4l0.4 1.0M132.3 383.0l0.8 0.7M143.3 396.0l1.1 0.3M141.0 388.2l0.9 0.7M158.4 378.4l-0.8 0.7" stroke="#58241e" stroke-width="2.1"/><path d="M153.9 385.2l-0.2 1.1M154.4 385.2l1.1 0.2M154.4 384.5l0.6 0.9M140.2 399.5l1.1 0.3M153.8 388.4l0.7 0.8M152.5 375.0l0.5 1.0M144.0 371.1l-0.2 1.1M136.2 379.1l-0.1 1.1M132.3 383.0l0.8 0.7" stroke="#a85a50" stroke-width="1.25"/><path d="M145.6 383.1l1.1 0.0M148.4 396.1l-0.7 0.8M135.3 371.6l-1.0 0.5M129.8 377.6l0.1 1.1M141.1 391.5l-0.3 1.1M148.9 398.6l-0.7 0.9M149.4 380.1l-0.6 0.9M137.6 396.4l-0.8 0.7M141.3 374.8l0.8 0.8M144.9 389.6l-1.0 0.4M147.9 393.8l1.1 0.3M137.2 386.4l-0.9 0.6M129.6 382.4l1.0 0.5M143.3 372.3l-1.0 0.4M153.5 394.2l0.9 0.6M130.8 381.2l0.3 1.1" stroke="#a4b03c" stroke-width="1.25"/><path d="M131.6 390.9l1.1 0.3M136.2 377.5l-1.0 0.3M145.9 387.8l1.1 0.2M147.3 369.2l0.1 1.1M150.9 383.6l-0.1 1.1M151.6 371.3l1.0 0.3M132.5 378.7l0.1 1.1M151.0 377.5l0.9 0.6M148.2 370.1l0.6 0.9M151.3 380.5l-0.3 1.1M141.6 395.4l0.9 0.7M149.3 383.9l-0.4 1.0M143.3 396.0l1.1 0.3" stroke="#904038" stroke-width="1.25"/><path d="M148.9 389.4l1.0 0.5M137.0 380.4l-0.4 1.0M132.2 374.0l-0.6 0.9M148.9 375.6l1.1 0.3M137.3 384.7l-1.1 0.1M152.3 392.5l-0.1 1.1M140.7 391.5l-0.5 1.0M147.4 385.6l1.0 0.3M152.9 374.2l0.6 0.9M147.8 392.6l0.9 0.6M146.2 385.8l-0.8 0.7M156.9 377.9l-1.1 0.0M157.8 389.4l0.3 1.0M152.0 388.4l-1.1 0.3M134.9 384.5l1.1 0.1" stroke="#8c3830" stroke-width="1.25"/><path d="M130.7 388.8l-0.6 0.9M152.2 372.3l-0.9 0.6M135.1 387.2l-0.3 1.1M138.8 395.3l0.2 1.1M144.6 371.2l-0.8 0.8M141.0 370.3l1.1 0.2M133.8 385.0l0.8 0.7M130.5 392.0l1.1 0.1M150.7 397.6l0.8 0.7M135.3 394.0l0.6 0.9M155.2 382.0l1.1 0.0M142.9 384.7l-0.2 1.1M145.1 371.1l1.0 0.5M154.5 391.6l-1.1 0.1" stroke="#a0aa3c" stroke-width="1.25"/><path d="M154.1 374.8l-0.7 0.9M147.6 381.1l-0.4 1.0M154.3 392.2l0.0 1.1M155.4 388.6l-1.1 0.3M134.7 385.6l1.1 0.1M149.0 390.4l0.1 1.1M145.0 375.0l-1.0 0.5M138.2 394.1l-0.9 0.6M140.7 373.6l0.1 1.1M143.7 369.4l0.8 0.8M151.2 384.4l0.4 1.0M141.0 388.2l0.9 0.7M158.4 378.4l-0.8 0.7" stroke="#b86c60" stroke-width="1.25"/><path d="M132.2 379.2l0.7 0.9M146.6 381.9l1.1 0.1M141.6 382.6l0.5 1.0M139.6 374.7l1.1 0.3M139.7 393.1l0.4 1.0M149.7 394.2l0.1 1.1M128.6 388.7l1.0 0.5M132.8 391.2l0.4 1.0M147.9 373.8l-1.1 0.0M138.6 373.2l-0.9 0.6" stroke="#9c4a40" stroke-width="1.25"/><path d="M145.2 397.8l1.1 0.2M130.6 385.7l-1.1 0.3M135.6 383.4l-1.1 0.2M141.4 373.2l-0.0 1.1M130.2 379.9l0.1 1.1M144.2 389.5l0.7 0.8M133.4 373.6l-1.1 0.2M144.9 382.6l0.5 1.0M155.7 382.4l-1.1 0.2M132.2 386.3l0.7 0.9M139.2 378.7l-1.0 0.5" stroke="#98a834" stroke-width="1.25"/><path d="M140.2 374.2l0.6 0.9M139.0 396.8l1.0 0.4M131.4 388.3l-1.1 0.1M138.9 390.7l0.1 1.1M138.9 382.1l0.4 1.0M155.3 385.6l-0.9 0.6M144.7 374.1l0.7 0.8M154.3 378.1l0.0 1.1M149.1 373.5l0.8 0.7M155.6 382.6l-0.3 1.1M136.5 374.2l1.1 0.3" stroke="#b0bc48" stroke-width="1.25"/><path d="M139.1 372.7l-1.1 0.1M136.2 394.9l-0.3 1.1M146.8 395.1l-0.1 1.1M136.5 391.3l-1.0 0.4M137.3 371.1l0.1 1.1M153.6 383.1l-0.9 0.6M128.0 380.1l1.0 0.5M145.6 393.2l1.1 0.3M129.2 384.8l-0.4 1.0M144.8 399.7l-0.7 0.8" stroke="#b8bc50" stroke-width="1.25"/><path d="M141.5 383.9l-1.1 0.1M157.1 377.6l1.0 0.5M143.1 388.5l-1.1 0.1M142.5 386.5l-1.1 0.2M143.7 369.3l-1.0 0.3M146.3 384.1l-1.0 0.4M150.8 378.5l-0.1 1.1M133.0 373.1l1.0 0.6" stroke="#7a3028" stroke-width="1.25"/><path d="M137.3 374.7l1.0 0.5M146.0 398.0l0.6 0.9M136.9 371.4l0.8 0.7M156.9 389.2l-0.9 0.6M141.0 398.2l0.9 0.6M148.4 393.6l-0.8 0.8M146.8 396.6l1.0 0.5M139.8 393.4l-0.9 0.6M134.7 391.3l-1.1 0.2M150.1 380.4l-0.3 1.0" stroke="#8c9c30" stroke-width="1.25"/></g>
<circle cx="190.6" cy="385.2" r="20.6" fill="#1e1e1e" stroke="#484848" stroke-width="0.8"/><circle cx="190.6" cy="385.2" r="19.2" fill="url(#plate)"/><g filter="url(#bl2)" stroke-linecap="round"><path d="M201.9 385.1l0.0 1.1M191.0 368.7l-1.1 0.3M191.5 394.5l-1.0 0.5M206.2 384.0l-1.0 0.4M189.5 382.1l-0.4 1.0M178.7 388.1l1.1 0.1M186.3 379.3l1.1 0.0M204.2 380.5l-0.8 0.8M188.4 381.8l-0.5 1.0M202.9 391.6l0.7 0.8M198.6 377.4l-1.0 0.5M175.9 382.0l0.1 1.1M186.8 384.4l-0.9 0.6M179.1 392.0l0.2 1.1M194.0 388.1l-1.1 0.3M187.6 394.9l0.8 0.7M195.6 378.2l-1.0 0.4M191.3 387.2l0.5 1.0M189.7 384.0l1.0 0.4M192.5 376.6l-0.6 0.9M175.3 385.6l0.7 0.8M181.0 386.5l1.1 0.3M203.8 381.6l-1.1 0.0M195.8 392.5l-0.0 1.1" stroke="#66702a" stroke-width="2.1"/><path d="M185.3 377.4l-0.8 0.8M186.5 369.1l-0.7 0.9M185.7 371.6l1.1 0.2M192.6 380.9l-0.5 1.0M184.6 395.5l-0.8 0.8M178.6 381.9l1.1 0.3M177.7 389.9l-0.2 1.1M180.9 379.1l-0.8 0.8M195.3 375.6l-1.1 0.3M194.6 388.6l-1.1 0.1M184.3 391.4l-0.8 0.8M187.8 382.3l0.8 0.7M176.7 390.7l-0.3 1.1M179.1 376.9l1.1 0.2M192.2 391.0l-0.1 1.1M187.5 390.0l0.4 1.0M193.1 399.1l0.1 1.1M185.0 369.3l-0.1 1.1M174.9 385.5l1.1 0.3M180.6 395.4l1.1 0.0M191.6 375.2l0.7 0.9M188.9 372.6l0.1 1.1M182.8 374.0l0.5 1.0M200.8 375.5l-0.6 0.9M197.5 389.4l-0.9 0.7M192.9 384.1l0.6 0.9M188.3 386.3l-0.5 1.0M189.9 387.4l0.2 1.1M183.4 391.5l-0.2 1.1M198.5 374.7l1.1 0.2M190.2 381.5l1.1 0.3M179.5 374.9l0.5 1.0M198.0 372.4l0.6 0.9M177.0 381.7l1.1 0.2M182.3 385.3l1.0 0.6M202.5 377.2l-0.9 0.7M200.8 383.9l1.0 0.5M186.1 385.1l0.6 0.9M178.4 374.0l0.5 1.0M181.3 383.9l1.1 0.2M184.9 390.2l0.7 0.8M196.0 393.9l-1.1 0.3M188.4 389.6l1.0 0.5M190.3 382.8l-0.7 0.9M185.1 377.3l1.0 0.4M189.3 394.6l-1.1 0.3M186.2 388.7l-0.5 1.0M188.0 397.1l-0.8 0.7M190.3 373.3l-0.6 0.9M200.1 381.1l-1.0 0.4M189.1 390.2l-0.9 0.7M197.9 388.3l1.1 0.2M196.0 371.5l1.0 0.5M197.6 392.2l-1.1 0.2M184.5 374.0l-1.1 0.1M200.8 378.6l-0.2 1.1M176.6 386.6l1.0 0.4M183.8 394.8l0.8 0.7M201.1 389.5l1.1 0.3M198.9 378.9l-1.1 0.1M200.8 386.8l1.0 0.5M196.9 393.3l0.4 1.0M201.4 389.8l-0.8 0.7M201.8 391.6l0.3 1.1M183.7 374.7l0.1 1.1M188.1 384.9l0.5 1.0M188.6 370.7l0.7 0.8M183.0 385.7l-0.7 0.8M196.7 377.6l0.3 1.1M203.2 392.1l0.7 0.8M191.6 392.0l0.9 0.7M191.6 379.0l-1.0 0.4M188.5 372.1l0.0 1.1M189.1 388.7l-0.7 0.8M185.2 376.5l0.8 0.8M199.2 385.8l-0.9 0.6M183.5 370.5l0.6 0.9M188.5 397.8l0.7 0.8M195.7 389.9l-1.0 0.3M188.0 395.2l0.3 1.1M180.6 372.3l-0.2 1.1M178.3 388.8l-1.0 0.3M192.6 369.5l0.8 0.8M184.9 392.6l-0.1 1.1M186.3 384.1l0.9 0.6M187.9 373.2l0.9 0.7M198.1 389.0l0.1 1.1M194.5 383.5l0.2 1.1M200.8 390.6l-0.7 0.8M188.0 398.9l-1.0 0.5M199.9 389.7l-1.1 0.2M190.7 398.9l-0.6 0.9M194.0 375.8l0.8 0.8M203.6 386.6l0.8 0.8M196.5 381.9l-1.1 0.2M204.8 385.9l0.1 1.1M194.9 390.6l-0.2 1.1M182.4 388.2l0.5 1.0M201.1 380.1l0.0 1.1M183.9 393.6l0.6 0.9M186.5 393.3l0.9 0.7M189.4 376.0l-1.1 0.0M200.7 383.8l0.5 1.0M197.9 373.7l1.1 0.3M175.9 381.1l1.0 0.3M192.0 397.9l-1.0 0.3M180.0 382.1l0.0 1.1M195.4 387.3l1.0 0.4M178.9 381.6l0.5 1.0M200.8 372.0l-1.1 0.3M199.4 375.5l-0.6 0.9M179.5 395.2l-1.1 0.3M196.5 374.5l0.0 1.1M193.3 391.3l-0.9 0.6M190.7 394.1l0.9 0.6M182.0 389.0l-1.1 0.2" stroke="#58241e" stroke-width="2.1"/><path d="M185.3 377.4l-0.8 0.8M192.2 391.0l-0.1 1.1M187.5 390.0l0.4 1.0M191.6 375.2l0.7 0.9M200.8 375.5l-0.6 0.9M197.5 389.4l-0.9 0.7M183.4 391.5l-0.2 1.1M181.3 383.9l1.1 0.2M184.9 390.2l0.7 0.8M185.1 377.3l1.0 0.4M190.3 373.3l-0.6 0.9M188.5 372.1l0.0 1.1M192.6 369.5l0.8 0.8M200.8 390.6l-0.7 0.8M196.5 381.9l-1.1 0.2M194.9 390.6l-0.2 1.1M175.9 381.1l1.0 0.3M192.0 397.9l-1.0 0.3" stroke="#a85a50" stroke-width="1.25"/><path d="M186.5 369.1l-0.7 0.9M185.7 371.6l1.1 0.2M192.6 380.9l-0.5 1.0M177.7 389.9l-0.2 1.1M195.3 375.6l-1.1 0.3M187.8 382.3l0.8 0.7M176.7 390.7l-0.3 1.1M188.9 372.6l0.1 1.1M198.5 374.7l1.1 0.2M200.8 383.9l1.0 0.5M186.1 385.1l0.6 0.9M196.0 393.9l-1.1 0.3M190.3 382.8l-0.7 0.9M200.8 386.8l1.0 0.5M201.8 391.6l0.3 1.1M183.7 374.7l0.1 1.1M188.1 384.9l0.5 1.0M196.7 377.6l0.3 1.1M191.6 392.0l0.9 0.7M195.7 389.9l-1.0 0.3M188.0 395.2l0.3 1.1M178.3 388.8l-1.0 0.3M198.1 389.0l0.1 1.1M199.9 389.7l-1.1 0.2M203.6 386.6l0.8 0.8M204.8 385.9l0.1 1.1M189.4 376.0l-1.1 0.0M200.8 372.0l-1.1 0.3M179.5 395.2l-1.1 0.3" stroke="#7a3028" stroke-width="1.25"/><path d="M201.9 385.1l0.0 1.1M191.0 368.7l-1.1 0.3M206.2 384.0l-1.0 0.4M178.7 388.1l1.1 0.1M175.9 382.0l0.1 1.1M179.1 392.0l0.2 1.1" stroke="#a4b03c" stroke-width="1.25"/><path d="M184.6 395.5l-0.8 0.8M184.3 391.4l-0.8 0.8M179.1 376.9l1.1 0.2M174.9 385.5l1.1 0.3M182.8 374.0l0.5 1.0M188.3 386.3l-0.5 1.0M198.0 372.4l0.6 0.9M182.3 385.3l1.0 0.6M178.4 374.0l0.5 1.0M197.9 388.3l1.1 0.2M197.6 392.2l-1.1 0.2M201.1 389.5l1.1 0.3M196.9 393.3l0.4 1.0M201.4 389.8l-0.8 0.7M188.6 370.7l0.7 0.8M189.1 388.7l-0.7 0.8M184.9 392.6l-0.1 1.1M187.9 373.2l0.9 0.7M201.1 380.1l0.0 1.1M186.5 393.3l0.9 0.7" stroke="#b86c60" stroke-width="1.25"/><path d="M178.6 381.9l1.1 0.3M194.6 388.6l-1.1 0.1M192.9 384.1l0.6 0.9M190.2 381.5l1.1 0.3M188.4 389.6l1.0 0.5M186.2 388.7l-0.5 1.0M196.0 371.5l1.0 0.5M176.6 386.6l1.0 0.4M183.8 394.8l0.8 0.7M185.2 376.5l0.8 0.8M188.5 397.8l0.7 0.8M186.3 384.1l0.9 0.6M194.5 383.5l0.2 1.1M188.0 398.9l-1.0 0.5M178.9 381.6l0.5 1.0M190.7 394.1l0.9 0.6" stroke="#9c4a40" stroke-width="1.25"/><path d="M180.9 379.1l-0.8 0.8M193.1 399.1l0.1 1.1M180.6 395.4l1.1 0.0M179.5 374.9l0.5 1.0M177.0 381.7l1.1 0.2M189.3 394.6l-1.1 0.3M200.1 381.1l-1.0 0.4M189.1 390.2l-0.9 0.7M184.5 374.0l-1.1 0.1M198.9 378.9l-1.1 0.1M183.0 385.7l-0.7 0.8M191.6 379.0l-1.0 0.4M199.2 385.8l-0.9 0.6M182.4 388.2l0.5 1.0M200.7 383.8l0.5 1.0M180.0 382.1l0.0 1.1M195.4 387.3l1.0 0.4M182.0 389.0l-1.1 0.2" stroke="#904038" stroke-width="1.25"/><path d="M191.5 394.5l-1.0 0.5M186.3 379.3l1.1 0.0M192.5 376.6l-0.6 0.9M175.3 385.6l0.7 0.8" stroke="#a0aa3c" stroke-width="1.25"/><path d="M185.0 369.3l-0.1 1.1M189.9 387.4l0.2 1.1M202.5 377.2l-0.9 0.7M188.0 397.1l-0.8 0.7M200.8 378.6l-0.2 1.1M203.2 392.1l0.7 0.8M183.5 370.5l0.6 0.9M180.6 372.3l-0.2 1.1M190.7 398.9l-0.6 0.9M194.0 375.8l0.8 0.8M183.9 393.6l0.6 0.9M197.9 373.7l1.1 0.3M199.4 375.5l-0.6 0.9M196.5 374.5l0.0 1.1M193.3 391.3l-0.9 0.6" stroke="#8c3830" stroke-width="1.25"/><path d="M189.5 382.1l-0.4 1.0M188.4 381.8l-0.5 1.0" stroke="#98a834" stroke-width="1.25"/><path d="M204.2 380.5l-0.8 0.8M194.0 388.1l-1.1 0.3M203.8 381.6l-1.1 0.0" stroke="#b0bc48" stroke-width="1.25"/><path d="M202.9 391.6l0.7 0.8M198.6 377.4l-1.0 0.5M181.0 386.5l1.1 0.3M195.8 392.5l-0.0 1.1" stroke="#b8bc50" stroke-width="1.25"/><path d="M186.8 384.4l-0.9 0.6M187.6 394.9l0.8 0.7M195.6 378.2l-1.0 0.4M191.3 387.2l0.5 1.0M189.7 384.0l1.0 0.4" stroke="#8c9c30" stroke-width="1.25"/></g>
<circle cx="237.4" cy="385.2" r="20.6" fill="#1e1e1e" stroke="#484848" stroke-width="0.8"/><circle cx="237.4" cy="385.2" r="19.2" fill="url(#plate)"/><g filter="url(#bl2)" stroke-linecap="round"><path d="M227.5 382.6l-0.8 0.8M240.1 370.5l-0.6 0.9M237.6 369.2l1.1 0.0M224.0 377.5l-1.0 0.4M244.6 370.9l0.8 0.7M240.9 397.4l-0.2 1.1M232.7 387.6l-0.8 0.7M239.4 395.0l1.0 0.5M242.8 397.9l0.9 0.6M226.2 394.6l-1.0 0.4M236.0 390.0l-1.0 0.4M234.6 382.9l-0.6 0.9M225.0 383.2l-0.2 1.1M245.4 390.3l-1.1 0.0M230.1 386.0l1.1 0.0M231.4 373.6l-0.6 0.9M250.9 380.3l-0.4 1.0M249.9 393.6l-0.6 0.9M227.9 377.7l0.9 0.6M235.4 384.1l1.0 0.5M239.6 373.7l-1.1 0.1" stroke="#66702a" stroke-width="2.1"/><path d="M232.1 393.7l0.0 1.1M223.7 383.6l0.3 1.1M232.3 391.6l-1.0 0.5M233.9 369.8l-1.1 0.2M230.4 380.3l1.1 0.0M230.4 397.6l0.0 1.1M251.3 389.7l-0.3 1.1M223.1 379.4l-0.9 0.6M230.8 391.7l-1.1 0.3M227.5 385.8l-0.2 1.1M226.0 383.5l0.4 1.0M249.0 382.1l-0.9 0.6M244.9 383.5l0.4 1.0M232.3 398.1l-0.0 1.1M244.3 377.3l-0.4 1.0M228.2 373.9l0.3 1.1M229.2 394.4l0.5 1.0M234.8 379.7l-0.8 0.8M233.2 377.0l0.2 1.1M242.4 376.4l0.6 0.9M250.3 383.2l0.3 1.1M224.8 378.0l0.5 1.0M242.6 397.3l-1.0 0.3M237.9 400.1l1.1 0.2M244.4 380.1l1.1 0.1M241.1 384.8l0.7 0.9M237.1 393.9l-0.6 0.9M229.1 381.7l-0.4 1.0M228.2 385.4l-1.1 0.3M228.3 387.1l1.0 0.5M230.2 382.9l1.0 0.5M245.8 374.7l-1.1 0.3M235.9 371.1l1.0 0.5M248.2 381.2l-1.1 0.3M247.8 373.9l-0.5 1.0M246.5 374.8l0.3 1.0M250.0 383.9l-1.0 0.4M239.4 376.2l-0.5 1.0M231.9 382.6l0.8 0.8M247.9 377.6l0.5 1.0M228.9 385.8l-0.5 1.0M248.4 385.9l0.4 1.0M227.7 383.5l1.1 0.3M245.6 395.4l-0.9 0.6M230.2 390.9l1.1 0.1M244.4 391.8l0.6 0.9M245.4 374.0l-0.9 0.7M244.9 387.3l0.8 0.7M230.2 371.8l-1.0 0.4M239.3 395.8l1.1 0.2M228.7 374.1l-1.1 0.2M234.9 399.0l-0.7 0.9M236.0 391.9l0.6 0.9M253.4 386.9l-0.9 0.6M236.0 371.1l0.8 0.7M226.4 374.7l0.1 1.1M230.3 371.7l-0.4 1.0M240.2 375.7l1.0 0.4M239.7 372.2l-0.7 0.8M240.7 399.4l0.0 1.1M241.8 391.0l0.6 0.9M240.3 379.2l-0.7 0.9M245.4 398.2l-1.1 0.1M243.5 373.8l0.7 0.9M235.0 395.4l0.6 0.9M224.6 385.2l-1.0 0.4M237.1 372.4l-1.0 0.5M230.7 382.7l-0.7 0.8M228.3 378.1l0.6 0.9M227.6 388.1l-0.0 1.1M237.9 395.0l1.0 0.6M232.4 390.2l-0.6 0.9M223.6 391.5l0.1 1.1M235.7 371.7l-0.9 0.6M238.7 376.9l-0.6 0.9M246.3 387.7l-0.5 1.0M235.7 398.4l-0.2 1.1M241.0 389.3l1.0 0.3M233.1 372.7l-0.8 0.8M230.3 391.1l0.6 0.9M246.5 371.2l-0.9 0.6M234.7 374.1l1.1 0.1M252.6 380.1l-0.3 1.0M225.1 388.3l1.1 0.2M251.8 385.1l0.2 1.1M235.7 386.3l-1.1 0.3M232.3 399.5l1.0 0.5M249.9 387.1l-1.1 0.2M244.4 391.9l1.1 0.2M245.9 397.3l0.0 1.1M245.3 390.4l0.0 1.1M242.0 388.2l-0.2 1.1M243.7 375.8l1.1 0.2M247.1 385.3l-1.1 0.1M234.9 387.1l-0.1 1.1M244.6 396.2l0.4 1.0M237.7 375.9l1.1 0.3M226.5 383.9l0.9 0.7M235.9 397.7l-0.1 1.1M236.7 374.1l0.7 0.8M242.4 392.8l-0.8 0.7M244.7 372.9l-0.3 1.1M235.3 375.9l0.3 1.1M231.2 380.3l-1.0 0.4M250.3 385.0l0.2 1.1M235.7 376.4l0.3 1.0M246.5 391.6l-0.4 1.0M235.9 385.0l-0.5 1.0M243.8 397.7l1.1 0.1M231.1 373.1l0.1 1.1M225.5 391.4l-1.0 0.5M239.0 378.5l-0.8 0.8M239.4 399.6l0.0 1.1M229.1 395.6l0.6 0.9M223.3 385.7l0.8 0.8M246.1 395.9l0.8 0.8M243.0 393.6l-1.0 0.3M243.8 391.1l1.0 0.4M243.1 387.6l-0.7 0.9" stroke="#58241e" stroke-width="2.1"/><path d="M227.5 382.6l-0.8 0.8M240.9 397.4l-0.2 1.1M239.4 395.0l1.0 0.5M242.8 397.9l0.9 0.6M230.1 386.0l1.1 0.0M231.4 373.6l-0.6 0.9" stroke="#b8bc50" stroke-width="1.25"/><path d="M240.1 370.5l-0.6 0.9M232.7 387.6l-0.8 0.7M226.2 394.6l-1.0 0.4M236.0 390.0l-1.0 0.4M234.6 382.9l-0.6 0.9M249.9 393.6l-0.6 0.9" stroke="#a0aa3c" stroke-width="1.25"/><path d="M232.1 393.7l0.0 1.1M233.9 369.8l-1.1 0.2M223.1 379.4l-0.9 0.6M244.3 377.3l-0.4 1.0M228.2 373.9l0.3 1.1M242.4 376.4l0.6 0.9M229.1 381.7l-0.4 1.0M248.2 381.2l-1.1 0.3M247.8 373.9l-0.5 1.0M234.9 399.0l-0.7 0.9M236.0 371.1l0.8 0.7M240.3 379.2l-0.7 0.9M243.5 373.8l0.7 0.9M246.3 387.7l-0.5 1.0M225.1 388.3l1.1 0.2M251.8 385.1l0.2 1.1M242.0 388.2l-0.2 1.1M243.7 375.8l1.1 0.2M236.7 374.1l0.7 0.8M250.3 385.0l0.2 1.1M243.0 393.6l-1.0 0.3M243.8 391.1l1.0 0.4" stroke="#a85a50" stroke-width="1.25"/><path d="M223.7 383.6l0.3 1.1M234.8 379.7l-0.8 0.8M224.8 378.0l0.5 1.0M227.7 383.5l1.1 0.3M237.1 372.4l-1.0 0.5M230.7 382.7l-0.7 0.8M227.6 388.1l-0.0 1.1M232.4 390.2l-0.6 0.9M241.0 389.3l1.0 0.3M245.9 397.3l0.0 1.1M244.6 396.2l0.4 1.0M242.4 392.8l-0.8 0.7M244.7 372.9l-0.3 1.1M246.5 391.6l-0.4 1.0M239.4 399.6l0.0 1.1M223.3 385.7l0.8 0.8" stroke="#7a3028" stroke-width="1.25"/><path d="M232.3 391.6l-1.0 0.5M251.3 389.7l-0.3 1.1M230.8 391.7l-1.1 0.3M227.5 385.8l-0.2 1.1M233.2 377.0l0.2 1.1M237.9 400.1l1.1 0.2M237.1 393.9l-0.6 0.9M245.8 374.7l-1.1 0.3M235.9 371.1l1.0 0.5M245.6 395.4l-0.9 0.6M245.4 374.0l-0.9 0.7M230.2 371.8l-1.0 0.4M228.3 378.1l0.6 0.9M233.1 372.7l-0.8 0.8M232.3 399.5l1.0 0.5M235.9 397.7l-0.1 1.1M229.1 395.6l0.6 0.9" stroke="#b86c60" stroke-width="1.25"/><path d="M230.4 380.3l1.1 0.0M226.0 383.5l0.4 1.0M242.6 397.3l-1.0 0.3M228.2 385.4l-1.1 0.3M246.5 374.8l0.3 1.0M239.4 376.2l-0.5 1.0M247.9 377.6l0.5 1.0M248.4 385.9l0.4 1.0M230.2 390.9l1.1 0.1M239.3 395.8l1.1 0.2M224.6 385.2l-1.0 0.4M235.7 371.7l-0.9 0.6M235.7 398.4l-0.2 1.1M246.5 371.2l-0.9 0.6M234.7 374.1l1.1 0.1M249.9 387.1l-1.1 0.2M244.4 391.9l1.1 0.2M247.1 385.3l-1.1 0.1M226.5 383.9l0.9 0.7M231.2 380.3l-1.0 0.4M235.7 376.4l0.3 1.0M235.9 385.0l-0.5 1.0M225.5 391.4l-1.0 0.5" stroke="#904038" stroke-width="1.25"/><path d="M230.4 397.6l0.0 1.1M244.9 383.5l0.4 1.0M250.3 383.2l0.3 1.1M228.3 387.1l1.0 0.5M231.9 382.6l0.8 0.8M228.9 385.8l-0.5 1.0M228.7 374.1l-1.1 0.2M226.4 374.7l0.1 1.1M240.2 375.7l1.0 0.4M239.7 372.2l-0.7 0.8M240.7 399.4l0.0 1.1M237.9 395.0l1.0 0.6M235.7 386.3l-1.1 0.3M234.9 387.1l-0.1 1.1M237.7 375.9l1.1 0.3M231.1 373.1l0.1 1.1M243.1 387.6l-0.7 0.9" stroke="#8c3830" stroke-width="1.25"/><path d="M237.6 369.2l1.1 0.0" stroke="#8c9c30" stroke-width="1.25"/><path d="M224.0 377.5l-1.0 0.4M244.6 370.9l0.8 0.7M225.0 383.2l-0.2 1.1M250.9 380.3l-0.4 1.0M239.6 373.7l-1.1 0.1" stroke="#b0bc48" stroke-width="1.25"/><path d="M249.0 382.1l-0.9 0.6M232.3 398.1l-0.0 1.1M229.2 394.4l0.5 1.0M244.4 380.1l1.1 0.1M241.1 384.8l0.7 0.9M230.2 382.9l1.0 0.5M250.0 383.9l-1.0 0.4M244.4 391.8l0.6 0.9M244.9 387.3l0.8 0.7M236.0 391.9l0.6 0.9M253.4 386.9l-0.9 0.6M230.3 371.7l-0.4 1.0M241.8 391.0l0.6 0.9M245.4 398.2l-1.1 0.1M235.0 395.4l0.6 0.9M223.6 391.5l0.1 1.1M238.7 376.9l-0.6 0.9M230.3 391.1l0.6 0.9M252.6 380.1l-0.3 1.0M245.3 390.4l0.0 1.1M235.3 375.9l0.3 1.1M243.8 397.7l1.1 0.1M239.0 378.5l-0.8 0.8M246.1 395.9l0.8 0.8" stroke="#9c4a40" stroke-width="1.25"/><path d="M245.4 390.3l-1.1 0.0" stroke="#98a834" stroke-width="1.25"/><path d="M227.9 377.7l0.9 0.6M235.4 384.1l1.0 0.5" stroke="#a4b03c" stroke-width="1.25"/></g>
<line x1="33" y1="219.4" x2="261.5" y2="219.4" stroke="#d6d6d6" stroke-width="2"/>
<line x1="33" y1="266.6" x2="261.5" y2="266.6" stroke="#d6d6d6" stroke-width="2"/>
<line x1="33" y1="314" x2="261.5" y2="314" stroke="#d6d6d6" stroke-width="2"/>
<line x1="33" y1="361.2" x2="261.5" y2="361.2" stroke="#d6d6d6" stroke-width="2"/>
<line x1="33" y1="408" x2="261.5" y2="408" stroke="#d6d6d6" stroke-width="2"/>
<line x1="72.6" y1="219.4" x2="72.6" y2="408" stroke="#d6d6d6" stroke-width="2"/>
<line x1="119.9" y1="219.4" x2="119.9" y2="408" stroke="#d6d6d6" stroke-width="2"/>
<line x1="167.2" y1="219.4" x2="167.2" y2="408" stroke="#d6d6d6" stroke-width="2"/>
<line x1="214.2" y1="219.4" x2="214.2" y2="408" stroke="#d6d6d6" stroke-width="2"/>
<line x1="261.4" y1="219.4" x2="261.4" y2="408" stroke="#d6d6d6" stroke-width="2"/>
<text x="69.8" y="244.9" text-anchor="end" class="wt" style="font-size:8.6px">0 mg/L</text>
<text x="69.8" y="291.9" text-anchor="end" class="wt" style="font-size:8.6px">100 mg/L</text>
<text x="69.8" y="338.9" text-anchor="end" class="wt" style="font-size:8.6px">300 mg/L</text>
<text x="69.8" y="386" text-anchor="end" class="wt" style="font-size:8.6px">500 mg/L</text>
<text x="49.6" y="418.2" text-anchor="middle" class="wt" style="font-size:8.6px">6 cm</text>
<path d="M42.4 420.9V424.4H56.4V420.9" stroke="#fff" stroke-width="1.3" fill="none"/>
<text x="96.2" y="417.2" text-anchor="middle" class="wt" style="font-size:8.6px">0</text>
<text x="143.5" y="417.2" text-anchor="middle" class="wt" style="font-size:8.6px">48</text>
<text x="190.6" y="417.2" text-anchor="middle" class="wt" style="font-size:8.6px">72</text>
<text x="237.7" y="417.2" text-anchor="middle" class="wt" style="font-size:8.6px">84</text>
<line x1="93.5" y1="418.8" x2="242.4" y2="418.8" stroke="#fff" stroke-width="1.2"/>
<text x="87.3" y="426.6" class="wt" style="font-size:8.6px" textLength="158.5" lengthAdjust="spacingAndGlyphs">Hours after ethylene treatment <tspan font-style="italic">in vitro</tspan></text>
<rect x="336" y="35.3" width="205.5" height="136.89999999999998" fill="none" stroke="#000" stroke-width="2"/><line x1="330" y1="172.2" x2="336" y2="172.2" stroke="#000" stroke-width="2"/><text x="327.5" y="176.8" text-anchor="end" class="tk">0</text><line x1="330" y1="144.8" x2="336" y2="144.8" stroke="#000" stroke-width="2"/><text x="327.5" y="149.4" text-anchor="end" class="tk">70</text><line x1="330" y1="117.4" x2="336" y2="117.4" stroke="#000" stroke-width="2"/><text x="327.5" y="122.0" text-anchor="end" class="tk">140</text><line x1="330" y1="90.1" x2="336" y2="90.1" stroke="#000" stroke-width="2"/><text x="327.5" y="94.7" text-anchor="end" class="tk">210</text><line x1="330" y1="62.7" x2="336" y2="62.7" stroke="#000" stroke-width="2"/><text x="327.5" y="67.3" text-anchor="end" class="tk">280</text><line x1="330" y1="35.3" x2="336" y2="35.3" stroke="#000" stroke-width="2"/><text x="327.5" y="39.9" text-anchor="end" class="tk">350</text><line x1="361.5" y1="172.2" x2="361.5" y2="178.2" stroke="#000" stroke-width="2"/><text x="361.5" y="191.7" text-anchor="middle" class="tk">0</text><line x1="438.5" y1="172.2" x2="438.5" y2="178.2" stroke="#000" stroke-width="2"/><text x="438.5" y="191.7" text-anchor="middle" class="tk">48</text><line x1="515.5" y1="172.2" x2="515.5" y2="178.2" stroke="#000" stroke-width="2"/><text x="515.5" y="191.7" text-anchor="middle" class="tk">72</text><polyline points="361.5,160.1 438.5,73.5 515.5,90.5" fill="none" stroke="#a010ec" stroke-width="2"/><path d="M438.5 67.8V79.1M435.2 67.8H441.8M435.2 79.1H441.8" stroke="#a010ec" stroke-width="1.8" fill="none"/><path d="M361.5 155.5L365.8 160.1L361.5 164.7L357.2 160.1Z" fill="#a010ec"/><path d="M438.5 68.9L442.8 73.5L438.5 78.1L434.2 73.5Z" fill="#a010ec"/><path d="M515.5 85.9L519.8 90.5L515.5 95.1L511.2 90.5Z" fill="#a010ec"/><polyline points="361.5,160.5 438.5,115.5 515.5,113.5" fill="none" stroke="#16c016" stroke-width="2"/><path d="M361.5 155.3L366.0 164.3H357.0Z" fill="#16c016"/><path d="M438.5 110.3L443.0 119.3H434.0Z" fill="#16c016"/><path d="M515.5 108.3L520.0 117.3H511.0Z" fill="#16c016"/><polyline points="361.5,160.1 438.5,149.9 515.5,119.4" fill="none" stroke="#f50a0a" stroke-width="2"/><rect x="357.5" y="156.1" width="8" height="8" fill="#f50a0a"/><rect x="434.5" y="145.9" width="8" height="8" fill="#f50a0a"/><rect x="511.5" y="115.4" width="8" height="8" fill="#f50a0a"/><polyline points="361.5,163.2 438.5,161.6 515.5,161.6" fill="none" stroke="#0000f0" stroke-width="2"/><circle cx="361.5" cy="163.2" r="4.2" fill="#0000f0"/><circle cx="438.5" cy="161.6" r="4.2" fill="#0000f0"/><circle cx="515.5" cy="161.6" r="4.2" fill="#0000f0"/><line x1="343.8" y1="47.4" x2="358.5" y2="47.4" stroke="#0000f0" stroke-width="2"/><circle cx="351.2" cy="47.4" r="4.2" fill="#0000f0"/><text x="366.5" y="51.3" class="lg">0 mg/L</text><line x1="343.8" y1="59.0" x2="358.5" y2="59.0" stroke="#f50a0a" stroke-width="2"/><rect x="347.2" y="55.0" width="8" height="8" fill="#f50a0a"/><text x="366.5" y="62.9" class="lg">100 mg/L</text><line x1="343.8" y1="70.7" x2="358.5" y2="70.7" stroke="#16c016" stroke-width="2"/><path d="M351.2 65.5L355.7 74.5H346.7Z" fill="#16c016"/><text x="366.5" y="74.6" class="lg">300 mg/L</text><line x1="343.8" y1="82.3" x2="358.5" y2="82.3" stroke="#a010ec" stroke-width="2"/><path d="M351.2 77.8L355.5 82.3L351.2 86.9L346.9 82.3Z" fill="#a010ec"/><text x="366.5" y="86.2" class="lg">500 mg/L</text>
<text x="337.6" y="202.6" class="ax" style="font-size:10.3px" textLength="202.2" lengthAdjust="spacingAndGlyphs">Hours after ethylene treatment <tspan font-style="italic">in vivo</tspan></text>
<text transform="translate(287,102.3) rotate(-90)" text-anchor="middle" style="font-size:13px">Anthocyanin content</text>
<text transform="translate(301.9,102.3) rotate(-90)" text-anchor="middle" style="font-size:13px">(nmol/g)</text>
<rect x="336" y="245.8" width="205.20000000000005" height="137.0" fill="none" stroke="#000" stroke-width="2"/><line x1="330" y1="382.8" x2="336" y2="382.8" stroke="#000" stroke-width="2"/><text x="327.5" y="387.4" text-anchor="end" class="tk">0</text><line x1="330" y1="355.4" x2="336" y2="355.4" stroke="#000" stroke-width="2"/><text x="327.5" y="360.0" text-anchor="end" class="tk">180</text><line x1="330" y1="328.0" x2="336" y2="328.0" stroke="#000" stroke-width="2"/><text x="327.5" y="332.6" text-anchor="end" class="tk">360</text><line x1="330" y1="300.6" x2="336" y2="300.6" stroke="#000" stroke-width="2"/><text x="327.5" y="305.2" text-anchor="end" class="tk">540</text><line x1="330" y1="273.2" x2="336" y2="273.2" stroke="#000" stroke-width="2"/><text x="327.5" y="277.8" text-anchor="end" class="tk">720</text><line x1="330" y1="245.8" x2="336" y2="245.8" stroke="#000" stroke-width="2"/><text x="327.5" y="250.4" text-anchor="end" class="tk">900</text><line x1="354.8" y1="382.8" x2="354.8" y2="388.8" stroke="#000" stroke-width="2"/><text x="354.8" y="402.3" text-anchor="middle" class="tk">0</text><line x1="410.7" y1="382.8" x2="410.7" y2="388.8" stroke="#000" stroke-width="2"/><text x="410.7" y="402.3" text-anchor="middle" class="tk">48</text><line x1="466.6" y1="382.8" x2="466.6" y2="388.8" stroke="#000" stroke-width="2"/><text x="466.6" y="402.3" text-anchor="middle" class="tk">72</text><line x1="522.5" y1="382.8" x2="522.5" y2="388.8" stroke="#000" stroke-width="2"/><text x="522.5" y="402.3" text-anchor="middle" class="tk">84</text><polyline points="354.8,380.5 410.7,374.0 466.6,340.9 522.5,299.8" fill="none" stroke="#a010ec" stroke-width="2"/><path d="M354.8 375.9L359.1 380.5L354.8 385.1L350.5 380.5Z" fill="#a010ec"/><path d="M410.7 369.4L415.0 374.0L410.7 378.6L406.4 374.0Z" fill="#a010ec"/><path d="M466.6 336.3L470.9 340.9L466.6 345.5L462.3 340.9Z" fill="#a010ec"/><path d="M522.5 295.2L526.8 299.8L522.5 304.4L518.2 299.8Z" fill="#a010ec"/><polyline points="354.8,380.5 410.7,370.0 466.6,339.4 522.5,279.3" fill="none" stroke="#16c016" stroke-width="2"/><path d="M522.5 273.4V279.3M519.2 273.4H525.8" stroke="#16c016" stroke-width="1.6" fill="none"/><path d="M354.8 375.3L359.3 384.3H350.3Z" fill="#16c016"/><path d="M410.7 364.8L415.2 373.8H406.2Z" fill="#16c016"/><path d="M466.6 334.2L471.1 343.2H462.1Z" fill="#16c016"/><path d="M522.5 274.1L527.0 283.1H518.0Z" fill="#16c016"/><polyline points="354.8,380.5 410.7,377.0 466.6,356.9 522.5,300.9" fill="none" stroke="#f50a0a" stroke-width="2"/><rect x="350.8" y="376.5" width="8" height="8" fill="#f50a0a"/><rect x="406.7" y="373.0" width="8" height="8" fill="#f50a0a"/><rect x="462.6" y="352.9" width="8" height="8" fill="#f50a0a"/><rect x="518.5" y="296.9" width="8" height="8" fill="#f50a0a"/><polyline points="354.8,380.5 410.7,379.5 466.6,374.0 522.5,369.4" fill="none" stroke="#0000f0" stroke-width="2"/><circle cx="354.8" cy="380.5" r="4.2" fill="#0000f0"/><circle cx="410.7" cy="379.5" r="4.2" fill="#0000f0"/><circle cx="466.6" cy="374.0" r="4.2" fill="#0000f0"/><circle cx="522.5" cy="369.4" r="4.2" fill="#0000f0"/><line x1="343.8" y1="257.5" x2="358.5" y2="257.5" stroke="#0000f0" stroke-width="2"/><circle cx="351.2" cy="257.5" r="4.2" fill="#0000f0"/><text x="366.5" y="261.4" class="lg">0 mg/L</text><line x1="343.8" y1="269.1" x2="358.5" y2="269.1" stroke="#f50a0a" stroke-width="2"/><rect x="347.2" y="265.1" width="8" height="8" fill="#f50a0a"/><text x="366.5" y="273.0" class="lg">100 mg/L</text><line x1="343.8" y1="280.8" x2="358.5" y2="280.8" stroke="#16c016" stroke-width="2"/><path d="M351.2 275.6L355.7 284.6H346.7Z" fill="#16c016"/><text x="366.5" y="284.7" class="lg">300 mg/L</text><line x1="343.8" y1="292.4" x2="358.5" y2="292.4" stroke="#a010ec" stroke-width="2"/><path d="M351.2 287.8L355.5 292.4L351.2 297.1L346.9 292.4Z" fill="#a010ec"/><text x="366.5" y="296.3" class="lg">500 mg/L</text>
<text x="336.8" y="413.6" class="ax" style="font-size:10.8px" textLength="202.8" lengthAdjust="spacingAndGlyphs">Hours after ethylene treatment <tspan font-style="italic">in vitro</tspan></text>
<text transform="translate(287,311.5) rotate(-90)" text-anchor="middle" style="font-size:13px">Anthocyanin content</text>
<text transform="translate(301.9,312.6) rotate(-90)" text-anchor="middle" style="font-size:13px">(nmol/g)</text>
<defs><linearGradient id="g_mix1" x1="0" y1="0" x2="0.3" y2="1"><stop offset="0.2" stop-color="#b8a440"/><stop offset="0.85" stop-color="#c86434"/></linearGradient><linearGradient id="g_mix2" x1="0" y1="0" x2="0.3" y2="1"><stop offset="0.2" stop-color="#bcc444"/><stop offset="0.85" stop-color="#d07038"/></linearGradient><linearGradient id="g_mix3" x1="0" y1="0" x2="0.3" y2="1"><stop offset="0.2" stop-color="#b4bc40"/><stop offset="0.85" stop-color="#c86030"/></linearGradient><linearGradient id="g_ry" x1="0" y1="0" x2="0.3" y2="1"><stop offset="0.2" stop-color="#c04030"/><stop offset="0.85" stop-color="#d8b048"/></linearGradient></defs>
</svg></body></html>
